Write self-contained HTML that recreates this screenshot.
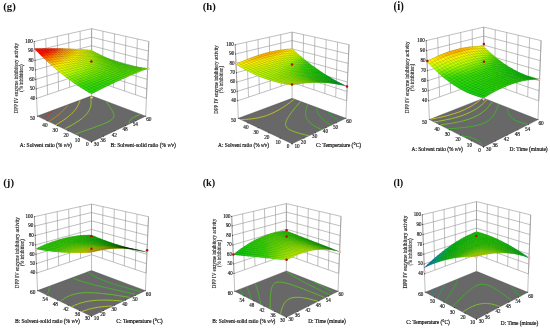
<!DOCTYPE html>
<html><head><meta charset="utf-8"><style>html,body{margin:0;padding:0;background:#fff;width:550px;height:330px;overflow:hidden}svg{display:block}text{font-family:"Liberation Serif",serif;fill:#111}</style></head>
<body><svg width="550" height="330" viewBox="0 0 550 330">
<rect width="550" height="330" fill="#fff"/>
<g><polygon points="37.37,116.11 91.56,95.87 145.69,116.14 91.49,141.98" fill="#686868" stroke="#444" stroke-width="0.4"/>
<path transform="scale(.1)" fill="none" stroke="#5ec321" stroke-width="9.0" d="M1059 1013l4 4 3 5 4 5 4 6 4 5 3 5 3 4 4 5 3 5 4 6 4 5 3 6 3 5 3 4 3 5 4 6 3 6 3 5 3 4 3 6 3 7 2 5 2 5 2 6 1 5 1 6 1 5 0 7-1 4-1 7-3 6-4 6-5 5-6 5-10 8-7 4-12 7-12 7-14 6-13 6-15 6-14 6-15 6-15 6-10 3-16 6-16 6-16 6-10 4-16 5-17 6-11 4-16 6-17 6-11 4-17 5-17 6-11 4-18 6-17 6"/>
<path transform="scale(.1)" fill="none" stroke="#5ec321" stroke-width="9.0" d="M1293 1239l-1-5 0-7 0-5 2-6 2-7 3-6 5-5 7-7 7-6 9-6 9-5 11-6 12-6 13-5 12-6 13-5"/>
<path transform="scale(.1)" fill="none" stroke="#a3d41d" stroke-width="9.0" d="M904 963l0 4 2 5 1 5 0 3 1 6 1 4 0 5 1 5 0 4 1 6 0 4 0 6 0 3 0 7-1 3 0 6-1 5 0 5-1 6-1 3-1 7-2 5-1 4-2 6-2 6-2 4-2 5-3 6-4 6-3 5-3 5-3 5-4 6-4 5-4 6-5 5-5 6-6 6-6 6-7 7-6 5-7 5-6 6-9 7-8 5-7 6-11 7-7 5-10 6-10 6-10 7-10 6-13 7-8 5-13 7-14 7-9 5-14 7-14 7"/>
<path transform="scale(.1)" fill="none" stroke="#d4cb1d" stroke-width="9.0" d="M800 1002l-1 3-2 6-1 5-2 4-2 6-1 5-2 4-3 6-2 5-2 4-3 5-3 6-3 6-3 4-2 5-4 5-4 6-4 5-4 6-5 6-4 5-5 6-5 5-5 6-6 5-5 5-6 6-6 5-6 5-6 6-7 6-9 7-6 5-7 5-7 5-11 8-7 5-8 5-11 8-8 5-11 7-9 5-9 6-12 7-10 6"/>
<path transform="scale(.1)" fill="none" stroke="#d4871d" stroke-width="9.0" d="M681 1046l-3 5-3 4-4 5-4 6-5 5-4 6-5 5-5 6-5 5-5 5-5 6-5 5-6 6-5 5-6 5-6 5-6 6-6 5-7 5-7 6-9 7-7 6-7 5-7 5-9 7-9 6-8 5-8 5-11 8-8 5"/>
<path transform="scale(.1)" fill="none" stroke="#d42b1d" stroke-width="9.0" d="M542 1098l-6 6-6 5-6 5-6 5-6 6-7 5-6 5-7 5-8 7-9 6-7 5-7 6-7 5-11 7-8 6-7 5"/>
<path d="M37.37 116.11h0.01M91.49 141.98h0.01M47.11 120.77h0.01M103.49 136.26h0.01M57.36 125.66h0.01M114.87 130.83h0.01M68.14 130.82h0.01M125.67 125.68h0.01M79.5 136.25h0.01M135.93 120.79h0.01M91.49 141.98h0.01M145.69 116.14h0.01" stroke="#222" stroke-width="1" stroke-linecap="round"/>
<path transform="scale(.1)" fill="none" stroke="#949494" stroke-width="6.0" d="M366 984l550-186 548 186M362 889l554-176 552 176M358 794l558-166 556 166M354 699l562-156 560 157M350 605l566-148 564 148M346 510l570-138 568 138M342 415l574-128 572 128M366 984l-24-569M916 798l0-511M476 947l-19-558M1025 835l5-522M586 909l-14-545M1135 873l10-535M696 872l-10-534M1245 910l14-546M806 835l-5-522M1355 947l19-557M916 798l0-511M1464 984l24-569"/>
<path transform="scale(.1)" fill="none" stroke="#949494" stroke-width="6.0" d="M374 1161l-8-177-24-569M1457 1161l7-177 24-569M916 959l0-161"/>
<path d="M36.63 98.37h0.01M36.23 88.89h0.01M35.83 79.41h0.01M35.43 69.93h0.01M35.03 60.45h0.01M34.64 50.98h0.01M34.24 41.5h0.01" stroke="#222" stroke-width="1" stroke-linecap="round"/>
<g transform="scale(.1)"><path fill="#b4ff00" d="M890 500l26 0 25 17-25 0zM888 581l27-4 28 17-28 4zM809 665l29-8 28 19-29 8zM726 706l30-9 29 21-31 9z"/><path fill="#a2f900" d="M913 513l25 0 26 16-25 1zM912 611l28-6 28 17-28 6zM834 681l30-8 28 18-29 9zM723 731l32-10 28 21-31 11zM695 739l32-10 28 22-31 10z"/><path fill="#c3fc00" d="M867 498l26 0 25 17-26 1zM866 510l27 0 25 17-26 1zM865 537l27-2 26 17-26 3zM865 551l27-2 26 17-27 3zM838 602l28-5 27 18-28 6zM811 624l29-6 28 19-29 6zM784 649l29-7 28 19-30 8zM700 688l31-9 28 22-31 9z"/><path fill="#93f603" d="M936 526l25-1 27 16-26 1zM937 624l28-6 28 16-28 7z"/><path fill="#b7ff00" d="M890 512l26-1 25 17-25 1zM889 524l27-1 26 16-26 2zM889 551l26-3 27 17-27 3zM888 565l27-3 27 17-27 4zM862 617l29-6 27 18-28 6zM836 640l29-7 28 18-29 7zM698 713l31-9 28 21-31 10z"/><path fill="#d2f900" d="M843 496l27 0 25 18-26 0zM843 509l26-1 26 18-27 1zM842 523l27-2 26 18-27 2zM786 608l29-5 28 19-29 6z"/><path fill="#84f003" d="M959 538l25-1 27 15-25 2z"/><path fill="#a5f900" d="M913 525l26-1 26 16-26 2zM912 594l28-4 27 16-27 5zM861 655l29-7 28 17-29 8zM666 747l32-10 29 22-32 11zM637 755l33-10 28 23-32 11z"/><path fill="#def900" d="M820 495l26-1 26 18-27 1zM819 508l27-1 25 18-26 2zM818 522l27-1 26 18-27 2zM789 571l29-4 26 19-28 4zM762 592l29-5 27 19-29 6zM734 615l29-6 28 20-30 7zM590 686l32-8 27 24-31 9z"/><path fill="#75ed03" d="M982 550l26-2 27 15-26 2zM1009 600l26-4 28 14-26 5zM1010 614l27-5 28 14-27 6zM1011 630l27-7 28 15-26 7zM1012 645l27-6 29 14-27 7zM989 686l28-9 30 15-28 9zM912 726l29-10 30 17-29 11z"/><path fill="#96f603" d="M936 538l26-2 26 16-26 2zM937 608l27-5 28 16-27 5zM887 670l28-8 29 17-29 9zM833 703l30-9 29 19-30 9z"/><path fill="#edf600" d="M796 493l27 0 25 18-27 1zM795 507l27-1 26 19-28 1zM765 555l29-3 26 19-28 4zM738 575l29-4 27 20-29 4zM709 597l30-5 27 21-29 5zM593 660l32-7 28 23-32 8z"/><path fill="#6cea06" d="M1006 562l26-3 27 14-26 4zM1034 612l26-6 28 14-26 6zM1038 657l27-7 29 14-27 8zM1016 698l27-9 30 15-28 9z"/><path fill="#87f303" d="M959 550l26-2 27 15-26 3zM962 637l28-6 28 15-27 7zM832 726l30-10 30 19-31 10z"/><path fill="#a8fc00" d="M913 537l26-1 26 16-26 2zM913 551l26-3 27 16-27 3zM913 564l26-3 27 17-26 3zM913 579l26-4 28 17-27 4zM808 687l29-9 29 19-30 9z"/><path fill="#c6fc00" d="M866 523l26-1 26 17-26 2zM839 585l28-5 27 18-28 5zM757 653l30-7 28 20-30 8zM672 694l31-9 28 22-31 9z"/><path fill="#fcf300" d="M772 492l27-1 25 19-27 1zM742 538l28-2 26 20-28 3zM656 603l30-5 27 22-30 6zM597 635l31-7 28 23-32 8z"/><path fill="#60e706" d="M1030 573l25-3 28 14-25 3zM1057 609l26-5 28 13-25 6zM1086 648l26-7 30 13-27 7zM1088 663l26-8 30 13-26 9zM1090 679l27-8 30 13-27 9zM1067 703l28-10 30 14-28 10zM1330 724l26-13 32 9-25 12z"/><path fill="#7bf003" d="M983 562l26-2 27 14-26 4zM938 698l29-9 29 16-28 10zM776 767l31-11 29 20-31 12zM747 776l32-11 29 21-31 12z"/><path fill="#99f603" d="M936 550l26-2 27 16-26 3zM936 564l27-3 27 15-27 4zM937 578l26-4 27 16-26 4zM937 592l27-4 27 16-27 5zM912 646l28-7 29 16-28 8zM806 710l30-10 29 20-30 10z"/><path fill="#baff00" d="M889 537l27-2 26 17-27 2zM863 599l28-5 27 18-28 5zM782 670l30-7 28 19-30 8zM669 720l32-10 28 23-31 10zM641 727l31-9 29 22-32 11z"/><path fill="#57e706" d="M1054 584l25-4 28 13-25 5zM1110 643l26-7 29 13-26 7zM1138 668l26-8 30 11-26 9zM1141 683l26-9 30 12-26 10zM1344 687l24-11 32 8-24 11zM1320 694l25-10 33 8-25 11zM1143 700l27-10 30 12-26 10zM1297 702l25-11 33 9-26 11zM1274 710l25-11 32 9-26 12zM1146 717l27-11 31 12-27 11zM1250 718l26-11 32 10-26 12zM1121 725l27-11 31 13-27 11zM1096 733l28-11 31 13-28 12zM1254 735l26-12 32 10-26 12zM1071 741l28-11 31 14-29 12zM1045 750l28-11 31 14-28 12zM1258 753l26-13 33 9-27 14zM829 802l31-13 30 19-31 14z"/><path fill="#6fed03" d="M1007 574l26-3 27 14-25 4zM1014 680l28-9 29 15-27 9zM990 705l28-10 30 16-28 10zM964 712l29-10 30 16-29 10z"/><path fill="#ffe400" d="M747 490l28 0 25 19-27 1zM600 611l31-6 27 23-31 6z"/><path fill="#8af303" d="M960 563l26-3 27 15-26 4zM962 621l27-6 28 15-27 7zM938 659l28-7 28 16-28 8zM912 684l29-8 29 17-29 9zM805 734l30-10 30 19-31 11zM777 741l31-10 29 20-30 11z"/><path fill="#51e406" d="M1079 594l25-4 28 13-25 4zM1133 639l26-7 29 12-25 7zM1162 662l25-8 31 12-26 8zM1316 681l24-10 32 8-24 10zM1242 687l26-9 31 10-26 10zM1191 686l26-9 31 11-26 9zM1293 688l25-10 31 8-25 11zM1218 694l26-9 31 10-25 10zM1151 754l28-12 31 12-27 13zM1098 753l28-12 31 13-28 13zM1073 762l28-12 31 14-28 12zM1208 773l27-13 33 11-28 14zM939 787l30-12 31 17-30 13zM743 833l33-13 30 21-32 14z"/><path fill="#f9f300" d="M770 506l28-1 25 19-27 2z"/><path fill="#66ea06" d="M1031 585l26-4 28 14-26 4zM1060 637l27-6 29 13-27 7zM1062 652l27-7 29 14-27 7zM1064 668l27-8 29 14-27 8zM1041 692l27-9 30 14-28 9zM1400 697l24-11 33 6-24 12zM1377 706l25-12 33 7-25 12zM1017 717l28-10 30 15-28 11zM991 725l29-10 30 15-29 11zM774 794l32-12 29 20-31 13zM746 804l31-12 30 21-32 13z"/><path fill="#7ef003" d="M984 575l26-3 27 14-26 4zM987 633l27-6 28 15-27 7zM988 650l27-7 29 15-28 7zM963 673l28-8 29 15-28 9zM912 705l29-9 29 16-28 10z"/><path fill="#ffd200" d="M722 489l28-1 26 20-28 1zM604 587l31-5 26 23-30 6zM544 618l32-6 27 24-32 7z"/><path fill="#cffc00" d="M841 537l27-2 27 18-28 2zM840 552l28-3 26 18-27 3zM813 587l29-5 27 19-28 5zM759 632l29-6 28 19-30 7zM702 664l31-8 28 21-31 8zM586 714l32-9 28 24-32 9z"/><path fill="#eaf600" d="M793 522l28-2 26 19-28 2zM680 622l30-6 28 21-31 7zM622 655l31-7 28 22-32 8z"/><path fill="#4be106" d="M1103 604l25-5 29 13-25 5z"/><path fill="#5de706" d="M1056 596l25-4 28 13-25 5zM1084 633l26-6 29 13-26 7zM1394 684l24-10 33 6-24 11zM1372 692l24-11 33 7-25 11zM1092 696l27-9 30 13-27 10zM1349 700l24-11 33 8-25 11zM1325 708l25-11 33 8-25 12zM1069 722l28-11 30 14-28 11zM1044 730l28-11 30 14-28 11zM1306 733l26-12 33 8-26 13zM1018 738l28-11 31 15-29 11zM992 746l29-11 30 15-29 12zM966 755l29-12 30 16-29 12zM939 764l30-12 30 17-30 12zM912 773l30-12 30 17-30 13z"/><path fill="#ffea00" d="M745 506l28-2 26 20-28 2zM716 539l29-3 26 21-29 3zM540 644l32-7 27 25-32 7z"/><path fill="#72ed03" d="M1008 587l26-4 28 14-26 5zM1013 662l28-8 29 15-28 8zM938 719l29-10 30 17-29 10z"/><path fill="#8df303" d="M960 576l27-3 27 15-26 4zM961 590l26-4 28 15-27 5zM961 605l27-5 28 16-27 5zM886 690l29-8 29 17-29 9zM749 750l32-11 29 21-31 11zM721 758l32-11 29 21-32 12zM692 766l32-11 29 22-31 12zM663 775l33-11 29 23-32 11z"/><path fill="#ffc000" d="M697 488l29-1 25 21-28 1zM667 522l29-2 26 21-29 3zM637 542l30-3 26 22-29 4zM607 565l31-4 26 23-30 4z"/><path fill="#dbf900" d="M817 537l27-2 26 18-27 3zM705 640l30-6 28 21-31 7zM618 680l32-8 28 23-32 9z"/><path fill="#45e106" d="M1128 614l25-6 29 12-25 6zM1182 644l25-7 30 11-25 7zM1208 652l25-8 30 11-25 8zM1284 661l25-8 31 9-25 9zM1235 660l25-8 30 9-25 9zM1103 795l28-14 32 14-29 14zM1048 794l29-13 32 14-29 14zM1157 795l28-14 32 12-28 15zM967 802l30-14 31 17-30 14zM828 829l32-13 30 19-31 14z"/><path fill="#f6f300" d="M769 522l27-2 26 19-27 2zM740 556l28-3 27 20-29 4zM712 577l29-4 27 20-30 5zM683 600l30-5 27 21-30 6zM625 630l31-6 27 23-31 7zM535 671l33-8 27 25-32 9z"/><path fill="#54e406" d="M1081 606l25-5 28 13-25 6zM1108 629l25-6 29 13-25 6zM1136 653l25-7 30 11-26 8zM1165 677l26-9 30 12-26 9zM1366 679l25-10 32 7-24 11zM1269 695l26-10 31 9-25 11zM1167 693l27-10 30 12-26 10zM1194 702l27-10 31 10-26 11zM1246 702l26-10 31 10-26 11zM1222 710l26-11 32 11-27 11zM1170 709l27-10 31 11-27 11zM1198 718l26-11 32 11-27 12zM1173 726l27-11 32 12-27 12zM1226 727l26-12 32 11-27 12zM1149 735l27-11 31 12-27 12zM1201 736l27-12 32 11-27 12zM1176 745l28-12 31 11-27 13zM1124 744l27-12 31 13-27 12zM1229 744l27-12 32 10-27 13zM1204 754l28-13 32 11-27 14zM1233 763l27-14 32 11-27 14zM1019 759l29-12 31 15-29 13zM993 768l29-12 31 16-30 12zM966 778l30-13 30 17-29 12zM801 812l31-13 31 20-32 13zM772 822l32-13 30 21-31 14z"/><path fill="#69ea06" d="M1033 598l25-5 28 14-25 5zM1039 674l27-8 30 14-27 9zM1423 689l24-12 33 6-24 12zM965 733l29-11 30 16-29 11zM939 741l29-11 30 17-29 11zM912 749l30-11 30 17-30 12zM885 758l30-12 30 18-30 12zM858 766l30-11 30 18-30 12zM830 775l31-11 30 19-31 12zM802 785l31-12 30 19-31 13z"/><path fill="#ffd800" d="M720 505l29-1 25 20-28 2zM661 561l30-4 26 22-29 4z"/><path fill="#81f003" d="M985 588l26-4 27 15-26 5zM985 603l27-5 28 15-27 5zM986 618l27-6 28 15-27 6zM886 712l29-10 29 18-29 10z"/><path fill="#ffae00" d="M672 487l29-1 25 21-29 1z"/><path fill="#e7f600" d="M792 537l28-2 26 19-28 3zM764 573l28-4 27 19-28 5zM736 594l29-5 27 20-29 6z"/><path fill="#42e106" d="M1154 623l25-6 29 11-25 6zM1022 805l29-14 31 15-29 14zM1131 806l29-14 32 13-29 15zM940 812l30-13 31 17-30 14zM800 840l31-14 31 20-32 15z"/><path fill="#4ee406" d="M1106 616l25-5 29 12-26 6zM1159 648l25-7 30 11-25 8zM1339 674l24-10 32 8-25 10zM1188 671l26-8 30 10-25 10zM1265 681l25-10 32 9-25 10zM1215 680l26-10 30 11-25 9zM1126 764l28-13 31 13-27 13zM1179 764l28-13 32 12-28 13zM1047 771l28-12 31 15-28 13zM912 797l30-12 31 17-30 14z"/><path fill="#fff000" d="M744 522l28-2 26 19-28 3zM568 639l32-6 27 23-31 8z"/><path fill="#ffc600" d="M695 504l28-1 26 21-28 2z"/><path fill="#ff9c00" d="M646 486l29-1 26 21-29 2z"/><path fill="#c0fc00" d="M864 567l27-4 27 17-27 4zM728 682l30-9 28 21-30 9z"/><path fill="#d8f900" d="M816 553l27-3 27 18-28 4zM788 589l28-5 28 19-29 6zM760 611l30-5 27 19-29 6zM647 675l31-8 28 22-31 9z"/><path fill="#3fe106" d="M1179 631l25-6 30 11-25 7zM1231 647l25-7 30 10-25 7zM1257 655l25-8 31 9-25 8zM1076 806l29-14 32 14-29 15zM912 823l31-13 30 17-30 15z"/><path fill="#4be406" d="M1131 626l25-6 29 12-25 6zM1185 657l25-8 31 11-26 8zM1212 665l25-8 30 10-25 9zM1288 674l25-9 32 9-25 9zM1238 673l26-9 30 10-25 10zM1100 773l29-12 31 13-28 13zM1154 774l28-13 32 12-28 14zM1183 784l27-14 33 12-28 14zM1020 781l29-12 31 15-29 13zM884 808l31-13 31 18-31 13z"/><path fill="#f0f600" d="M767 538l28-3 26 20-28 3zM653 626l30-6 28 22-31 7zM565 666l32-8 27 24-32 8z"/><path fill="#5ae706" d="M1082 619l26-5 29 13-26 6zM1112 658l26-8 30 13-26 8zM1114 673l27-8 30 12-27 9zM1116 690l27-10 30 13-26 10zM1119 707l27-10 30 12-27 11zM1094 714l27-10 31 13-28 11zM1302 717l25-12 33 9-26 12zM1278 726l26-12 32 9-26 13zM1282 743l26-13 33 9-26 14zM885 782l30-12 30 18-30 13zM857 792l31-13 30 19-31 13z"/><path fill="#ffe100" d="M718 522l29-2 26 20-29 2zM511 649l32-7 27 25-32 8z"/><path fill="#ffb700" d="M669 504l29-2 26 22-29 2zM580 567l31-4 26 23-31 5z"/><path fill="#ff8700" d="M620 485l30-1 25 22-29 2z"/><path fill="#ccfc00" d="M839 568l28-4 27 18-28 4zM730 658l30-7 28 21-30 7zM615 707l32-9 28 23-32 10z"/><path fill="#e1f600" d="M791 554l28-3 26 19-28 3z"/><path fill="#3fde06" d="M1205 639l25-6 30 10-25 7zM771 852l32-14 30 20-32 15z"/><path fill="#48e106" d="M1156 635l25-6 30 11-25 7zM1261 667l25-8 31 9-25 9zM1311 668l25-9 31 8-24 9zM1128 784l29-13 32 13-29 14zM1074 784l29-14 31 14-28 14zM994 791l29-13 31 16-29 14zM857 818l31-13 30 19-31 14z"/><path fill="#63ea06" d="M1059 623l26-6 29 13-26 6zM1065 685l28-9 29 14-27 9zM1042 710l28-10 30 14-28 11zM1354 714l25-11 33 7-26 13zM717 814l32-12 29 21-32 14z"/><path fill="#ffcf00" d="M693 522l28-2 26 20-28 3z"/><path fill="#ffa500" d="M643 504l30-2 25 22-29 2zM583 545l31-3 26 23-30 4z"/><path fill="#c0ff00" d="M864 583l27-5 27 18-27 4z"/><path fill="#ff6f00" d="M594 485l30-2 25 23-30 2zM532 526l31-3 26 24-31 4z"/><path fill="#d5f900" d="M814 569l28-3 27 18-28 4zM732 636l30-6 27 20-29 7zM675 669l31-8 28 22-31 8z"/><path fill="#6ced03" d="M1035 626l27-6 28 14-26 6zM1037 641l26-7 29 14-27 8z"/><path fill="#b1fc00" d="M888 597l27-5 28 17-28 5z"/><path fill="#ff9600" d="M617 504l30-2 25 22-29 3zM587 524l30-3 26 23-30 4zM495 575l32-5 27 25-32 6z"/><path fill="#ff5400" d="M567 484l30-1 26 23-30 2zM536 505l31-3 26 24-31 3z"/><path fill="#ffdb00" d="M690 540l29-3 26 21-29 4zM572 614l32-6 27 24-32 7z"/><path fill="#ffb100" d="M640 523l30-3 26 22-30 3zM611 544l30-4 26 23-30 4z"/><path fill="#ff8400" d="M591 504l29-2 26 23-30 2zM560 525l30-3 26 24-30 3z"/><path fill="#ff3c00" d="M540 484l31-2 25 24-30 2z"/><path fill="#fff300" d="M714 558l29-4 26 21-29 4zM685 579l30-4 27 21-30 5z"/><path fill="#ffcc00" d="M664 541l29-3 27 21-30 4zM634 563l30-4 27 22-30 5zM515 623l32-7 27 25-32 7z"/><path fill="#abfc00" d="M888 614l27-6 28 17-28 6zM781 693l30-9 28 20-30 9z"/><path fill="#ffa200" d="M614 523l30-2 26 22-30 3zM462 604l32-5 27 25-33 7z"/><path fill="#ff6c00" d="M564 504l30-2 26 23-31 3z"/><path fill="#ff2400" d="M513 484l31-2 25 24-30 3zM419 532l32-3 26 26-32 4z"/><path fill="#ffe700" d="M688 559l29-3 27 21-30 4zM658 582l30-5 27 22-30 5z"/><path fill="#9cf903" d="M912 628l28-6 28 16-28 7zM861 675l29-8 28 18-29 9zM779 717l30-10 29 20-30 10z"/><path fill="#c9fc00" d="M812 605l29-5 27 18-28 6zM785 628l29-6 28 19-29 7zM644 700l31-8 28 22-31 9z"/><path fill="#ff1500" d="M486 484l31-2 25 25-31 2zM458 484l31-2 25 25-31 3zM430 484l31-2 26 26-32 3zM453 507l31-3 26 26-32 3zM401 485l32-3 25 27-32 3zM424 508l32-3 26 26-32 4zM372 485l32-2 26 27-33 3zM395 509l33-3 25 27-32 3zM343 486l32-3 26 28-33 3zM366 510l33-3 25 28-32 3zM390 534l32-3 26 27-32 4z"/><path fill="#90f603" d="M937 641l28-6 29 16-28 7zM912 664l29-7 28 17-28 8zM860 696l29-8 29 18-29 9z"/><path fill="#a5fc00" d="M887 632l28-7 28 17-28 7z"/><path fill="#bdff00" d="M837 620l28-5 28 18-28 6zM810 644l29-7 28 19-29 7zM755 676l30-8 28 20-30 9zM612 735l32-10 28 23-32 11z"/><path fill="#ff3f00" d="M509 505l31-2 25 24-30 3z"/><path fill="#84f303" d="M963 654l28-7 28 16-27 8zM938 678l28-8 29 16-28 9zM859 719l30-10 29 18-30 10z"/><path fill="#aefc00" d="M862 635l28-6 28 18-28 7zM835 660l29-8 28 19-29 8zM753 699l31-8 28 20-30 9z"/><path fill="#ff2a00" d="M481 506l31-3 26 25-31 4z"/><path fill="#78f003" d="M989 667l27-8 29 16-27 8zM831 750l31-11 29 19-30 12zM804 759l30-11 30 19-31 12zM719 785l32-11 29 21-32 13zM690 795l32-12 29 22-32 13z"/><path fill="#9ff900" d="M887 650l28-7 29 17-29 8z"/><path fill="#ff9900" d="M556 547l31-4 26 24-31 4z"/><path fill="#ff5d00" d="M504 527l32-3 26 25-32 4z"/><path fill="#ffde00" d="M631 584l31-4 26 22-30 5z"/><path fill="#ff8d00" d="M528 549l31-4 26 24-31 5z"/><path fill="#e4f600" d="M707 618l30-6 27 21-29 7zM650 650l31-7 27 22-31 8z"/><path fill="#ff4800" d="M476 529l32-3 26 25-32 4zM413 558l33-4 26 26-32 5z"/><path fill="#ffab00" d="M552 570l31-5 27 24-32 5zM491 601l32-6 27 25-33 6z"/><path fill="#ff7b00" d="M500 551l32-4 26 25-32 4zM437 581l33-5 26 27-32 5z"/><path fill="#ff3600" d="M448 531l32-4 26 26-32 4z"/><path fill="#ffed00" d="M628 607l31-6 27 23-31 6z"/><path fill="#78ed03" d="M964 692l28-9 30 16-29 9zM886 734l29-10 30 17-30 11zM859 742l30-11 29 19-30 11z"/><path fill="#ffc900" d="M576 590l31-5 27 24-31 5z"/><path fill="#ff9f00" d="M524 572l31-4 27 24-32 5z"/><path fill="#ff6900" d="M471 553l32-4 27 25-32 5z"/><path fill="#ffbd00" d="M548 594l31-6 27 24-31 6z"/><path fill="#ff5700" d="M443 555l32-4 26 26-32 5z"/><path fill="#e1f900" d="M677 645l31-7 28 22-31 7zM561 693l32-9 28 24-33 10z"/><path fill="#ffb400" d="M520 597l31-6 27 25-32 6z"/><path fill="#ff8a00" d="M467 578l32-5 26 26-32 5z"/><path fill="#ffc300" d="M486 627l32-6 27 25-32 7z"/><path fill="#9ff903" d="M751 724l31-10 29 21-31 10z"/><path fill="#3cde06" d="M1050 817l29-14 32 15-30 15zM1105 818l29-15 32 14-29 15zM995 816l29-14 32 16-30 14zM884 834l31-14 31 19-31 14z"/><path fill="#36de09" d="M1023 829l30-15 31 16-29 15zM1078 830l30-15 32 14-30 16zM1051 842l30-15 32 15-30 15zM996 841l30-15 31 16-30 16zM940 838l30-14 32 17-31 15zM968 853l30-15 32 17-30 15zM912 850l31-14 31 17-31 16zM827 858l32-15 31 20-32 15zM798 870l32-15 31 20-32 16z"/><path fill="#39de09" d="M967 827l31-14 31 16-30 15zM856 846l31-14 31 19-31 15z"/><path fill="#33db09" d="M1024 855l30-16 32 15-30 17zM997 867l30-15 32 16-30 16zM940 866l31-16 32 17-31 17zM884 862l31-15 31 19-31 16zM855 875l32-15 31 19-32 16z"/><path fill="#30db09" d="M969 880l30-16 32 17-30 17zM912 878l31-15 32 18-32 16zM883 892l32-16 31 18-31 17zM826 888l32-16 31 20-32 16z"/><path fill="#2ddb09" d="M940 894l32-16 32 17-32 17zM854 905l32-16 32 19-32 17z"/><path fill="#2dd809" d="M912 908l31-17 32 18-31 18z"/><path fill="#2ad809" d="M883 922l32-17 32 19-32 17z"/></g>
<path transform="scale(.1)" fill="none" stroke="#000" stroke-opacity="0.32" stroke-width="4.0" d="M345 487l24 24 23 24 24 24 24 23 24 23 25 23 24 22 25 22 25 22 26 21 25 20 26 21 26 20 27 19 26 20 27 19 28 18 27 18 28 18 28 17 29 17 29 16M345 487l30-1 29 0 28-1 29 0 27 0 28 0 27 0 27 0 27 1 26 0 26 1 26 1 25 1 25 1 25 1 24 2 25 1 24 2 23 1 24 2 23 2 23 2M375 486l23 24 24 23 23 23 24 23 25 23 24 21 25 22 24 21 26 21 25 21 25 20 26 20 26 19 27 19 26 19 27 18 28 18 27 17 28 17 28 17 29 16 29 16M369 511l29-1 29-1 29-1 28-1 28-1 27 0 27-1 27 0 27 0 26 0 26 0 26 0 25 1 25 0 25 1 24 1 25 1 23 1 24 1 23 2 24 1 22 2M404 486l23 23 24 23 23 22 24 22 24 22 25 21 24 21 25 21 25 20 26 20 25 20 26 19 26 18 26 19 27 18 27 17 27 17 28 17 28 17 28 16 28 15 29 15M392 535l30-2 29-1 28-2 28-1 28-2 28-1 27-1 27-1 26 0 26-1 26 0 26 0 25 0 25 0 25 0 25 0 24 1 24 0 23 1 24 1 23 1 22 1M432 485l24 23 23 22 24 22 24 21 24 21 24 21 25 21 25 20 25 19 25 20 25 18 26 19 26 18 27 18 26 17 27 17 28 17 27 16 28 15 28 16 29 15 29 14M416 559l29-3 29-2 29-2 28-2 28-2 27-2 27-1 27-2 27-1 26-1 26-1 26-1 25 0 25-1 25 0 24 0 24 0 24 0 24 0 23 1 23 0 23 1M461 485l23 22 23 22 24 21 24 21 24 20 24 20 25 20 25 20 25 19 25 18 25 19 26 17 26 18 27 17 26 17 27 16 27 16 28 15 28 16 28 14 29 14 28 14M440 582l29-3 29-3 29-3 28-2 28-3 27-2 27-2 27-2 27-2 26-1 26-2 25-1 25-1 25-1 25-1 25-1 24 0 23-1 24 0 23 0 23 0 23 0M488 485l24 21 23 21 24 21 24 20 24 20 24 20 25 19 24 19 25 18 26 18 25 18 26 17 26 17 26 17 27 16 27 15 27 16 28 15 27 14 29 14 28 14 29 13M464 605l30-3 28-4 29-4 28-3 28-3 27-3 27-2 27-3 27-2 26-2 26-2 25-2 25-2 25-1 25-2 24-1 24-1 24-1 24 0 23-1 23 0 23-1M516 485l23 21 24 20 23 20 24 20 24 19 24 19 25 19 25 18 25 18 25 17 25 18 26 16 26 17 27 15 26 16 27 15 27 15 28 14 28 14 28 13 28 13 29 12M489 628l29-5 29-4 28-4 28-4 28-3 27-4 28-3 26-3 27-3 26-3 26-2 25-3 25-2 25-2 25-2 24-1 24-2 24-1 24-1 23-1 23-1 23-1M543 485l23 20 24 20 23 20 24 19 24 19 25 18 24 18 25 18 25 17 25 17 25 16 26 16 26 16 27 15 26 15 27 15 27 14 28 13 28 14 28 12 28 13 29 12M513 650l30-5 28-5 29-4 28-5 28-4 27-4 27-4 27-4 26-3 26-3 26-3 26-3 25-3 25-3 24-2 25-2 24-2 24-2 23-2 23-1 23-2 23-1M570 485l23 20 24 19 23 19 24 19 24 18 24 18 25 17 25 18 24 16 26 17 25 15 26 16 26 15 26 15 27 14 27 14 27 13 27 13 28 13 28 12 29 12 29 11M538 672l29-6 29-5 29-5 28-5 27-5 28-5 27-4 27-4 26-4 26-4 26-4 25-3 25-4 25-3 25-3 24-2 24-3 24-2 24-2 23-3 23-1 22-2M597 486l23 19 23 19 24 18 24 18 24 18 24 17 24 17 25 17 25 16 25 15 25 16 26 15 26 14 26 14 27 14 27 13 27 13 28 13 27 12 29 11 28 11 29 11M563 694l30-7 28-6 29-6 28-5 27-6 28-5 27-5 26-5 27-4 26-5 26-4 25-4 25-4 25-3 25-4 24-3 24-3 24-3 23-3 23-2 23-3 23-2M623 486l23 19 23 18 24 18 24 18 24 17 24 16 24 17 25 16 25 15 25 15 26 15 25 15 26 14 26 13 27 13 27 13 27 12 28 12 27 11 28 11 29 11 29 10M589 715l29-7 29-7 28-6 28-7 28-6 27-6 27-5 27-5 26-6 26-5 26-4 25-5 25-4 25-4 25-4 24-4 24-4 24-3 23-3 23-3 23-3 23-3M649 487l23 18 23 18 24 17 24 17 24 17 24 16 24 16 25 15 25 15 25 15 25 14 26 14 26 13 26 13 27 13 27 12 27 12 27 11 28 11 28 10 29 10 28 9M614 735l29-7 29-7 28-8 28-6 28-7 27-6 27-7 27-6 26-5 27-6 25-5 26-5 25-5 25-5 24-4 24-4 24-5 24-3 24-4 23-4 23-3 22-3M675 488l23 17 23 18 24 16 23 17 24 16 24 15 25 16 24 15 25 14 25 14 26 14 25 13 26 13 27 12 26 12 27 12 27 11 28 11 27 10 28 10 29 9 29 9M640 756l29-8 29-8 28-8 28-8 28-7 27-7 27-7 27-6 26-6 26-6 26-6 25-6 25-5 25-6 25-5 24-4 24-5 24-4 23-5 23-4 23-3 23-4M700 489l23 17 23 17 24 16 23 16 24 15 24 15 25 15 24 14 25 14 25 14 26 13 25 13 26 12 27 12 26 11 27 11 27 11 28 10 27 10 28 9 29 9 29 8M666 776l29-9 29-9 28-8 28-8 28-8 27-7 27-8 27-7 26-7 26-6 26-7 25-6 25-6 25-6 25-5 24-6 24-5 24-5 23-4 23-5 23-4 23-4M725 490l23 16 23 17 24 15 23 16 24 15 24 14 25 14 24 14 25 14 25 13 26 12 25 12 26 12 26 12 27 10 27 11 27 10 27 9 28 10 28 8 29 8 28 8M693 795l29-9 28-9 29-9 28-9 27-8 28-9 27-8 26-7 26-8 26-7 26-7 26-7 25-6 24-6 25-7 24-5 24-6 24-6 23-5 23-5 23-5 23-4M750 491l23 16 23 16 24 15 23 15 24 14 24 14 24 14 25 13 25 13 25 13 25 12 26 11 26 12 26 10 26 11 27 10 27 9 28 9 28 9 28 8 28 7 29 8M719 815l29-10 29-10 28-10 28-9 28-9 27-9 27-9 27-8 26-8 26-8 26-7 25-8 25-7 25-7 24-6 25-7 24-6 23-6 24-5 23-6 22-5 23-6M774 493l23 15 24 15 23 15 24 14 23 14 24 14 25 13 24 13 25 12 25 12 25 12 26 11 26 10 26 11 27 9 26 10 27 9 28 8 28 8 28 8 28 7 29 6M746 834l29-11 29-11 28-10 28-10 28-10 27-9 27-9 27-9 26-9 26-8 26-8 25-8 25-8 25-7 24-7 24-7 24-7 24-6 23-7 23-6 23-6 23-5M799 494l23 15 23 15 23 14 24 14 23 13 24 13 25 13 24 12 25 12 25 11 25 11 26 11 26 10 26 10 27 9 26 9 27 8 28 8 28 8 28 7 28 6 29 6M774 852l29-11 28-12 29-10 27-11 28-10 27-10 27-10 27-10 26-9 26-9 26-8 25-9 25-8 25-8 24-8 24-7 24-8 24-7 23-6 23-7 23-6 23-6M823 496l22 14 24 14 23 14 23 13 24 13 24 13 25 12 24 12 25 11 25 11 25 11 26 10 26 9 26 9 26 9 27 9 27 7 27 8 28 7 28 6 29 6 28 6M801 870l29-12 29-12 28-11 28-12 28-10 27-11 27-11 26-10 27-9 26-10 25-9 26-9 25-9 24-9 25-8 24-8 24-8 23-7 24-7 23-8 23-6 22-7M846 497l23 14 23 14 24 13 23 13 24 13 24 12 24 11 25 12 24 10 25 11 26 10 25 9 26 10 26 8 27 9 26 7 27 8 28 7 27 6 29 6 28 5 29 5M829 888l29-13 29-12 28-13 28-11 27-12 28-11 27-11 26-11 26-10 26-11 26-9 25-10 25-9 25-9 25-9 24-9 24-8 23-8 23-8 23-8 23-7 23-7M870 499l22 14 24 13 23 13 23 12 24 12 24 12 24 11 25 10 24 11 25 10 26 9 25 9 26 9 26 8 27 8 26 7 27 7 28 6 27 6 29 6 28 5 29 4M857 905l29-13 29-13 28-13 28-13 28-12 27-12 27-12 26-11 27-11 25-11 26-10 25-10 25-10 25-10 25-9 24-9 24-9 23-9 24-8 23-8 22-8 23-8M893 501l23 13 23 13 23 12 23 12 24 12 24 11 24 10 25 11 24 9 25 10 26 9 25 9 26 8 26 7 26 8 27 6 27 7 28 6 27 5 28 5 29 4 28 4M886 922l29-14 28-14 29-13 28-14 27-12 27-13 27-12 27-12 26-12 26-11 26-11 25-11 25-10 25-11 24-10 24-9 24-10 24-9 23-9 23-8 23-9 22-8M916 503l22 13 23 12 24 12 23 11 24 11 24 11 24 10 24 10 25 9 25 9 25 9 26 8 26 8 26 7 26 6 27 7 27 6 27 5 28 5 28 4 28 4 29 4M915 938l29-14 28-15 29-14 27-14 28-13 27-14 27-12 27-13 26-12 26-12 25-12 26-11 25-11 24-11 25-10 24-11 24-10 23-9 24-10 23-9 22-9 23-8"/>
<circle cx="91.4" cy="61.6" r="1.25" fill="#b01010"/>
<circle cx="34.4" cy="51.2" r="1.1" fill="#f4d8d8" stroke="#d08080" stroke-width="0.4"/>
<circle cx="91.8" cy="97.5" r="1.1" fill="#f4d8d8" stroke="#d08080" stroke-width="0.4"/>
<circle cx="148.3" cy="68.6" r="1.1" fill="#f4d8d8" stroke="#d08080" stroke-width="0.4"/>
<g font-size="5.1" stroke="#111" stroke-width="0.14"><text transform="matrix(1 0 0 1 35.23 99.77)" text-anchor="end">40</text><text transform="matrix(1 0 0 1 34.83 90.29)" text-anchor="end">50</text><text transform="matrix(1 0 0 1 34.43 80.81)" text-anchor="end">60</text><text transform="matrix(1 0 0 1 34.03 71.33)" text-anchor="end">70</text><text transform="matrix(1 0 0 1 33.63 61.85)" text-anchor="end">80</text><text transform="matrix(1 0 0 1 33.24 52.38)" text-anchor="end">90</text><text transform="matrix(1 0 0 1 32.84 42.9)" text-anchor="end">100</text><text transform="matrix(1 0 0 1 32.57 120.01)" text-anchor="middle" font-size="5.3">50</text><text transform="matrix(1 0 0 1 45.01 126.67)" text-anchor="middle" font-size="5.3">40</text><text transform="matrix(1 0 0 1 55.26 131.56)" text-anchor="middle" font-size="5.3">30</text><text transform="matrix(1 0 0 1 66.04 136.72)" text-anchor="middle" font-size="5.3">20</text><text transform="matrix(1 0 0 1 77.4 142.15)" text-anchor="middle" font-size="5.3">10</text><text transform="matrix(1 0 0 1 87.39 146.28)" text-anchor="middle" font-size="5.3">0</text><text transform="matrix(1 0 0 1 96.49 146.08)" text-anchor="middle" font-size="5.3">30</text><text transform="matrix(1 0 0 1 102.89 141.96)" text-anchor="middle" font-size="5.3">36</text><text transform="matrix(1 0 0 1 114.27 136.53)" text-anchor="middle" font-size="5.3">42</text><text transform="matrix(1 0 0 1 125.07 131.38)" text-anchor="middle" font-size="5.3">48</text><text transform="matrix(1 0 0 1 135.33 126.49)" text-anchor="middle" font-size="5.3">54</text><text transform="matrix(1 0 0 1 148.79 121.24)" text-anchor="middle" font-size="5.3">60</text></g>
<text transform="matrix(1 0 0 1 19.8 147.3)" font-size="5.6" textLength="52.1" lengthAdjust="spacingAndGlyphs" stroke="#111" stroke-width="0.2">A: Solvent ratio (% <tspan font-style="italic">v/v</tspan>)</text>
<text transform="matrix(1 0 0 1 110.5 146.8)" font-size="5.6" textLength="65.4" lengthAdjust="spacingAndGlyphs" stroke="#111" stroke-width="0.2">B: Solvent-solid ratio (% <tspan font-style="italic">v/v</tspan>)</text>
<text transform="matrix(1 0 0 1 18.3 78.1) rotate(-90)" font-size="5.6" text-anchor="middle" stroke="#111" stroke-width="0.1"><tspan x="0" y="0" textLength="70.4" lengthAdjust="spacingAndGlyphs">DPP IV enzyme inhibitory activity</tspan><tspan x="0" y="5.0" textLength="27.2" lengthAdjust="spacingAndGlyphs">(% inhibition)</tspan></text>
<text transform="matrix(1 0 0 1 3.2 10.4)" font-size="10.8" font-weight="bold" stroke="#111" stroke-width="0">(g)</text></g>
<g><polygon points="238.3,118.28 292.12,98.31 345.88,118.31 292.04,143.8" fill="#686868" stroke="#444" stroke-width="0.4"/>
<path transform="scale(.1)" fill="none" stroke="#20ab3d" stroke-width="9.0" d="M3280 1117l3 4 4 6 5 6 5 6 5 5 5 6 5 5 6 6 6 5 7 5 6 6 7 5 7 5 9 7 9 6 8 5 10 6"/>
<path transform="scale(.1)" fill="none" stroke="#2fb426" stroke-width="9.0" d="M3167 1074l0 5 1 5 0 5 1 5 1 5 1 6 1 4 2 7 2 4 2 5 3 7 2 4 2 5 4 6 4 6 3 5 4 5 4 5 4 6 6 5 5 6 6 6 7 6 8 7 7 5 7 6 8 5 11 7 8 5 12 7 9 5 13 7"/>
<path transform="scale(.1)" fill="none" stroke="#43bc22" stroke-width="9.0" d="M3079 1042l-2 4-2 5-2 4-2 6-2 5-1 5-2 4-2 6-1 5-1 4-2 6-1 6-1 4 0 5-1 6-1 4 0 7 0 4 0 6 0 5 1 6 1 5 1 6 1 4 2 7 2 6 2 4 3 6 3 7 4 6 4 5 4 6 5 6 6 6 7 6 6 6 7 5 8 6 10 7 8 5 13 7 9 5 13 7 14 6 15 7 15 6"/>
<path transform="scale(.1)" fill="none" stroke="#8bcf1e" stroke-width="9.0" d="M3006 1015l-4 4-4 5-4 5-4 4-4 5-4 5-4 5-5 5-4 4-4 5-4 5-4 5-4 5-4 5-5 5-4 5-4 6-4 5-4 5-4 5-5 6-4 5-4 6-4 5-4 6-4 5-3 5-4 5-3 5-3 5-4 6-4 6-3 6-3 6-3 5-2 5-3 7-3 6-1 5-2 6-1 7-1 4 0 8 0 5 1 6 3 7 2 6 4 6 6 7 7 6 7 5 12 7 14 7 14 6 16 6 17 6 11 4 18 5 12 3 17 5 15 3 13 4 16 3 17 4 13 3"/>
<path transform="scale(.1)" fill="none" stroke="#c7cd1d" stroke-width="9.0" d="M2943 991l-5 4-7 6-6 5-6 4-5 4-7 5-7 5-6 5-5 4-8 5-7 5-6 4-7 5-8 6-7 4-7 5-8 6-7 4-10 6-7 4-9 6-8 5-9 5-10 5-11 6-8 4-12 6-12 6-9 4-13 5-13 6-15 5-14 6-15 5-11 3-16 4-12 3-17 4-13 3-12 3-13 2-16 2-14 2-13 2-13 1-16 2-15 1-15 1-10 0-16 1-15 1"/>
<path d="M238.3 118.28h0.01M292.04 143.8h0.01M247.98 122.87h0.01M303.97 138.16h0.01M258.15 127.71h0.01M315.27 132.8h0.01M268.85 132.79h0.01M325.99 127.73h0.01M280.14 138.15h0.01M336.18 122.9h0.01M292.04 143.8h0.01M345.88 118.31h0.01" stroke="#222" stroke-width="1" stroke-linecap="round"/>
<path transform="scale(.1)" fill="none" stroke="#949494" stroke-width="6.0" d="M2376 1008l545-183 545 183M2372 914l549-173 549 174M2368 821l553-164 553 164M2364 727l557-154 557 155M2360 634l561-145 561 145M2356 540l565-135 565 135M2352 447l569-126 569 126M2376 1008l-24-561M2921 825l0-504M2485 971l-19-549M3030 861l5-515M2594 935l-14-539M3139 898l10-527M2703 898l-10-527M3248 935l14-539M2812 861l-5-515M3357 971l19-549M2921 825l0-504M3466 1008l24-561"/>
<path transform="scale(.1)" fill="none" stroke="#949494" stroke-width="6.0" d="M2383 1183l-7-175-24-561M3459 1183l7-175 24-561M2921 983l0-158"/>
<path d="M237.56 100.78h0.01M237.17 91.43h0.01M236.77 82.08h0.01M236.38 72.73h0.01M235.98 63.38h0.01M235.59 54.03h0.01M235.19 44.68h0.01" stroke="#222" stroke-width="1" stroke-linecap="round"/>
<g transform="scale(.1)"><path fill="#fff300" d="M2896 488l25-3 26 25-26 3zM2436 631l32-14 25 17-31 14z"/><path fill="#e4f600" d="M2918 509l26-3 26 25-26 2zM2872 534l26-4 26 23-26 4zM2823 562l27-5 26 22-27 5zM2747 598l28-7 27 20-29 7zM2561 652l31-12 26 17-30 12zM2403 670l32-15 25 16-32 15z"/><path fill="#ffe700" d="M2873 490l25-3 26 24-26 4zM2700 565l28-8 26 21-28 7zM2674 572l29-9 26 20-29 9zM2648 579l29-10 26 20-29 9zM2622 586l30-10 25 20-29 10z"/><path fill="#c9fc00" d="M2941 529l26-3 26 25-26 2zM2871 577l26-5 27 22-27 4zM2769 635l28-7 27 18-28 8zM2688 676l30-10 27 17-30 9zM2661 684l30-11 27 17-30 10zM2633 692l31-11 27 16-31 11zM2605 701l32-12 27 16-32 12zM2525 709l32-13 26 15-31 13zM2946 835l31-7 32 8-31 7zM2832 836l32-10 31 9-32 9zM2889 835l32-8 31 8-32 8z"/><path fill="#edf600" d="M2895 511l26-4 26 24-26 3zM2848 537l27-5 25 23-26 5zM2774 571l27-7 27 21-28 7zM2510 648l31-13 26 18-31 12zM2431 657l32-14 25 17-31 14zM2380 656l32-16 25 18-32 15z"/><path fill="#ffdb00" d="M2849 493l26-5 26 25-26 4zM2519 598l30-13 26 19-31 12z"/><path fill="#aefc00" d="M2964 549l26-2 26 24-25 2zM2817 665l29-7 28 18-29 6zM2790 689l29-8 28 17-29 8zM2762 714l30-9 28 16-30 8zM2732 740l31-10 28 14-30 10zM2730 758l31-10 29 13-31 10zM2728 776l31-11 29 13-31 10zM2754 785l31-10 30 12-32 10zM2780 793l32-9 29 11-31 10zM2890 811l31-8 30 11-30 7zM2974 820l30-6 31 10-30 6z"/><path fill="#d5f900" d="M2918 530l26-3 26 24-26 3zM2871 556l27-5 26 23-27 4zM2770 614l29-7 27 20-29 7zM2529 686l32-13 26 16-31 13zM2889 846l31-9 32 8-32 8z"/><path fill="#f6f300" d="M2872 513l26-4 26 24-26 3zM2723 582l29-8 26 20-29 8zM2697 588l29-9 26 20-28 9zM2619 610l30-10 26 19-30 10zM2592 619l30-11 26 18-30 11zM2408 643l32-15 25 18-32 14z"/><path fill="#ffd200" d="M2826 496l26-5 26 24-27 4zM2727 536l28-8 26 22-28 7zM2573 579l29-11 26 19-30 11z"/><path fill="#8af303" d="M2988 568l25-2 26 24-25 2zM2965 589l26-3 27 23-26 2zM2893 671l28-6 28 19-28 5zM2945 789l29-7 31 13-30 6zM2972 797l30-6 31 12-30 6z"/><path fill="#bdff00" d="M2941 550l26-3 26 24-25 2zM2870 597l27-5 27 21-27 5zM2793 650l29-7 27 18-29 7zM2739 682l30-9 27 17-30 9zM2654 725l32-11 27 15-31 11zM2626 734l32-12 27 15-31 11zM2545 744l32-14 27 14-32 13zM2889 823l32-8 31 10-31 8zM2777 824l32-11 30 10-32 10zM2833 823l32-9 30 9-31 9z"/><path fill="#def900" d="M2895 532l26-4 26 24-26 3zM2847 559l27-5 26 22-27 5zM2693 633l29-9 27 18-30 9zM2666 640l30-10 27 18-30 10zM2639 648l31-10 26 17-30 10zM2612 657l31-12 26 18-30 11zM2506 673l31-14 26 17-31 13z"/><path fill="#fcf300" d="M2849 515l26-4 26 23-27 4zM2775 549l28-7 26 22-28 6zM2515 623l30-13 26 19-31 12z"/><path fill="#69ea06" d="M3011 588l25-2 27 23-25 1zM2967 645l26-3 28 20-27 3zM2943 699l28-5 28 18-27 5zM2943 716l28-5 29 16-28 5zM2970 758l29-5 30 14-29 5z"/><path fill="#ffcc00" d="M2802 499l27-5 25 23-26 5zM2651 555l29-9 26 20-29 9z"/><path fill="#9cf903" d="M2965 569l25-2 27 23-26 2zM2894 634l27-5 27 20-27 4zM2868 656l28-6 28 19-28 5zM2813 738l30-9 28 15-30 8zM2973 809l30-6 31 11-30 6z"/><path fill="#c6fc00" d="M2918 551l26-3 26 23-25 3zM2846 601l27-6 27 21-28 5zM2794 630l29-7 27 19-29 7zM2741 662l29-9 27 18-29 8zM2714 668l30-9 27 18-29 8zM2577 711l32-12 27 15-32 12zM2496 721l33-14 26 15-32 13z"/><path fill="#48e106" d="M3035 606l25-1 27 23-25 1zM3014 643l26-3 27 21-25 2zM3105 798l27-3 32 13-28 2zM3161 816l27-2 33 12-27 2z"/><path fill="#ffed00" d="M2825 518l27-5 25 23-26 5zM2569 604l30-12 26 19-30 11zM2385 629l32-16 25 18-31 15z"/><path fill="#7bf003" d="M2988 588l26-2 27 23-26 1zM2918 750l29-6 29 15-29 6z"/><path fill="#ffc300" d="M2778 503l27-6 26 23-28 6z"/><path fill="#abfc00" d="M2942 570l26-3 26 23-26 3zM2760 733l30-10 29 15-31 9zM2756 768l31-10 29 13-31 10zM2862 803l31-8 31 11-31 8z"/><path fill="#cffc00" d="M2895 553l26-4 26 23-26 4zM2846 580l28-5 26 21-27 5zM2796 609l28-7 27 20-29 7zM2743 641l29-8 27 18-29 8zM2717 647l29-8 27 18-29 8zM2581 689l31-13 27 17-31 11zM2860 841l32-9 31 8-32 9zM2917 840l32-8 32 8-31 8z"/><path fill="#33db09" d="M3059 625l25-1 27 22-25 1zM3060 642l26-1 27 22-25 1zM3041 692l26-2 29 19-26 2zM3042 708l27-3 29 19-27 2zM3072 750l26-3 30 17-26 2zM3100 775l27-3 31 15-27 3zM3127 786l27-2 32 14-27 2z"/><path fill="#5de706" d="M3012 606l26-2 27 23-26 2zM2968 680l27-4 28 19-27 4zM2969 729l28-5 29 16-28 5zM3051 789l29-4 31 13-28 4zM3135 816l28-2 33 11-28 3z"/><path fill="#ffe400" d="M2801 522l27-6 26 23-27 5zM2492 608l30-13 26 19-31 12zM2414 616l31-15 25 19-31 14z"/><path fill="#ffbd00" d="M2754 507l27-6 26 23-28 6zM2550 562l30-11 25 20-30 11z"/><path fill="#baff00" d="M2918 572l26-4 27 23-26 3zM2845 621l27-6 27 20-27 6zM2765 676l30-9 27 18-29 8zM2710 709l30-10 28 16-31 9zM2682 717l31-11 28 16-31 10zM2598 744l32-12 27 14-32 12zM2750 817l32-11 30 10-33 11zM2806 816l31-10 31 11-32 9zM2946 825l30-8 32 10-31 7z"/><path fill="#2ddb09" d="M3083 643l25-1 27 22-24 1zM3096 750l27-3 29 17-26 2zM3125 775l27-2 30 15-26 2zM3152 786l27-2 31 16-27 1z"/><path fill="#3fde06" d="M3036 625l25-2 28 22-26 1zM3019 724l27-3 30 17-28 3z"/><path fill="#f3f300" d="M2824 541l27-6 26 23-27 5zM2565 628l31-12 26 18-31 12z"/><path fill="#6ced03" d="M2989 607l26-3 27 23-26 2zM3025 791l29-4 31 13-29 4zM3053 800l28-4 32 13-28 3z"/><path fill="#ffde00" d="M2776 526l28-6 26 22-28 6z"/><path fill="#9cf603" d="M2942 590l26-3 27 22-26 3zM2918 612l27-4 27 21-27 3z"/><path fill="#ffba00" d="M2729 512l28-7 25 23-27 6z"/><path fill="#24d80c" d="M3108 661l24-1 28 22-25 0zM3109 677l25-1 29 21-25 1zM3114 708l25-1 29 19-26 1zM3116 722l25-1 30 19-26 1zM3147 763l26-2 30 17-26 1zM3204 798l26 0 31 14-25 1z"/><path fill="#c0fc00" d="M2895 574l26-4 27 22-27 4zM2820 625l28-6 27 19-28 6zM2685 697l30-11 28 16-31 10zM2602 723l31-12 27 15-31 11zM2520 733l33-14 26 14-32 14z"/><path fill="#51e406" d="M3013 625l26-2 27 21-26 2zM2991 661l27-3 28 20-27 3z"/><path fill="#f9f300" d="M2800 544l27-6 26 23-27 5zM2672 595l29-9 26 19-29 9zM2645 602l30-10 26 20-29 9zM2487 634l31-13 26 17-31 13zM2357 642l32-16 25 17-32 16z"/><path fill="#7ef003" d="M2966 608l26-3 27 22-26 3zM2918 668l28-5 27 19-27 4zM2972 785l29-6 30 13-29 5zM2999 794l29-5 31 12-29 5zM3027 803l29-5 31 12-29 4z"/><path fill="#ffd800" d="M2752 531l28-7 25 22-27 7zM2546 588l30-12 26 20-31 11zM2441 604l31-14 26 19-31 13z"/><path fill="#1ed50c" d="M3132 678l25 0 28 21-25 0zM3134 694l25-1 29 21-25 0zM3137 709l25-1 29 20-25 0zM3139 723l25-1 30 19-26 1zM3168 751l25 0 30 18-25 0zM3171 764l25-1 30 17-25 0zM3228 800l25 0 32 15-25-1z"/><path fill="#ffb700" d="M2704 518l28-8 26 22-28 8zM2576 554l30-11 25 20-29 11z"/><path fill="#a8fc00" d="M2918 592l27-4 26 22-26 4zM2894 614l27-4 27 20-27 5zM2816 684l29-8 28 18-29 7zM2789 708l29-8 28 16-29 8zM2758 751l31-10 28 14-31 9zM2782 777l31-9 29 13-31 9zM2809 787l31-10 29 13-31 8zM2835 795l31-9 30 12-31 8zM2945 813l31-7 31 11-30 6z"/><path fill="#2ad809" d="M3085 660l25-1 28 21-25 1zM3087 676l25-1 28 21-25 1zM3088 692l26-1 28 20-25 1zM3090 707l26-1 29 19-26 1zM3092 722l26-2 29 19-26 1zM3120 750l26-2 30 17-26 1zM3123 762l26-1 30 16-26 1zM3149 775l27-2 30 16-26 1zM3180 797l26-1 32 15-27 0zM3207 808l26-1 33 14-26 0zM3236 818l25 0 33 13-25 0z"/><path fill="#36de09" d="M3037 642l26-2 27 22-25 1zM3039 660l25-3 28 21-26 2zM3040 676l26-2 28 20-26 2zM3044 723l27-3 29 18-27 2zM3045 738l27-4 30 17-27 3zM3073 763l28-3 30 16-27 3zM3130 797l27-3 32 14-27 2zM3158 807l27-2 32 13-27 1zM3186 816l27-1 33 12-27 1z"/><path fill="#63ea06" d="M2990 626l26-3 27 21-26 3zM2967 663l27-4 28 20-27 3zM2970 744l28-5 29 15-28 5zM2997 769l28-5 31 14-29 5z"/><path fill="#18d20c" d="M3157 695l25 0 28 21-25 0zM3160 710l24 0 29 20-25 0zM3162 724l25 0 29 20-25-1zM3194 765l25 0 31 17-26 0zM3224 789l25 0 32 17-25-1zM3252 801l25 1 31 16-25-1z"/><path fill="#8df303" d="M2942 610l26-4 27 22-26 3zM2866 710l29-7 29 17-29 6zM2866 727l29-7 29 16-29 6zM2865 744l30-8 29 15-30 7zM2891 770l30-8 29 14-29 7zM2918 779l29-6 30 13-29 6zM3000 806l29-6 32 12-30 5z"/><path fill="#ffb400" d="M2679 524l28-9 26 22-28 8zM2654 530l28-9 26 22-29 9zM2628 537l29-9 26 21-29 9zM2602 545l29-10 26 21-29 10z"/><path fill="#b4ff00" d="M2894 594l27-4 27 21-27 5zM2764 695l29-8 28 16-30 8zM2707 729l31-11 28 15-31 10zM2677 756l31-11 28 13-31 11zM2648 765l32-12 28 13-32 12zM2594 765l32-13 28 13-32 13zM2752 801l32-10 29 11-32 10zM2697 801l32-11 29 11-33 11zM2834 809l32-9 30 11-32 9zM2918 818l30-8 32 11-31 7zM3002 827l30-6 32 9-30 6z"/><path fill="#30db09" d="M3062 659l25-1 28 21-25 1zM3063 676l26-2 28 21-25 1zM3065 692l26-2 28 20-26 1zM3066 707l27-2 28 19-26 2zM3068 722l27-2 29 18-27 2zM3070 737l26-3 30 17-27 2zM3098 763l27-3 30 16-27 2zM3155 797l27-2 31 14-26 1zM3183 807l26-1 33 13-27 1zM3211 817l26-1 33 13-26 0z"/><path fill="#eaf600" d="M2798 566l28-6 26 22-27 6zM2695 611l29-9 27 19-29 9zM2669 618l29-10 27 19-30 9zM2642 625l30-10 27 19-30 10zM2616 634l30-11 26 18-30 10z"/><path fill="#12cf0f" d="M3182 712l24 0 29 21-24-1zM3185 726l25 0 29 20-25-1zM3217 767l25 0 30 18-24-1zM3248 791l24 1 32 17-25-1z"/><path fill="#fff000" d="M2750 554l28-7 26 21-28 7zM2542 613l30-12 26 19-30 11z"/><path fill="#72ed03" d="M2966 627l26-3 28 21-27 3zM2943 665l27-4 28 19-27 4zM2971 772l29-6 30 14-29 5z"/><path fill="#ffcf00" d="M2702 542l28-8 26 21-28 8zM2677 548l28-9 26 21-29 9zM2625 562l29-10 26 21-29 9zM2599 570l29-10 26 20-29 10zM2469 593l31-14 25 19-31 13z"/><path fill="#d8f900" d="M2822 584l27-6 27 21-28 6zM2745 620l29-8 26 19-29 8zM2557 676l31-13 27 17-31 12zM2478 684l31-14 26 16-31 14z"/><path fill="#0ccc0f" d="M3207 728l25 1 29 20-24-1zM3240 769l25 1 30 18-24-1zM3271 794l24 1 31 17-24-2zM3330 828l24 2 33 15-24-3z"/><path fill="#5ae706" d="M2990 644l27-3 27 20-26 3zM2968 697l27-4 29 18-27 3zM2969 713l27-5 29 18-28 4zM2996 755l28-4 30 15-28 4zM3079 799l28-4 32 13-28 3zM3107 808l28-3 32 12-28 3z"/><path fill="#ffea00" d="M2725 559l28-8 26 21-28 8zM2596 595l29-11 26 19-29 11zM2464 619l31-13 26 18-31 13z"/><path fill="#81f003" d="M2942 629l27-4 27 20-26 4zM2892 706l29-6 28 17-28 5zM2892 723l29-7 29 16-29 6zM2944 775l30-6 30 14-29 5zM3055 811l28-4 32 11-28 4z"/><path fill="#24d50c" d="M3111 693l26-1 28 20-25 1zM3144 750l26-1 30 18-26 0zM3173 775l26 0 31 16-26 0zM3232 809l25 0 33 14-26 0z"/><path fill="#dbf900" d="M2797 588l28-6 26 20-27 6zM2719 626l29-9 27 19-29 9zM2585 666l31-12 26 17-31 11zM2426 683l32-15 26 16-33 15z"/><path fill="#06cc15" d="M3233 744l24 1 30 20-24-1zM3325 819l24 2 33 17-24-3z"/><path fill="#42e106" d="M3015 660l26-3 28 21-26 2zM3020 739l28-4 29 17-27 3zM3048 765l28-4 30 15-27 3z"/><path fill="#f3f600" d="M2748 576l29-7 26 21-28 7zM2459 645l32-14 25 18-31 13z"/><path fill="#90f303" d="M2918 631l27-5 27 21-27 4z"/><path fill="#b1ff00" d="M2869 617l28-5 27 20-28 5zM2735 721l30-9 28 15-30 9zM2619 775l33-13 28 13-33 12z"/><path fill="#ccfc00" d="M2821 605l28-6 26 20-27 6zM2553 699l32-13 26 16-31 12zM2473 709l32-15 26 16-32 14z"/><path fill="#06c624" d="M3259 760l24 1 30 20-24-2z"/><path fill="#e1f900" d="M2772 593l28-7 27 20-29 7z"/><path fill="#0ccf0f" d="M3211 742l24 0 29 20-24-1zM3303 816l24 2 32 15-24-2z"/><path fill="#78ed03" d="M2942 647l27-4 28 20-27 4zM2918 702l28-5 28 17-28 5zM2944 761l29-6 30 15-29 5z"/><path fill="#03c333" d="M3285 775l24 2 30 19-24-2z"/><path fill="#09cc0f" d="M3237 757l24 1 30 19-25-1zM3298 807l24 1 32 17-24-2z"/><path fill="#3cde06" d="M3016 677l26-3 29 20-27 2zM3017 693l27-3 28 19-26 3zM3018 709l27-3 29 18-27 3zM3075 776l28-3 30 14-27 3z"/><path fill="#15cf0c" d="M3188 740l25 0 29 19-25-1z"/><path fill="#84f303" d="M2918 649l27-4 28 19-27 5zM2893 689l28-6 28 18-28 5z"/><path fill="#a5fc00" d="M2869 637l28-6 27 20-28 5z"/><path fill="#03c042" d="M3311 790l24 2 31 19-24-3z"/><path fill="#06c91e" d="M3263 772l24 1 30 19-24-2zM3294 797l24 2 31 17-24-2zM3353 832l24 2 33 16-24-3z"/><path fill="#e7f600" d="M2721 604l29-8 26 20-29 7zM2589 643l30-12 26 18-30 11zM2482 659l32-13 26 17-32 13z"/><path fill="#4ee406" d="M2992 678l27-3 28 19-27 3zM2994 726l28-4 29 17-27 4zM3050 777l28-4 30 15-27 3z"/><path fill="#0fcf0f" d="M3214 754l24 1 30 19-24-1zM3244 780l24 1 31 18-24-1zM3275 804l25 1 31 16-24-1z"/><path fill="#1bd20c" d="M3165 738l25 0 30 18-26 0zM3284 822l25 1 32 14-24-1z"/><path fill="#93f603" d="M2893 652l28-5 28 19-28 5zM2865 759l29-7 30 14-30 7z"/><path fill="#ffc000" d="M2523 572l30-12 26 20-31 11z"/><path fill="#00c04e" d="M3338 804l23 3 31 18-23-3z"/><path fill="#b1fc00" d="M2844 641l28-6 27 19-28 6zM2705 748l31-11 28 14-31 10zM2702 766l32-11 28 13-32 11zM2674 775l31-12 29 13-32 11zM2699 784l32-11 29 12-32 11zM2645 784l32-12 28 12-32 12zM2725 793l32-11 29 12-32 10zM2671 793l32-12 28 12-32 11zM2807 802l31-10 30 11-31 9z"/><path fill="#06c62a" d="M3289 786l24 2 31 18-24-2z"/><path fill="#15d20c" d="M3191 752l25 0 30 19-25-1zM3221 778l25 1 30 17-24-1zM3279 813l25 1 32 16-24-2z"/><path fill="#ffc600" d="M2496 582l30-13 26 20-31 12z"/><path fill="#00bd5a" d="M3365 818l23 3 32 18-23-4z"/><path fill="#21d50c" d="M3142 737l25-1 30 18-26 1zM3201 788l25-1 31 16-25 0zM3260 820l25 0 33 14-25-1z"/><path fill="#b7ff00" d="M2819 645l28-7 27 19-28 7zM2792 670l29-8 27 18-29 7zM2737 702l30-9 28 16-31 8zM2679 737l32-11 27 14-31 11zM2651 745l32-11 28 14-32 11zM2623 755l32-12 28 13-32 12zM2569 754l33-13 27 14-32 13zM2779 809l31-10 30 10-32 10zM2723 809l32-11 30 11-33 11zM2862 817l31-9 31 10-32 8z"/><path fill="#03c336" d="M3316 800l24 3 31 17-24-2z"/><path fill="#06cc12" d="M3267 783l24 1 31 18-24-1z"/><path fill="#4be406" d="M2993 695l27-4 28 19-27 3zM2994 711l27-4 29 18-28 3zM3077 788l28-4 31 14-28 3z"/><path fill="#6cea06" d="M2943 682l27-4 29 18-28 4zM2944 731l28-5 29 16-28 5z"/><path fill="#00ba66" d="M3392 832l23 4 32 17-22-4z"/><path fill="#a5f900" d="M2843 660l28-6 28 18-28 6zM2787 726l30-8 28 15-30 8zM2785 744l31-9 28 14-30 9zM2784 761l30-9 29 13-30 9zM2918 806l30-8 31 12-31 6zM3029 823l30-5 32 10-29 5z"/><path fill="#27d809" d="M3118 736l26-1 29 18-25 1zM3177 787l26-1 31 15-26 1z"/><path fill="#03c33f" d="M3343 814l23 3 32 17-23-3z"/><path fill="#78f003" d="M2918 685l28-5 28 18-28 5zM2918 735l29-6 29 16-29 5z"/><path fill="#00b76f" d="M3420 845l22 4 33 17-22-5z"/><path fill="#96f603" d="M2868 675l28-7 28 19-28 5zM2840 715l30-7 28 16-29 7zM2839 732l30-7 29 15-30 7zM2838 749l30-8 29 14-30 8zM2891 784l30-7 30 12-30 7zM2918 793l30-7 30 12-30 6zM3056 821l29-5 33 11-29 4z"/><path fill="#03c04b" d="M3370 827l24 3 32 17-23-3z"/><path fill="#c3fc00" d="M2767 656l29-8 27 18-29 7zM2658 705l30-11 28 16-31 10zM2630 713l31-11 27 15-31 11zM2549 721l32-13 27 15-32 13zM2918 829l31-7 31 9-31 7zM2804 830l32-10 31 9-32 10zM2861 829l31-9 32 10-32 8z"/><path fill="#2dd809" d="M3094 736l26-2 30 18-26 1z"/><path fill="#06c627" d="M3321 810l23 2 32 17-24-2z"/><path fill="#9ff903" d="M2842 679l29-7 28 18-29 6zM2814 720l29-8 29 16-30 7zM2811 755l31-9 28 14-30 8z"/><path fill="#00bd54" d="M3398 840l23 4 33 16-23-4z"/><path fill="#03c630" d="M3348 823l24 3 32 16-24-3z"/><path fill="#d2f900" d="M2690 655l30-10 27 18-30 9zM2663 662l30-10 27 17-30 10zM2636 670l31-10 27 16-31 11zM2609 679l31-11 26 16-30 11zM2501 697l32-14 26 16-32 14zM2449 696l32-15 26 16-32 15z"/><path fill="#f0f600" d="M2538 638l31-13 26 18-31 12z"/><path fill="#1bd50c" d="M3197 777l26-1 30 17-25 0zM3256 811l25 0 32 15-25-1z"/><path fill="#90f603" d="M2867 693l29-7 28 18-29 5zM3028 813l29-5 32 11-29 5z"/><path fill="#03c339" d="M3376 836l23 3 33 16-23-4z"/><path fill="#99f603" d="M2841 697l29-7 28 17-29 7zM2837 765l31-8 29 13-30 8zM2864 775l30-8 30 13-31 7zM2945 801l30-6 31 11-30 6z"/><path fill="#e1f600" d="M2534 662l31-13 26 17-31 13zM2454 671l32-14 26 16-32 14z"/><path fill="#75ed03" d="M2918 719l28-6 29 17-28 5z"/><path fill="#a2f900" d="M2815 702l29-7 28 16-29 7zM2810 771l31-9 29 13-31 8zM2836 780l31-8 30 12-31 8zM2890 798l31-8 30 12-30 7z"/><path fill="#c0ff00" d="M2712 689l30-10 28 17-31 9zM2573 733l32-13 27 15-31 12zM2974 831l31-7 32 9-31 6z"/><path fill="#39de09" d="M3047 751l27-3 30 16-27 3zM3102 787l28-3 31 14-27 2z"/><path fill="#54e406" d="M2995 741l28-4 30 16-28 4zM3023 766l28-4 30 15-28 4z"/><path fill="#4be106" d="M3022 753l27-4 30 16-27 3z"/><path fill="#12cf0c" d="M3307 825l25 1 32 15-24-2z"/><path fill="#6fed03" d="M2944 747l29-6 29 15-29 5zM2998 782l29-5 30 13-28 5zM3081 809l28-4 32 12-28 4zM3109 817l28-3 33 11-28 3z"/><path fill="#84f003" d="M2892 739l29-7 29 16-29 6zM2918 765l29-6 30 13-29 7zM3083 819l29-4 32 11-28 3z"/><path fill="#87f303" d="M2891 755l30-7 29 14-29 6z"/><path fill="#60e706" d="M3024 779l28-4 31 14-28 4z"/><path fill="#45e106" d="M3133 807l27-3 32 13-27 2z"/><path fill="#9ff900" d="M2863 789l31-8 30 12-31 8zM3001 817l30-6 31 10-29 6z"/></g>
<path transform="scale(.1)" fill="none" stroke="#000" stroke-opacity="0.32" stroke-width="4.0" d="M2360 642l23 14 23 14 23 13 23 13 24 13 23 12 24 12 25 11 24 10 25 11 25 10 26 9 26 9 26 8 26 8 27 8 27 7 27 6 28 6 28 5 29 5 28 4M2360 642l28-13 29-13 27-12 28-11 27-11 27-10 27-9 26-9 26-8 26-8 26-7 25-7 25-6 25-5 24-5 25-4 24-4 24-3 23-3 23-3 23-1 23-2M2388 629l23 14 23 14 23 14 24 13 23 13 24 13 24 12 24 11 25 11 25 11 25 10 26 10 25 9 26 9 27 8 27 8 27 7 27 7 28 6 28 6 28 5 29 5M2383 656l28-13 28-12 28-11 28-11 27-11 27-10 27-9 26-8 26-8 26-8 26-6 25-7 25-5 25-6 24-4 25-4 24-4 23-3 24-2 23-2 23-2 23-1M2417 616l22 15 23 15 23 13 24 14 23 13 24 13 24 12 25 12 24 11 25 11 26 11 25 10 26 10 26 9 26 9 27 8 27 7 28 8 27 6 29 7 28 5 29 5M2406 670l28-13 28-11 28-12 28-11 27-10 27-9 27-9 26-8 26-8 26-7 26-6 25-6 25-6 25-4 24-5 25-4 24-3 23-3 24-2 23-2 23-1 23-1M2444 604l23 16 23 14 23 14 24 14 23 14 24 13 24 12 25 13 24 11 25 12 26 11 25 10 26 10 26 10 27 9 26 8 27 8 28 8 28 7 28 7 28 6 29 5M2429 683l28-12 28-12 28-11 28-10 27-10 27-9 27-8 26-8 27-8 25-6 26-7 25-5 25-5 25-5 25-4 24-3 24-3 24-3 23-2 23-1 23-1 23 0M2472 593l23 16 23 14 23 15 23 14 24 14 24 13 24 13 25 13 24 12 25 12 25 11 26 11 26 10 26 10 26 9 27 9 27 9 28 8 27 7 29 7 28 7 29 6M2452 696l29-12 28-11 28-11 27-10 28-9 27-9 26-8 27-8 26-7 26-6 26-6 25-5 25-5 25-4 24-4 24-3 24-3 24-2 23-2 24-1 23 0 22-1M2499 582l23 16 23 15 23 15 24 15 23 14 24 14 24 13 25 13 25 12 25 12 25 12 25 11 26 11 26 10 27 10 27 9 27 9 27 8 28 8 28 8 28 7 29 6M2476 709l28-12 28-11 28-10 28-10 27-9 27-9 27-7 27-8 26-6 26-7 25-5 26-5 25-5 24-3 25-4 24-3 24-2 24-2 23-1 23-1 23 0 23 0M2526 572l23 16 23 16 23 15 24 15 23 14 24 14 25 14 24 13 25 13 25 12 25 12 26 12 25 11 26 11 27 10 27 10 27 9 27 9 28 8 28 8 28 7 29 7M2499 721l29-11 28-11 28-10 28-10 27-8 27-9 27-7 27-7 26-6 26-6 25-5 26-5 25-4 24-4 25-3 24-2 24-2 24-2 23-1 23-1 23 0 22 1M2553 563l23 16 23 16 23 16 23 15 24 15 24 14 24 14 25 13 25 14 25 12 25 13 25 11 26 12 26 11 27 10 26 11 28 9 27 9 28 9 28 8 28 8 29 7M2523 733l29-11 28-11 28-10 28-9 27-8 28-8 26-7 27-7 26-6 26-5 26-5 25-5 25-3 25-4 24-2 24-3 24-1 24-1 23-1 23 0 23 0 22 1M2579 554l23 17 23 16 23 16 24 15 24 15 24 15 24 14 24 14 25 14 25 13 25 12 26 13 26 11 26 12 26 11 27 10 27 10 27 10 28 9 28 8 28 9 29 7M2548 744l28-11 29-10 28-9 28-9 27-8 27-8 27-7 26-6 26-6 26-5 26-4 25-4 25-4 25-3 24-2 24-2 24-1 24-1 23-1 23 0 23 1 22 1M2605 546l23 17 23 16 24 16 23 16 24 16 24 15 24 14 24 14 25 14 25 14 25 13 26 12 26 12 26 12 26 11 27 11 27 11 27 10 28 9 28 9 28 9 29 8M2572 754l29-10 28-10 28-9 28-8 28-8 27-7 27-6 26-6 26-6 26-5 26-4 25-4 25-3 25-2 24-2 24-2 24-1 23-1 24 0 23 1 22 1 23 1M2631 538l23 17 23 17 23 17 24 16 24 15 24 16 24 15 24 14 25 14 25 14 25 13 26 13 26 13 26 12 26 12 27 11 27 11 27 10 28 10 28 9 28 9 29 9M2597 765l29-10 28-10 28-8 28-8 28-8 27-7 27-6 26-5 26-5 26-5 26-4 25-3 25-3 24-2 25-2 24-1 24-1 23 0 23 0 23 1 23 1 22 2M2657 531l23 18 23 17 23 16 24 17 23 16 24 16 25 15 24 15 25 14 25 14 25 14 25 13 26 13 26 13 27 12 26 11 27 11 27 11 28 10 28 10 28 10 29 9M2622 775l29-10 29-9 28-8 27-8 28-7 27-7 27-5 26-6 26-4 26-5 26-3 25-3 25-3 25-1 24-2 24-1 24 0 23 0 23 1 23 1 23 1 22 2M2682 524l23 18 23 18 23 17 24 17 24 16 24 16 24 15 24 16 25 14 25 15 25 14 26 14 25 13 26 13 27 12 26 12 27 12 27 11 28 10 28 11 28 9 29 10M2648 784l29-9 28-9 28-8 28-7 27-7 28-6 26-6 27-4 26-5 26-4 25-3 26-2 24-3 25-1 24-1 24-1 24 0 23 1 24 1 22 1 23 2 22 2M2707 518l23 19 23 17 23 18 24 17 24 16 24 17 24 16 24 15 25 15 25 15 25 14 25 14 26 14 26 13 26 13 27 12 27 12 27 12 28 11 27 10 29 11 28 9M2674 793l28-9 29-8 28-8 28-7 27-6 27-6 27-5 27-5 26-4 26-3 25-3 25-2 25-2 25-1 24-1 24 0 24 0 23 1 23 1 23 2 22 2 22 3M2732 513l23 18 23 19 23 17 24 18 23 17 24 16 25 16 24 16 25 16 24 15 26 15 25 14 26 14 26 13 26 13 26 13 27 12 27 12 28 12 28 11 28 10 28 11M2700 801l28-8 29-8 28-7 28-7 27-6 27-5 27-5 27-4 26-4 26-3 25-2 25-2 25-2 25-1 24 0 24 0 23 1 24 1 23 1 22 3 23 2 22 3M2756 508l23 19 23 18 24 18 23 18 24 17 24 17 24 17 24 16 25 16 25 15 25 15 25 15 26 14 26 14 26 13 27 14 26 12 27 12 28 12 28 12 28 11 28 10M2726 809l29-8 28-7 29-7 27-7 28-5 27-5 27-5 26-3 26-4 26-2 26-2 25-2 24-1 25-1 24 0 24 1 24 1 23 1 23 2 22 3 23 3 22 3M2781 504l23 19 23 18 23 19 23 18 24 17 24 18 24 16 24 17 25 16 25 16 25 15 25 15 26 15 26 14 26 14 26 13 27 13 27 13 27 12 28 12 28 11 28 11M2753 817l29-8 28-7 28-7 28-6 28-5 27-4 26-4 27-4 26-3 26-2 25-2 25-1 25-1 24 0 25 1 23 0 24 2 23 2 23 2 23 3 22 3 22 4M2805 500l23 19 23 19 23 19 23 18 24 18 24 18 24 17 24 17 25 16 25 16 25 16 25 15 26 15 25 15 27 14 26 14 27 13 27 13 27 13 27 12 28 12 29 11M2780 824l29-8 28-7 28-6 28-5 28-5 27-4 27-4 26-3 26-2 26-2 25-2 25 0 25-1 24 0 24 1 24 1 24 2 23 2 23 3 22 3 22 4 22 4M2829 497l22 19 23 19 24 19 23 19 24 18 24 18 24 18 24 17 24 16 25 17 25 16 25 16 26 15 26 15 26 14 26 15 27 13 27 14 27 13 27 12 28 12 28 12M2807 830l29-7 29-6 28-6 28-5 27-5 27-3 27-4 26-2 26-2 26-2 25-1 25 0 25 0 24 0 24 1 24 2 24 2 23 3 22 3 23 3 22 4 22 5M2852 494l23 20 23 19 23 19 23 19 24 19 24 18 24 18 24 17 25 17 24 17 25 17 26 16 25 15 26 15 26 15 26 15 27 14 26 14 27 13 28 13 28 13 28 12M2835 836l29-7 28-6 29-5 27-5 28-4 27-3 27-3 26-2 26-2 26-1 25-1 25 0 25 1 24 1 24 1 23 2 24 3 23 3 22 3 23 4 22 4 22 5M2875 491l23 21 23 19 23 20 24 19 23 19 24 18 24 19 24 17 25 18 24 17 25 17 25 16 26 16 25 16 26 15 27 15 26 14 27 14 27 14 27 13 28 13 28 13M2863 841l29-6 29-5 28-5 28-5 27-3 27-3 27-3 26-2 26-1 26-1 25 0 25 1 24 0 25 2 24 2 23 2 23 3 23 3 23 4 22 4 22 5 22 5M2898 490l23 20 23 20 23 20 24 20 23 19 24 18 24 19 24 18 24 18 25 17 25 17 25 17 25 16 26 16 26 16 26 15 26 15 27 14 27 14 27 14 28 13 28 13M2892 846l28-6 29-5 28-4 28-4 27-3 27-3 27-2 26-1 26-1 26-1 25 1 25 0 25 2 24 1 24 3 23 2 23 4 23 3 23 5 22 4 22 5 21 6M2921 488l23 21 23 20 23 21 23 19 24 20 23 19 24 19 24 18 25 18 24 18 25 17 25 17 25 17 26 16 26 16 26 16 26 15 27 15 27 14 27 14 27 14 28 13M2920 850l29-5 29-5 28-4 28-3 27-3 27-2 27-2 26-1 26 0 26 0 25 1 25 1 24 1 24 3 24 2 23 3 24 4 22 4 23 5 22 5 22 5 21 6"/>
<circle cx="292" cy="64.4" r="1.25" fill="#b01010"/>
<circle cx="292" cy="84.5" r="1.25" fill="#b01010"/>
<circle cx="347" cy="86.4" r="1.25" fill="#b01010"/>
<circle cx="236.4" cy="63.6" r="1.1" fill="#f4d8d8" stroke="#d08080" stroke-width="0.4"/>
<g font-size="5.1" stroke="#111" stroke-width="0.14"><text transform="matrix(0.99 0 0 0.99 236.17 102.16)" text-anchor="end">40</text><text transform="matrix(0.99 0 0 0.99 235.78 92.81)" text-anchor="end">50</text><text transform="matrix(0.99 0 0 0.99 235.38 83.46)" text-anchor="end">60</text><text transform="matrix(0.99 0 0 0.99 234.99 74.11)" text-anchor="end">70</text><text transform="matrix(0.99 0 0 0.99 234.59 64.76)" text-anchor="end">80</text><text transform="matrix(0.99 0 0 0.99 234.2 55.41)" text-anchor="end">90</text><text transform="matrix(0.99 0 0 0.99 233.8 46.06)" text-anchor="end">100</text><text transform="matrix(0.99 0 0 0.99 233.53 122.13)" text-anchor="middle" font-size="5.3">50</text><text transform="matrix(0.99 0 0 0.99 245.89 128.69)" text-anchor="middle" font-size="5.3">40</text><text transform="matrix(0.99 0 0 0.99 256.06 133.53)" text-anchor="middle" font-size="5.3">30</text><text transform="matrix(0.99 0 0 0.99 266.77 138.61)" text-anchor="middle" font-size="5.3">20</text><text transform="matrix(0.99 0 0 0.99 278.05 143.97)" text-anchor="middle" font-size="5.3">10</text><text transform="matrix(0.99 0 0 0.99 287.97 148.05)" text-anchor="middle" font-size="5.3">0</text><text transform="matrix(0.99 0 0 0.99 297.01 147.85)" text-anchor="middle" font-size="5.3">10</text><text transform="matrix(0.99 0 0 0.99 303.37 143.78)" text-anchor="middle" font-size="5.3">20</text><text transform="matrix(0.99 0 0 0.99 314.68 138.43)" text-anchor="middle" font-size="5.3">30</text><text transform="matrix(0.99 0 0 0.99 325.4 133.35)" text-anchor="middle" font-size="5.3">40</text><text transform="matrix(0.99 0 0 0.99 335.59 128.52)" text-anchor="middle" font-size="5.3">50</text><text transform="matrix(0.99 0 0 0.99 348.96 123.34)" text-anchor="middle" font-size="5.3">60</text></g>
<text transform="matrix(0.99 0 0 0.99 218.1 147.2)" font-size="5.6" textLength="51.35" lengthAdjust="spacingAndGlyphs" stroke="#111" stroke-width="0.2">A: Solvent ratio (% <tspan font-style="italic">v/v</tspan>)</text>
<text transform="matrix(0.99 0 0 0.99 315.9 147.2)" font-size="5.6" textLength="45.71" lengthAdjust="spacingAndGlyphs" stroke="#111" stroke-width="0.2">C: Temperature (°C)</text>
<text transform="matrix(0.99 0 0 0.99 217.99 79.5) rotate(-90)" font-size="5.6" text-anchor="middle" stroke="#111" stroke-width="0.1"><tspan x="0" y="0" textLength="69.04" lengthAdjust="spacingAndGlyphs">DPP IV enzyme inhibitory activity</tspan><tspan x="0" y="5.0" textLength="27.57" lengthAdjust="spacingAndGlyphs">(% inhibition)</tspan></text>
<text transform="matrix(0.99 0 0 0.99 202.7 10.4)" font-size="10.8" font-weight="bold" stroke="#111" stroke-width="0">(h)</text></g>
<g><polygon points="429.36,119.57 483.7,98.15 537.98,119.6 483.62,146.96" fill="#686868" stroke="#444" stroke-width="0.4"/>
<path transform="scale(.1)" fill="none" stroke="#31b525" stroke-width="9.0" d="M5072 1075l1 3 1 7 1 4 1 7 1 5 2 5 1 6 2 5 2 6 2 6 2 5 3 6 4 7 2 4 4 5 4 7 5 6 5 6 6 5 6 6 11 8 7 5 13 7 9 4 15 6 11 4 17 5 12 4 18 4 15 3 13 2 15 2"/>
<path transform="scale(.1)" fill="none" stroke="#31b525" stroke-width="9.0" d="M4825 1464l-4-8-4-8-5-7-6-8-7-8-9-9-8-6-12-8-14-8-16-7-16-7-12-3-19-6-13-3-14-2-14-3-15-2-15-3"/>
<path transform="scale(.1)" fill="none" stroke="#41bb23" stroke-width="9.0" d="M4987 1041l-3 5-1 5-2 4-2 6-2 6-2 5-2 5-2 5-3 6-2 6-3 5-2 5-2 5-3 6-3 6-3 6-4 6-3 6-4 6-3 5-4 6-4 6-5 6-5 6-5 6-6 5-5 6-6 5-10 8-7 5-11 7-8 5-13 6-14 6-15 6-11 4-16 5-12 3-14 4-18 3-13 3-14 3-14 2-14 2-15 2-14 2-16 2-14 1-13 2-12 1-15 2-16 1-16 1-13 1-12 1-17 2-16 1-13 1-12 1"/>
<path transform="scale(.1)" fill="none" stroke="#72c81f" stroke-width="9.0" d="M4923 1015l-4 6-3 5-4 5-3 5-4 5-4 5-3 5-5 5-4 6-5 5-5 6-4 5-5 5-5 5-5 5-6 5-7 7-7 5-6 5-6 5-10 7-6 5-11 7-7 4-12 7-7 5-13 6-13 6-13 6-14 6-15 6-15 5-11 4-16 5-14 4-14 4-12 3-18 4-13 3-12 3-15 3-18 4-13 2-14 2-14 3-13 2-15 2-14 2-14 2-15 2-15 2-15 2"/>
<path transform="scale(.1)" fill="none" stroke="#abd21d" stroke-width="9.0" d="M4870 995l-4 5-4 4-5 5-5 6-5 5-6 6-5 5-5 5-5 4-5 5-7 6-7 6-6 4-6 5-9 6-7 5-6 5-10 6-7 5-11 6-8 5-11 6-12 6-8 4-13 6-13 6-13 6-14 6-15 5-15 6-11 3-15 5-16 5-11 4-17 4-11 3-18 5-12 3-12 3-19 4-13 2-12 3-13 3-16 3-17 3-14 2-14 3-14 2-14 2-14 2"/>
<path transform="scale(.1)" fill="none" stroke="#d4c91d" stroke-width="9.0" d="M4808 993l-7 6-6 5-5 5-6 4-6 5-8 6-6 5-6 4-10 6-6 5-7 4-10 7-7 4-10 6-8 4-11 6-12 6-8 4-12 6-13 6-13 6-13 6-14 5-14 6-15 5-15 5-15 5-11 3-16 5-11 4-16 4-13 4-16 4-12 3-17 4-13 3-12 3-19 4-12 2-13 3-13 3-16 3-17 3-14 2"/>
<path d="M429.36 119.57h0.01M483.62 146.96h0.01M439.13 124.5h0.01M495.66 140.9h0.01M449.4 129.69h0.01M507.07 135.16h0.01M460.21 135.14h0.01M517.9 129.71h0.01M471.6 140.89h0.01M528.19 124.53h0.01M483.62 146.96h0.01M537.98 119.6h0.01" stroke="#222" stroke-width="1" stroke-linecap="round"/>
<path transform="scale(.1)" fill="none" stroke="#949494" stroke-width="6.0" d="M4286 1008l551-196 550 196M4282 908l555-186 554 186M4278 807l559-176 558 177M4274 707l563-166 562 166M4270 607l567-156 566 156M4266 506l571-145 570 146M4262 406l575-135 574 135M4286 1008l-24-602M4837 812l0-541M4396 969l-19-590M4947 851l5-553M4506 929l-14-577M5057 890l10-565M4617 890l-10-565M5167 930l15-578M4727 851l-5-553M5277 969l19-590M4837 812l0-541M5387 1008l24-602"/>
<path transform="scale(.1)" fill="none" stroke="#949494" stroke-width="6.0" d="M4294 1196l-8-188-24-602M5380 1196l7-188 24-602M4837 981l0-169"/>
<path d="M428.61 100.8h0.01M428.21 90.77h0.01M427.81 80.73h0.01M427.41 70.7h0.01M427.01 60.67h0.01M426.62 50.64h0.01M426.22 40.61h0.01" stroke="#222" stroke-width="1" stroke-linecap="round"/>
<g transform="scale(.1)"><path fill="#e7f600" d="M4811 462l26-1 26 27-26 1zM4427 606l31-14 26 27-31 14zM4319 623l32-17 26 28-32 17z"/><path fill="#ccfc00" d="M4834 485l26-1 26 26-26 1zM4762 536l27-4 27 25-27 5zM4635 591l29-10 27 25-29 9zM4609 599l29-10 27 24-29 11zM4343 648l31-17 27 26-32 18z"/><path fill="#f3f300" d="M4788 462l26-2 26 28-26 1zM4665 527l28-7 26 26-28 7zM4509 573l29-12 27 26-30 12z"/><path fill="#b1fc00" d="M4857 507l26-1 26 26-26 1zM4710 597l29-8 27 24-29 8zM4580 639l30-12 27 24-30 12z"/><path fill="#d8f900" d="M4811 485l26-2 26 27-26 1zM4713 544l28-6 26 25-27 7zM4505 606l30-13 27 26-30 13zM4371 633l31-16 27 27-32 16z"/><path fill="#fff300" d="M4765 462l26-2 25 27-26 3zM4403 582l31-14 26 28-31 14z"/><path fill="#8df303" d="M4881 529l25-1 26 25-25 1zM4858 551l26-3 26 24-26 3z"/><path fill="#bdff00" d="M4834 507l26-2 26 26-26 2z"/><path fill="#e4f600" d="M4788 485l26-2 26 27-27 2zM4739 514l27-4 26 26-27 4z"/><path fill="#69ea06" d="M4904 550l26-2 26 25-25 1zM4732 670l29-10 28 21-29 11zM4706 679l30-11 27 21-29 11zM4680 688l30-12 27 22-29 12zM4547 715l31-15 27 22-31 15zM4386 732l31-18 27 24-32 19z"/><path fill="#ffe400" d="M4741 464l26-3 26 27-27 3zM4666 499l28-6 26 27-28 6zM4458 559l30-12 26 27-30 13zM4324 584l32-16 26 28-32 16z"/><path fill="#9ff903" d="M4858 529l25-2 27 25-26 2zM4785 582l28-6 27 24-28 5z"/><path fill="#c9fc00" d="M4811 508l26-3 26 26-26 3zM4687 577l28-8 26 24-28 8zM4661 583l29-8 26 24-28 9zM4583 608l29-11 27 24-30 12zM4423 643l31-16 26 26-31 16z"/><path fill="#edf600" d="M4764 487l26-3 26 26-26 4zM4454 594l31-13 26 26-30 14z"/><path fill="#4be406" d="M4928 570l25-2 27 24-25 1zM4651 728l31-14 27 21-30 13z"/><path fill="#7bf003" d="M4881 550l26-2 26 24-25 2zM4858 573l26-4 27 24-26 3zM4759 637l28-9 28 23-28 8zM4629 679l30-12 27 22-30 13z"/><path fill="#ffd800" d="M4717 465l27-3 25 27-27 4zM4590 516l29-8 26 27-29 8zM4564 523l29-9 26 27-29 9zM4538 531l29-10 26 27-29 10zM4352 570l31-15 26 29-31 15z"/><path fill="#aefc00" d="M4834 530l26-3 27 25-26 3zM4447 665l31-15 26 25-31 16z"/><path fill="#d2f900" d="M4787 509l27-3 26 26-27 3zM4738 540l27-6 27 26-28 5z"/><path fill="#36de09" d="M4952 589l25-1 27 22-25 2zM4930 609l26-3 27 22-26 3zM4931 629l26-4 28 21-27 4zM4908 652l26-5 28 20-26 6zM4884 678l27-7 29 19-28 7zM4859 684l28-8 28 19-28 8zM4859 706l28-9 29 19-28 9zM4834 713l28-9 29 18-29 10zM4808 721l29-10 28 18-28 11zM4782 730l29-11 29 19-29 11zM4756 740l29-12 29 18-30 13zM4729 750l30-13 28 19-29 13zM4649 757l31-14 28 19-30 15zM4622 770l31-15 28 19-31 16zM4569 766l31-16 28 21-31 16zM4487 778l32-18 28 21-32 19z"/><path fill="#f6f300" d="M4740 489l27-4 26 27-27 4zM4639 533l29-8 26 26-29 8zM4535 563l30-11 26 27-30 11zM4267 613l32-18 26 29-32 18z"/><path fill="#5de706" d="M4905 570l26-2 26 23-25 3zM4858 617l27-6 28 22-27 6zM4809 649l28-8 27 22-27 7zM4519 728l31-16 28 23-31 16zM4438 738l32-18 27 23-32 18z"/><path fill="#ffcf00" d="M4692 468l28-4 25 27-27 5z"/><path fill="#baff00" d="M4810 531l27-3 26 25-26 3zM4762 561l27-5 27 24-28 6zM4474 652l31-15 27 25-31 15z"/><path fill="#2ddb09" d="M4976 608l25-2 28 22-26 2zM4977 626l26-2 28 21-26 2zM4957 666l26-5 28 19-26 5zM4935 709l27-7 29 17-27 8zM4911 736l28-9 29 16-28 10zM4886 765l28-11 30 16-29 11zM4860 774l29-12 29 16-29 12zM4834 784l29-13 29 16-29 13zM4754 793l30-15 29 17-30 15zM4673 803l31-16 29 18-31 16zM4619 801l32-17 28 19-31 17zM4484 813l32-19 28 21-33 19zM5053 846l28-13 32 10-28 12zM5026 856l29-13 33 9-29 14z"/><path fill="#dbf900" d="M4763 511l27-3 26 26-27 4zM4688 549l28-7 26 26-27 7zM4291 638l32-17 26 28-32 18z"/><path fill="#3fe106" d="M4929 589l25-2 28 23-26 2zM4808 697l29-9 28 19-28 10zM4730 723l30-12 28 20-30 12z"/><path fill="#fcf300" d="M4716 492l27-5 26 27-27 4z"/><path fill="#6ced03" d="M4881 571l27-3 26 24-26 3z"/><path fill="#ffc600" d="M4668 471l27-5 26 28-27 5z"/><path fill="#9cf603" d="M4834 552l26-3 27 24-26 4z"/><path fill="#27d809" d="M5000 626l26-2 27 21-25 2zM5002 643l25-2 29 20-26 3zM4983 700l27-6 29 18-26 6zM4985 718l27-6 29 16-26 7zM4987 737l27-8 30 16-27 8zM4988 755l28-8 30 15-27 8zM5015 767l28-8 30 14-27 8zM4990 774l28-9 30 14-27 9zM5017 785l28-10 31 14-28 9zM5045 795l27-10 32 13-28 9zM4992 793l28-11 31 13-28 11zM5126 806l27-9 32 10-27 9zM5073 804l27-9 32 11-28 10zM5020 803l27-11 32 12-28 11zM5154 813l27-9 33 9-27 9zM5101 813l27-10 32 10-27 10zM5047 812l28-11 32 12-28 10zM4617 832l31-18 29 19-31 18zM4671 833l31-18 29 18-31 17zM4563 832l32-19 28 19-32 19zM4725 833l31-17 29 16-30 17zM4509 831l32-19 28 20-32 20zM4779 832l31-15 29 15-30 16zM4833 832l30-15 31 15-30 14zM4752 846l30-17 30 16-30 16zM4806 845l30-16 31 14-31 16zM4861 844l29-15 31 13-30 15zM4833 856l31-16 30 14-30 16zM4888 854l30-15 31 12-30 15zM4861 867l30-16 31 12-30 16zM4916 864l30-16 31 12-30 15zM4889 877l30-17 31 12-30 16zM4917 885l30-16 32 10-30 17zM4889 899l31-17 32 10-31 18zM4918 907l30-17 33 9-31 17zM4890 922l31-18 32 9-31 19z"/><path fill="#c3fc00" d="M4787 533l26-4 27 26-27 4zM4529 628l30-13 27 25-30 13zM4314 663l32-18 26 27-32 18z"/><path fill="#33db09" d="M4953 608l26-2 27 22-26 2zM4932 649l26-5 28 21-26 4zM4908 673l27-6 29 19-27 7zM4884 700l28-9 29 19-28 8zM4859 729l29-10 29 18-29 10zM4834 737l28-11 29 18-28 11zM4808 746l29-12 29 18-29 12zM4781 756l30-13 29 18-30 12zM4755 766l29-13 29 18-29 13zM4702 762l30-14 29 19-30 14zM4675 774l30-15 29 19-31 15zM4594 784l31-16 28 19-31 17zM4541 781l31-17 28 21-31 17zM4459 794l32-19 27 22-32 19z"/><path fill="#51e406" d="M4905 591l26-3 28 22-26 3zM4882 614l27-5 27 22-26 5zM4783 680l29-9 28 20-29 10zM4678 717l30-13 28 20-30 13zM4572 734l30-15 28 21-31 16zM4410 754l32-19 27 24-32 18z"/><path fill="#ffed00" d="M4691 495l27-5 26 27-27 5z"/><path fill="#ffbd00" d="M4643 475l28-5 26 27-28 6zM4435 535l30-13 26 29-30 12z"/><path fill="#21d50c" d="M5025 643l25-2 28 20-25 2zM5027 660l25-3 29 19-26 3zM5029 677l26-4 28 19-25 3zM5031 694l26-5 29 18-26 4zM5033 710l26-5 30 17-26 5zM5035 727l27-6 30 16-27 6zM5062 740l26-6 30 15-26 6zM5064 756l27-7 31 14-27 7zM5092 767l26-7 31 13-26 7zM5119 777l26-7 32 12-27 7zM5147 786l26-7 32 11-26 7zM5227 797l25-6 34 9-26 6zM5175 794l26-7 32 10-26 7zM4560 865l32-20 29 19-33 20zM4615 864l31-19 29 17-31 19zM4641 878l31-19 30 16-32 20zM4696 876l31-19 30 16-32 18zM4723 888l31-18 30 14-31 19zM4778 885l31-18 30 13-31 18zM4750 900l31-19 30 14-31 19zM4805 895l31-17 31 12-31 18zM4777 911l32-19 30 13-31 19zM4805 921l31-19 32 11-32 20zM4833 930l32-19 31 10-31 20zM4833 955l32-20 32 9-32 21z"/><path fill="#a8fc00" d="M4810 555l27-5 26 25-26 4z"/><path fill="#eaf600" d="M4714 518l28-6 26 26-27 6z"/><path fill="#60e706" d="M4882 592l26-3 27 22-26 4zM4626 709l31-13 27 21-30 14z"/><path fill="#87f303" d="M4834 575l27-4 27 23-27 5zM4443 701l31-16 27 24-32 17zM4362 710l31-18 27 25-32 18z"/><path fill="#1ed50c" d="M5050 659l25-2 28 20-25 2zM5052 675l25-2 29 18-25 3zM5054 691l26-3 29 18-25 3zM5057 708l26-5 29 17-26 4zM5059 724l26-5 30 15-26 6zM5086 736l26-5 30 15-26 5zM5089 752l26-7 30 15-26 6zM5116 762l26-6 31 13-26 7zM5143 772l26-6 31 12-25 7zM5171 781l25-6 32 11-25 7zM5251 793l25-5 33 9-25 5zM5199 790l25-7 33 11-26 6zM4586 881l32-20 29 17-32 20zM4667 892l32-19 30 15-32 20zM4694 905l32-20 30 15-32 20zM4721 917l32-20 30 14-31 19zM4749 928l31-20 31 12-32 20zM4777 938l31-20 31 11-31 20zM4805 947l31-20 32 10-32 21zM4804 973l32-21 32 9-32 22z"/><path fill="#ffb700" d="M4618 480l28-6 26 27-28 7zM4462 525l30-12 26 28-30 12z"/><path fill="#b4ff00" d="M4786 558l27-5 27 24-27 5zM4685 604l29-9 26 24-28 9zM4633 620l29-11 27 24-29 11zM4607 629l29-11 27 24-29 11z"/><path fill="#30db09" d="M4954 627l26-3 28 21-26 3zM4955 646l26-4 29 21-27 4zM4933 669l26-6 29 20-27 5zM4934 689l27-7 28 19-27 7zM4909 694l27-7 29 18-27 8zM4910 715l27-8 30 17-28 9zM4885 721l28-9 29 18-28 9zM4885 743l29-10 29 17-28 10zM4860 751l28-10 29 16-28 11zM4834 760l29-11 29 17-29 11zM4807 770l30-12 29 17-29 12zM4781 781l29-14 30 18-30 13zM4728 778l30-15 29 18-30 15zM4701 790l30-15 29 18-31 15zM4647 787l31-16 29 19-31 16zM4566 799l31-18 28 20-31 18zM4512 797l32-19 28 21-32 19z"/><path fill="#45e106" d="M4906 611l26-4 28 22-26 4zM4883 635l27-5 27 21-26 5zM4624 740l31-15 28 21-31 15zM4463 758l31-18 28 23-32 18z"/><path fill="#f0f600" d="M4690 522l27-6 26 26-27 6zM4482 583l30-13 26 27-30 13zM4348 609l31-16 26 27-31 16z"/><path fill="#6cea06" d="M4858 595l27-5 27 23-27 4zM4467 722l31-16 27 23-31 17z"/><path fill="#ffde00" d="M4641 504l28-7 26 27-28 7zM4485 549l30-12 26 28-30 11z"/><path fill="#18d20c" d="M5075 675l25-2 29 18-25 2zM5078 690l25-3 29 18-25 3zM5106 719l25-4 30 16-25 4zM5109 733l26-4 30 15-25 4zM5136 745l25-5 31 15-25 4zM5163 756l25-5 31 13-25 5zM5246 783l24-5 33 10-24 5zM5274 790l24-4 34 9-24 4zM4665 922l32-20 30 14-32 21zM4692 934l32-20 31 13-32 21zM4720 945l32-21 30 13-32 21z"/><path fill="#93f603" d="M4810 578l27-5 27 24-27 5zM4471 687l31-16 27 25-32 16z"/><path fill="#ffb400" d="M4593 486l28-8 26 28-29 8zM4489 515l29-10 26 28-30 10z"/><path fill="#2ad809" d="M4979 644l26-3 28 20-26 4zM4980 663l26-4 29 19-26 4zM4982 681l26-5 29 19-26 5zM4959 704l27-7 29 18-27 7zM4961 723l27-7 29 17-27 7zM4962 743l27-9 30 16-27 9zM4937 749l28-9 29 16-27 9zM4963 762l28-9 30 15-27 9zM4938 770l28-11 30 15-28 11zM4965 782l28-11 30 14-28 11zM4912 778l29-11 30 15-29 11zM4939 790l29-11 30 14-28 11zM4886 787l29-12 30 15-29 12zM4966 801l29-11 31 13-29 11zM4913 799l29-12 30 14-28 12zM4860 797l29-13 30 15-29 13zM4994 811l28-11 31 12-28 12zM4940 810l29-12 31 13-29 13zM4887 809l29-13 30 15-29 13zM4833 808l30-14 30 15-30 14zM4780 807l30-15 29 16-29 15zM4914 821l29-14 31 14-29 13zM4860 820l30-14 30 15-29 14zM4968 821l29-13 31 13-29 12zM4807 820l29-15 30 15-30 15zM5022 821l28-12 32 11-29 12zM4753 819l30-15 30 16-31 15zM5076 820l27-10 32 10-27 11zM4699 818l31-16 29 17-31 17zM5129 820l27-10 33 9-27 10zM4645 817l31-17 29 18-31 18zM4591 816l32-18 28 19-31 18zM4888 832l29-14 31 13-30 14zM4942 831l29-13 31 12-29 13zM4996 830l28-12 32 11-29 12zM5050 829l28-12 32 11-28 11zM5104 828l28-11 32 9-27 11zM4915 842l29-14 32 12-30 14zM4970 840l29-13 31 11-29 14zM5024 839l28-13 33 10-29 13zM4943 852l29-15 32 12-30 14zM4998 849l29-14 32 11-29 13zM4971 860l29-14 32 10-29 14zM4944 872l30-15 32 10-30 16zM4973 880l29-16 33 10-30 15zM4946 893l30-16 32 9-30 16z"/><path fill="#15d20c" d="M5100 689l25-2 29 18-24 2zM5103 704l25-3 30 17-25 3zM5133 731l25-4 30 15-25 4zM5190 766l25-5 32 12-25 5zM5218 775l25-5 32 11-25 5zM5297 788l24-4 33 9-23 4z"/><path fill="#78ed03" d="M4834 598l27-5 27 22-27 6zM4602 690l30-13 27 22-30 14zM4495 708l31-16 27 24-31 16z"/><path fill="#ffdb00" d="M4616 510l28-8 26 27-28 8zM4512 540l29-11 26 27-29 11z"/><path fill="#ffb100" d="M4567 492l29-8 25 28-28 8zM4541 499l29-9 26 28-29 9zM4515 507l29-10 26 28-29 10z"/><path fill="#27d80c" d="M5004 661l25-3 29 19-26 3zM5179 807l26-8 33 9-26 8zM4697 847l31-17 30 16-31 17z"/><path fill="#c0fc00" d="M4737 566l27-7 27 25-28 6z"/><path fill="#39de09" d="M4907 632l26-5 28 21-26 5zM4883 656l27-6 28 20-27 7zM4677 745l30-14 28 20-30 14zM4434 774l32-19 27 23-32 19z"/><path fill="#12cf0f" d="M5126 703l25-2 29 17-24 2zM5129 717l25-3 30 16-25 3zM5186 754l25-4 31 13-25 4zM5213 763l25-3 32 12-25 4zM5241 772l24-3 33 11-25 4zM5269 781l24-4 33 10-24 4z"/><path fill="#81f003" d="M4810 602l27-6 27 23-27 5zM4708 651l29-10 27 23-29 10zM4682 660l29-11 27 22-29 11zM4523 695l30-15 28 23-31 15z"/><path fill="#a5f900" d="M4761 586l27-6 27 23-27 7zM4526 661l30-14 27 25-30 14zM4418 679l32-16 27 25-32 17z"/><path fill="#c6fc00" d="M4712 571l28-7 26 24-27 7zM4556 618l30-12 27 24-30 13z"/><path fill="#def900" d="M4663 555l28-8 27 26-29 8zM4559 586l29-11 27 25-30 12zM4532 596l30-12 26 25-29 12zM4399 619l31-15 26 27-31 15z"/><path fill="#0fcf0f" d="M5152 717l24-3 30 16-24 3zM5155 730l25-3 31 15-25 3zM5182 741l25-3 30 14-24 3zM5209 752l24-3 32 13-25 3zM5292 779l23-3 33 10-23 3zM5320 786l23-2 34 8-24 3z"/><path fill="#f9f300" d="M4614 539l28-8 26 26-28 8zM4588 546l29-9 26 26-29 10zM4562 554l29-10 26 27-29 10zM4376 595l31-15 26 28-31 15z"/><path fill="#66ea06" d="M4834 621l27-6 28 22-28 6zM4758 662l29-9 27 21-28 10zM4653 698l30-12 28 21-30 13z"/><path fill="#8af303" d="M4785 606l27-7 28 23-28 7zM4550 682l31-14 27 23-31 15z"/><path fill="#abfc00" d="M4736 592l28-8 27 24-28 7zM4553 650l30-13 27 24-30 13z"/><path fill="#24d80c" d="M5006 679l26-5 28 19-26 4zM5007 696l27-5 29 18-26 5zM5009 714l27-6 29 17-26 6zM5011 732l27-7 30 16-27 7zM5013 749l27-7 30 15-27 8zM5042 778l28-9 31 14-28 8zM5070 788l27-9 31 13-27 8zM5150 800l27-8 32 10-26 8zM5098 797l27-8 31 11-27 9zM4534 849l32-20 29 19-32 20zM4589 848l31-19 29 19-32 19zM4643 848l31-18 29 17-31 18zM4779 858l30-16 30 14-30 17zM4806 870l30-17 31 14-31 17zM4833 881l31-17 31 12-31 17zM4861 890l31-17 31 12-30 17zM4862 914l30-18 32 10-31 19z"/><path fill="#e1f900" d="M4637 562l29-9 26 25-28 9zM4611 569l29-10 27 26-29 9zM4585 577l29-10 27 25-29 11z"/><path fill="#0ccc0f" d="M5178 729l24-2 31 15-24 2z"/><path fill="#4ee406" d="M4858 639l28-6 27 21-27 6zM4809 673l28-9 28 21-28 9z"/><path fill="#6fed03" d="M4809 625l28-7 27 22-27 7zM4575 702l30-14 27 22-30 15z"/><path fill="#1bd20c" d="M5080 706l26-4 29 17-25 3zM5083 721l26-5 29 16-25 5zM5112 748l26-5 31 14-26 5zM5139 759l26-6 31 13-25 6zM5167 769l25-6 32 12-26 6zM5194 778l26-6 32 11-25 6zM5222 786l25-6 33 11-25 5zM4638 909l32-20 30 15-32 21zM4748 956l32-22 31 12-32 21zM4776 965l32-22 31 11-32 21z"/><path fill="#90f603" d="M4760 611l28-7 27 23-28 7zM4577 670l30-13 28 23-30 14z"/><path fill="#09cc0f" d="M5205 741l24-3 31 14-24 3zM5232 751l23-2 32 13-24 2zM5259 761l23-2 32 12-23 2zM5286 770l24-2 32 11-23 2zM5314 778l23-2 33 10-23 2zM5342 785l23-1 34 8-23 2z"/><path fill="#57e706" d="M4834 644l27-7 28 21-27 7z"/><path fill="#75ed03" d="M4784 631l28-8 28 22-28 8z"/><path fill="#96f603" d="M4735 618l28-9 27 23-28 9zM4604 660l30-13 27 23-30 13zM4390 694l32-17 26 25-31 18z"/><path fill="#2dd809" d="M4958 685l27-6 28 19-26 5zM4936 729l27-8 30 17-28 8zM4912 757l28-10 29 16-28 10zM4807 795l30-14 29 16-30 14zM4727 805l30-15 29 17-30 15zM4538 815l31-19 28 20-31 19zM5079 836l27-11 33 9-28 12zM5000 868l29-15 32 9-29 15z"/><path fill="#42e106" d="M4859 661l27-7 28 20-27 8zM4783 705l28-10 29 19-29 11zM4756 714l30-11 28 19-29 12z"/><path fill="#99f603" d="M4709 624l29-9 27 23-29 9zM4683 632l29-10 27 23-28 10zM4657 640l29-10 28 23-30 11zM4631 650l29-12 28 23-30 12z"/><path fill="#b7ff00" d="M4659 612l29-10 27 24-29 10zM4366 671l32-17 26 26-31 18z"/><path fill="#48e106" d="M4834 667l28-8 28 20-28 8zM4544 748l31-16 28 21-31 17z"/><path fill="#63ea06" d="M4784 655l28-8 28 21-29 9z"/><path fill="#12cf0c" d="M5159 743l25-4 31 14-25 4z"/><path fill="#7ef003" d="M4734 644l28-9 28 22-29 9zM4655 669l30-11 27 22-29 12z"/><path fill="#ffc300" d="M4408 546l30-13 26 28-30 13z"/><path fill="#0ccf0f" d="M5236 762l24-3 32 12-24 3zM5264 771l24-3 32 11-24 3z"/><path fill="#ffea00" d="M4431 570l30-13 26 28-30 13z"/><path fill="#ffcc00" d="M4380 557l31-14 26 29-31 14z"/><path fill="#3cde06" d="M4834 690l28-9 28 20-28 9zM4597 753l30-16 28 21-30 16zM4516 762l31-17 28 22-32 17z"/><path fill="#d5f900" d="M4478 617l30-13 27 26-31 13z"/><path fill="#54e406" d="M4757 688l29-10 28 20-29 11zM4731 697l29-11 28 20-29 11zM4705 706l29-12 28 21-29 12zM4491 743l32-17 27 22-31 18z"/><path fill="#24d50c" d="M5038 744l26-7 31 15-27 7zM5040 761l27-8 30 15-26 7zM5067 772l27-8 31 13-27 8zM5095 782l26-8 32 12-27 8zM5122 791l27-8 32 12-27 8zM5203 801l26-7 33 9-26 8zM4669 862l32-18 29 16-31 19zM4724 860l31-17 30 15-31 18zM4751 873l31-18 30 15-31 17zM4833 905l31-18 31 12-30 18zM4862 938l31-19 32 9-31 20z"/><path fill="#c0ff00" d="M4502 640l30-14 27 25-30 14zM4395 656l31-16 26 26-31 17z"/><path fill="#cffc00" d="M4451 630l30-15 27 26-31 15z"/><path fill="#fff000" d="M4296 598l32-17 26 29-32 17z"/><path fill="#9cf903" d="M4498 674l31-15 27 24-31 15z"/><path fill="#3fde06" d="M4704 734l29-13 29 20-30 13z"/><path fill="#5ae706" d="M4599 721l31-14 27 21-30 15z"/><path fill="#a5fc00" d="M4338 687l32-18 26 26-32 18z"/><path fill="#78f003" d="M4414 716l32-17 27 24-32 18z"/><path fill="#1bd50c" d="M4612 895l32-20 29 17-32 20z"/></g>
<path transform="scale(.1)" fill="none" stroke="#000" stroke-opacity="0.32" stroke-width="4.0" d="M4270 614l24 25 23 25 24 23 23 23 24 23 25 21 24 21 25 19 25 19 25 18 25 18 26 16 26 16 26 14 26 14 27 13 27 12 28 11 28 10 28 9 28 8 29 8M4270 614l29-16 28-14 28-13 28-13 28-12 27-10 27-11 26-9 27-8 26-8 26-7 25-6 26-6 25-4 25-4 24-4 24-2 25-2 23-1 24-1 23 0 23 1M4299 598l23 26 24 24 23 24 24 23 24 22 24 21 25 20 24 20 25 19 26 18 25 17 26 16 26 16 26 14 26 14 27 13 27 12 28 10 28 10 28 9 28 9 29 7M4294 639l28-15 29-15 28-13 27-13 28-12 27-11 27-10 27-10 26-8 26-8 26-7 26-6 25-6 25-5 25-4 24-3 25-3 24-2 23-1 24-1 23 0 23 1M4327 584l24 25 23 24 24 24 23 23 24 22 25 21 24 20 25 20 25 18 25 18 25 17 26 16 26 16 26 14 27 14 27 12 27 12 27 11 28 10 28 9 29 8 29 7M4317 664l29-16 28-15 28-13 28-13 27-12 28-11 26-11 27-9 27-9 26-8 25-7 26-6 25-6 25-5 25-4 25-4 24-2 24-2 23-2 24-1 23 0 23 1M4355 571l24 25 23 24 24 23 24 23 24 22 24 21 24 20 25 19 25 19 25 17 25 17 26 16 26 16 26 14 27 13 27 13 27 11 27 11 28 10 29 9 28 8 29 7M4341 687l28-15 29-15 28-14 27-13 28-12 27-11 27-11 27-9 26-9 26-8 26-8 26-6 25-6 25-5 25-4 24-4 24-2 24-3 24-1 23-1 23 0 23 1M4383 558l23 25 24 24 23 23 24 23 24 21 25 21 24 20 25 19 25 19 25 18 25 16 26 16 26 15 26 15 27 13 27 12 27 12 27 11 28 9 28 9 29 8 29 7M4364 710l29-15 28-15 29-14 27-13 28-13 27-11 27-11 27-9 26-9 26-9 26-7 25-6 26-6 25-5 24-5 25-3 24-3 24-3 23-1 24-1 23 0 23 0M4411 546l23 25 23 24 24 23 24 22 24 22 24 21 25 20 24 19 25 18 25 18 26 16 26 16 26 15 26 14 26 13 27 13 27 11 28 11 28 9 28 9 29 8 29 6M4388 733l29-16 28-15 29-14 27-14 28-12 27-12 27-10 27-10 26-9 26-9 26-7 25-7 26-6 25-5 24-4 25-4 24-3 24-2 23-2 24-1 23 0 22 0M4438 536l23 24 24 24 23 23 24 22 24 21 24 21 25 20 24 19 25 18 26 17 25 17 26 16 26 15 26 14 27 13 26 12 28 11 27 11 28 9 28 9 29 8 29 6M4413 754l28-16 29-15 28-14 28-14 27-12 27-12 27-11 27-10 26-9 26-8 26-8 26-7 25-6 25-5 24-5 25-3 24-3 24-3 23-1 24-1 23-1 22 1M4465 525l23 25 23 23 24 23 24 22 24 22 24 20 25 20 24 19 25 18 26 17 25 17 26 15 26 15 26 14 26 13 27 12 28 12 27 10 28 9 28 9 29 7 29 7M4437 775l29-17 28-15 28-14 28-14 28-12 27-12 27-11 26-10 27-9 26-9 26-8 25-6 25-7 25-5 25-5 24-3 24-4 24-2 24-2 23-1 23 0 22 0M4491 516l24 24 23 24 24 23 24 22 24 21 24 20 24 20 25 19 25 18 25 17 26 16 25 16 26 14 27 14 26 13 27 12 27 12 28 10 28 9 28 9 28 7 29 7M4462 794l28-16 29-15 28-15 28-14 27-12 27-12 27-11 27-10 26-10 26-8 26-8 26-7 25-6 25-6 24-4 25-4 24-3 24-3 23-2 23-1 23 0 23 0M4518 508l23 24 24 23 23 23 24 22 24 21 24 20 25 20 24 18 25 18 25 17 26 17 26 15 26 15 26 13 26 13 27 12 27 11 28 11 28 9 28 8 29 8 29 6M4487 813l28-16 29-16 28-14 28-14 27-13 27-12 27-11 27-10 26-10 26-8 26-8 26-7 25-7 25-5 24-5 24-4 25-3 23-3 24-2 23-1 23 0 22 0M4544 500l23 24 24 23 23 23 24 21 24 21 24 21 25 19 24 19 25 18 25 17 26 16 26 15 26 15 26 13 26 13 27 12 27 11 28 10 28 10 28 8 29 7 28 7M4512 831l29-16 28-16 28-15 28-13 27-13 28-13 27-11 26-10 26-10 26-8 26-8 26-7 25-7 25-5 24-5 25-4 24-4 23-2 24-2 23-1 23-1 22 0M4570 493l23 24 23 23 24 22 24 22 24 21 24 20 25 19 24 19 25 18 25 17 26 16 25 15 26 15 27 13 26 13 27 12 27 11 28 10 27 9 29 8 28 8 29 6M4537 849l29-17 28-16 28-15 28-14 28-13 27-12 27-11 27-11 26-9 26-9 26-8 25-7 25-7 25-6 25-4 24-5 24-3 23-3 24-2 23-1 23 0 22 0M4595 487l24 24 23 23 24 22 23 22 24 20 25 20 24 20 25 18 25 18 25 17 25 16 26 15 26 14 26 14 26 12 27 12 27 11 28 10 28 9 28 9 28 7 29 6M4563 865l29-17 28-16 28-15 28-14 28-13 27-12 27-12 26-10 27-10 26-9 25-8 26-7 25-7 25-5 24-5 24-5 24-3 24-3 23-2 23-1 23-1 23 0M4621 481l23 24 23 23 24 22 24 22 24 20 24 20 24 19 25 19 25 17 25 17 25 16 26 15 26 15 26 13 26 13 27 12 27 10 28 10 28 10 28 8 28 7 29 6M4589 881l29-17 28-16 28-15 28-15 28-13 27-12 27-12 26-11 27-9 26-9 25-8 26-8 25-6 25-6 24-5 24-4 24-4 24-3 23-2 23-1 23-1 22 0M4646 477l23 23 23 23 24 22 24 22 24 20 24 20 24 19 25 18 25 18 25 17 25 15 26 16 26 14 26 13 26 13 27 12 27 10 28 10 27 9 28 9 29 7 29 6M4615 895l29-17 28-16 28-15 28-14 28-14 27-12 27-12 27-11 26-10 26-9 26-8 25-7 25-7 25-6 24-5 24-4 24-4 24-2 23-3 23-1 23-1 22 0M4671 473l23 23 23 23 24 22 23 21 24 21 24 19 25 19 24 19 25 17 25 17 26 16 25 15 26 14 26 13 27 13 26 11 27 11 28 10 28 9 28 8 28 8 29 6M4641 909l29-17 29-16 28-16 28-14 27-14 28-12 26-12 27-11 26-10 26-9 26-8 25-8 25-6 25-6 25-5 24-5 24-3 23-3 23-2 23-2 23 0 22 0M4695 469l23 24 24 22 23 22 24 22 24 20 24 20 24 19 25 18 24 17 26 17 25 15 25 15 26 15 26 13 27 12 27 12 27 11 27 10 28 9 28 8 28 7 29 6M4668 922l29-17 29-17 28-15 28-15 27-13 27-13 27-12 27-11 26-10 26-9 26-8 25-8 25-6 25-6 24-6 25-4 23-4 24-3 23-2 23-1 23-1 22 0M4719 467l24 23 23 23 23 22 24 21 24 20 24 20 24 18 25 19 25 17 25 16 25 16 25 15 26 14 26 13 27 13 26 11 27 11 28 10 27 9 28 8 29 7 29 7M4695 934l29-17 29-17 28-16 28-14 27-14 28-13 27-11 26-11 26-11 26-9 26-8 25-8 25-7 25-6 24-5 25-4 23-4 24-3 23-2 23-1 22-1 23 0M4744 465l23 23 23 23 23 21 24 21 24 21 24 19 24 19 25 18 24 17 25 17 25 15 26 15 26 14 26 14 26 12 27 11 27 11 27 10 28 9 28 8 28 7 29 7M4723 945l29-18 28-16 28-16 28-14 28-14 27-13 27-12 27-11 26-10 26-10 26-8 25-8 25-7 25-6 24-5 24-4 24-4 23-3 23-2 23-2 23 0 22 0M4767 464l23 23 23 22 24 22 23 21 24 20 24 20 25 18 24 18 25 17 25 17 25 15 25 15 26 14 26 13 26 13 27 11 27 11 27 10 28 9 28 8 28 7 29 6M4751 955l29-18 28-16 28-16 28-15 28-14 27-13 27-12 27-11 26-10 26-9 25-9 26-8 25-6 24-7 25-5 24-4 23-4 24-3 23-2 23-2 22 0 22-1M4791 463l23 23 23 22 23 22 24 21 24 20 24 20 24 18 24 18 25 17 25 17 25 15 25 15 26 14 26 13 26 12 27 12 27 11 27 9 28 9 28 8 28 8 28 6M4779 964l29-18 28-16 29-16 27-15 28-14 27-13 27-12 27-11 26-11 26-9 26-9 25-7 25-7 24-6 25-6 24-4 23-4 24-3 23-2 23-2 22 0 22 0M4814 463l23 23 23 22 23 22 24 21 24 20 24 19 24 19 24 18 25 17 25 16 25 16 25 14 26 14 26 13 26 13 27 11 26 11 28 10 27 9 28 8 28 7 29 6M4807 972l29-17 29-17 28-16 28-15 28-14 27-13 27-13 26-11 27-10 26-10 25-8 25-8 25-7 25-6 24-5 24-5 24-4 23-3 23-2 23-1 22-1 22 0M4837 464l23 23 23 22 23 22 24 20 23 20 24 20 24 18 25 18 24 17 25 16 25 16 26 14 25 14 26 13 26 13 27 11 27 11 27 10 27 8 28 9 28 7 29 6M4836 980l29-18 29-17 28-16 28-15 28-15 27-13 27-12 26-11 27-11 25-9 26-9 25-8 25-7 25-6 24-5 24-5 24-3 23-3 23-3 22-1 23-1 22 0"/>
<circle cx="427.4" cy="61.1" r="1.25" fill="#b01010"/>
<circle cx="483.9" cy="44.1" r="1.25" fill="#b01010"/>
<circle cx="483.9" cy="61.8" r="1.25" fill="#b01010"/>
<circle cx="539.2" cy="79.5" r="1.1" fill="#f4d8d8" stroke="#d08080" stroke-width="0.4"/>
<circle cx="483.7" cy="99.3" r="1.1" fill="#f4d8d8" stroke="#d08080" stroke-width="0.4"/>
<g font-size="5.1" stroke="#111" stroke-width="0.14"><text transform="matrix(1 0 0 1.06 427.21 102.28)" text-anchor="end">40</text><text transform="matrix(1 0 0 1.06 426.81 92.25)" text-anchor="end">50</text><text transform="matrix(1 0 0 1.06 426.41 82.22)" text-anchor="end">60</text><text transform="matrix(1 0 0 1.06 426.01 72.19)" text-anchor="end">70</text><text transform="matrix(1 0 0 1.06 425.61 62.15)" text-anchor="end">80</text><text transform="matrix(1 0 0 1.06 425.21 52.12)" text-anchor="end">90</text><text transform="matrix(1 0 0 1.06 424.81 42.09)" text-anchor="end">100</text><text transform="matrix(1 0 0 1.06 424.54 123.7)" text-anchor="middle" font-size="5.3">50</text><text transform="matrix(1 0 0 1.06 437.02 130.75)" text-anchor="middle" font-size="5.3">40</text><text transform="matrix(1 0 0 1.06 447.29 135.93)" text-anchor="middle" font-size="5.3">30</text><text transform="matrix(1 0 0 1.06 458.1 141.39)" text-anchor="middle" font-size="5.3">20</text><text transform="matrix(1 0 0 1.06 469.49 147.14)" text-anchor="middle" font-size="5.3">10</text><text transform="matrix(1 0 0 1.06 479.51 151.51)" text-anchor="middle" font-size="5.3">0</text><text transform="matrix(1 0 0 1.06 488.64 151.3)" text-anchor="middle" font-size="5.3">30</text><text transform="matrix(1 0 0 1.06 495.06 146.93)" text-anchor="middle" font-size="5.3">36</text><text transform="matrix(1 0 0 1.06 506.47 141.19)" text-anchor="middle" font-size="5.3">42</text><text transform="matrix(1 0 0 1.06 517.3 135.74)" text-anchor="middle" font-size="5.3">48</text><text transform="matrix(1 0 0 1.06 527.59 130.56)" text-anchor="middle" font-size="5.3">54</text><text transform="matrix(1 0 0 1.06 541.09 125)" text-anchor="middle" font-size="5.3">60</text></g>
<text transform="matrix(1 0 0 1.06 411.6 151.1)" font-size="5.6" textLength="51.26" lengthAdjust="spacingAndGlyphs" stroke="#111" stroke-width="0.2">A: Solvent ratio (% <tspan font-style="italic">v/v</tspan>)</text>
<text transform="matrix(1 0 0 1.06 509.6 150.9)" font-size="5.6" textLength="38.09" lengthAdjust="spacingAndGlyphs" stroke="#111" stroke-width="0.2">D: Time (minute)</text>
<text transform="matrix(1 0 0 1.06 408.6 77.4) rotate(-90)" font-size="5.6" text-anchor="middle" stroke="#111" stroke-width="0.1"><tspan x="0" y="0" textLength="67.84" lengthAdjust="spacingAndGlyphs">DPP IV enzyme inhibitory activity</tspan><tspan x="0" y="5.0" textLength="25.7" lengthAdjust="spacingAndGlyphs">(% inhibition)</tspan></text>
<text transform="matrix(1 0 0 1.06 393.6 10.4)" font-size="10.8" font-weight="bold" stroke="#111" stroke-width="0">(i)</text></g>
<g><polygon points="37.52,290.6 91.48,270.56 145.38,290.63 91.41,316.23" fill="#686868" stroke="#444" stroke-width="0.4"/>
<path transform="scale(.1)" fill="none" stroke="#2fb426" stroke-width="9.0" d="M880 2718l5 5 5 4 7 5 6 5 6 4 7 5 8 5 7 4 10 6 7 4 10 6 12 5 7 4 12 5 12 5 12 6 13 5 13 5 13 5 14 5 14 5 14 5 14 5 15 5 13 4 12 4 15 4 15 5 11 3 15 5 16 5 11 3 16 4 11 3 17 5 15 4 12 4 17 4 12 3 17 5 11 3 18 4 11 3 18 5 12 3"/>
<path transform="scale(.1)" fill="none" stroke="#3eba23" stroke-width="9.0" d="M727 2775l6 4 10 6 11 6 12 5 12 5 13 5 14 4 14 5 10 3 14 4 14 4 12 3 15 5 10 2 16 4 11 3 13 3 14 4 11 3 17 4 11 2 14 4 14 3 11 3 17 4 12 3 11 2 18 4 11 3 13 3 17 4 12 2 13 3 17 4 12 3 13 3 17 3 12 3 13 3 18 4 12 3 12 2 19 4 12 3 13 3 19 4 12 3 13 3"/>
<path transform="scale(.1)" fill="none" stroke="#3eba23" stroke-width="9.0" d="M471 2951l2-6 2-5 3-7 2-5 3-6 2-6 1-5 3-7 1-4 2-7 1-4 1-7 1-4 1-7 0-4 0-6"/>
<path transform="scale(.1)" fill="none" stroke="#66c520" stroke-width="9.0" d="M603 3014l7-5 7-6 9-6 10-7 8-6 12-7 9-5 13-6 14-7 15-6 15-5 15-5 14-3 12-3 14-2 15-3 13-1 14-2 15-1 16-1 10 0 17 0 11 0 17 0 10 0 16 1 14 1 11 0 15 1 16 2 14 1 12 1 12 1 14 2 15 1 15 2 14 2 15 2 14 1 14 2 14 2 14 2 14 2 14 3 14 2 14 2 14 2 14 2 14 2 14 3 15 2 16 3"/>
<path transform="scale(.1)" fill="none" stroke="#a0d41d" stroke-width="9.0" d="M716 3068l14-7 15-7 15-7 16-6 16-6 11-4 18-5 12-3 19-5 13-2 13-3 14-2 15-2 15-2 15-2 14-1 12-1 15-1 17 0 10-1 18 0 12 0 16 0 12 0 18 1 11 0 15 1 17 1 11 0 15 1 17 1 13 1 12 1 15 2 16 1"/>
<path transform="scale(.1)" fill="none" stroke="#c9cd1d" stroke-width="9.0" d="M818 3117l17-7 17-6 16-5 13-4 15-5 17-4 13-3 13-3 16-3 16-3 15-2 14-2 14-2 14-1 16-2 17-1 14-1 12-1 17-1 14 0"/>
<path d="M37.52 290.6h0.01M91.41 316.23h0.01M47.23 295.21h0.01M103.36 310.56h0.01M57.42 300.06h0.01M114.69 305.18h0.01M68.16 305.17h0.01M125.45 300.08h0.01M79.47 310.55h0.01M135.66 295.24h0.01M91.41 316.23h0.01M145.38 290.63h0.01" stroke="#222" stroke-width="1" stroke-linecap="round"/>
<path transform="scale(.1)" fill="none" stroke="#949494" stroke-width="6.0" d="M368 2730l547-183 546 184M364 2636l551-174 550 175M360 2543l555-165 554 165M356 2449l559-155 558 155M352 2355l563-146 562 146M348 2261l567-136 566 136M344 2167l571-126 570 126M368 2730l-24-563M915 2547l0-506M477 2694l-19-552M1024 2583l5-517M587 2657l-15-540M1133 2620l10-529M696 2620l-9-529M1243 2657l14-540M805 2583l-4-517M1352 2694l19-552M915 2547l0-506M1461 2731l24-564"/>
<path transform="scale(.1)" fill="none" stroke="#949494" stroke-width="6.0" d="M375 2906l-7-176-24-563M1454 2906l7-175 24-564M915 2706l0-159"/>
<path d="M36.78 273.03h0.01M36.39 263.65h0.01M35.99 254.26h0.01M35.59 244.88h0.01M35.2 235.49h0.01M34.8 226.11h0.01M34.41 216.72h0.01" stroke="#222" stroke-width="1" stroke-linecap="round"/>
<g transform="scale(.1)"><path fill="#12cf0c" d="M889 2351l26-2 25 13-25 2zM1284 2481l23 4 33 8-23-4z"/><path fill="#12cf0f" d="M912 2360l25-2 26 13-25 2zM958 2386l26-2 26 13-25 1zM982 2395l25-2 27 12-25 1zM1005 2403l26-1 27 11-25 1zM1231 2469l23 2 32 10-23-4zM1258 2475l22 3 33 9-23-4z"/><path fill="#18d20c" d="M866 2351l26-3 26 13-26 3zM912 2378l26-3 26 12-26 3zM935 2386l26-2 27 12-26 2zM959 2394l25-2 27 12-25 2zM1156 2453l24 1 31 9-24-1zM1182 2459l24 2 31 9-23-2zM1208 2466l24 2 31 8-23-2zM1367 2499l22 6 34 6-22-6z"/><path fill="#0fcf0f" d="M935 2369l25-2 26 13-25 2zM958 2378l25-1 26 12-25 1zM1029 2411l25-1 28 12-25 0zM1054 2419l24-1 29 12-25 0zM1078 2426l25 0 28 11-24 0zM1103 2434l24 0 29 11-24-1zM1128 2441l24 1 30 11-24-1zM1153 2448l24 1 30 11-23-2zM1179 2455l23 2 31 10-23-2zM1205 2462l23 2 31 10-23-3zM1389 2504l22 7 34 6-22-7zM1417 2510l22 7 34 6-22-7z"/><path fill="#15d20c" d="M889 2360l26-2 26 12-26 2zM912 2369l25-2 27 12-26 2zM982 2402l26-2 27 12-25 1zM1006 2410l26-2 28 12-26 1zM1031 2417l25-1 28 11-25 1zM1055 2425l25-1 29 11-25 1zM1080 2432l25 0 29 10-25 1zM1105 2439l25 0 29 11-24-1zM1131 2446l24 0 30 11-24-1zM1312 2487l22 5 33 8-22-6zM1339 2493l22 5 34 7-22-5z"/><path fill="#1ed50c" d="M843 2352l27-3 25 12-26 3zM843 2362l26-4 26 12-27 4zM865 2370l27-3 26 12-27 3zM888 2378l27-3 26 12-26 3zM912 2386l26-2 26 11-26 3zM1107 2444l25 0 30 10-24 0zM1133 2451l24 0 31 9-24 0zM1159 2457l24 1 31 9-24-1zM1289 2483l23 4 33 7-23-4zM1317 2489l22 4 34 7-23-5z"/><path fill="#1bd20c" d="M866 2361l26-3 26 12-26 3zM889 2369l26-3 26 13-26 2zM959 2402l26-2 27 11-26 2zM983 2410l26-3 28 12-26 1zM1007 2417l26-2 28 11-25 1zM1032 2424l25-1 29 10-25 1zM1057 2431l25-1 29 10-25 1zM1235 2472l23 2 32 9-23-3zM1262 2478l23 3 32 8-22-4zM1395 2504l22 7 34 6-22-7z"/><path fill="#21d50c" d="M820 2353l27-4 25 13-27 3zM842 2372l27-4 25 11-26 4zM865 2380l26-4 27 11-27 4zM888 2388l27-4 26 11-26 4zM912 2395l26-3 27 11-26 3zM936 2403l26-3 27 10-26 3zM960 2410l26-3 27 11-26 2zM984 2417l26-3 28 11-26 2zM1008 2424l26-2 29 10-26 2zM1033 2430l26-1 29 10-26 1zM1059 2437l25-2 29 10-25 2zM1185 2463l24 1 32 9-24-2zM1212 2469l23 2 33 8-24-2zM1344 2494l23 5 34 7-22-6z"/><path fill="#0ccf0f" d="M981 2387l25-1 27 12-25 1zM1334 2492l22 5 33 8-22-6zM1361 2498l22 6 34 7-22-6z"/><path fill="#15cf0c" d="M935 2378l25-2 27 12-26 2z"/><path fill="#24d80c" d="M796 2355l27-4 25 12-26 4zM864 2389l27-4 27 11-27 4zM888 2396l27-3 26 10-26 4zM912 2404l26-4 28 11-27 3zM936 2411l26-4 28 11-27 3zM1110 2449l25 0 30 9-25 0zM355 2489l32-17 24 7-32 17zM1266 2480l23 3 33 7-22-4z"/><path fill="#0ccc0f" d="M1004 2395l25 0 27 12-24 1zM1307 2486l22 4 33 9-22-6z"/><path fill="#24d50c" d="M819 2364l27-5 25 12-26 4zM1084 2443l25-1 30 10-25 1zM1239 2474l23 3 33 7-23-2zM1373 2499l22 6 34 6-22-6z"/><path fill="#27d809" d="M772 2358l28-5 25 11-27 5zM795 2366l27-5 26 12-27 4zM818 2374l27-5 26 12-27 4zM985 2424l26-3 28 10-26 3zM1010 2430l26-2 28 10-26 2zM1035 2437l26-2 29 9-26 2zM1162 2461l24 0 32 9-24-1zM383 2476l32-16 24 7-32 15zM377 2493l32-16 24 6-32 17zM1294 2485l23 4 33 6-22-4z"/><path fill="#09cc0f" d="M1028 2404l25-1 27 13-24 0zM1052 2412l25 0 28 12-25 0zM1076 2420l25 1 28 11-24 0zM1101 2428l24 1 29 11-24 0zM1126 2436l23 1 30 11-24-1zM1151 2444l23 1 30 11-23-2zM1176 2451l23 2 31 11-24-3zM1201 2458l23 3 31 10-22-3zM1227 2466l23 2 31 10-22-3zM1254 2472l22 4 32 9-22-4zM1280 2479l22 4 33 9-23-5z"/><path fill="#2ad809" d="M748 2361l28-6 25 12-28 5zM771 2369l27-6 26 12-28 5zM794 2377l27-6 26 11-28 5zM817 2384l27-5 26 11-27 5zM840 2391l27-4 27 10-27 5zM864 2398l27-4 27 10-28 5zM888 2405l27-4 27 10-27 4zM912 2412l27-4 27 10-27 4zM936 2419l27-4 28 10-27 3zM961 2425l26-4 29 10-27 3zM1060 2443l26-2 30 9-26 2zM1086 2449l25-2 31 9-26 1zM411 2463l31-15 24 7-31 15zM1189 2467l24 0 32 8-24-1zM405 2480l32-16 24 7-32 16zM1216 2472l23 1 33 8-23-2zM1322 2490l22 4 35 6-23-4zM399 2497l32-16 25 6-32 16zM1350 2495l23 5 34 5-22-5z"/><path fill="#2ddb09" d="M724 2365l28-6 25 11-28 6zM747 2373l27-7 26 11-28 6zM839 2401l28-5 27 10-28 5zM863 2408l28-5 27 10-28 4zM887 2414l28-5 27 10-27 5zM912 2420l27-4 28 10-28 4zM1011 2437l26-3 29 9-26 3zM438 2451l31-15 25 8-31 14zM433 2468l31-15 25 7-32 14zM1138 2460l25-1 32 8-25 1zM427 2484l32-15 25 6-32 16zM1271 2482l23 3 34 6-24-3zM422 2501l32-16 25 6-32 16z"/><path fill="#1bd50c" d="M935 2394l26-2 27 11-26 2zM1082 2438l25-1 29 10-24 1z"/><path fill="#27d80c" d="M841 2382l27-5 26 11-27 5zM960 2417l27-3 27 11-26 2zM1136 2455l24 0 31 9-24 0z"/><path fill="#30db09" d="M699 2370l28-8 26 11-29 7zM722 2377l28-7 25 10-28 7zM674 2375l29-8 25 10-29 8zM745 2384l28-7 25 11-28 6zM697 2382l28-8 26 10-29 8zM768 2391l28-6 26 10-28 6zM720 2389l28-8 26 10-29 7zM791 2398l28-6 26 10-28 5zM743 2395l28-7 26 10-28 7zM815 2404l28-6 26 10-28 6zM838 2411l28-6 27 10-28 5zM863 2417l27-6 28 10-28 5zM936 2426l27-4 28 10-27 4zM493 2429l30-13 25 8-31 13zM466 2440l30-14 25 8-31 13zM961 2432l27-4 29 10-27 3zM1036 2443l26-3 30 9-26 3zM488 2445l31-14 25 8-31 13zM460 2456l32-14 24 7-31 14zM1062 2448l26-2 30 9-26 2zM455 2472l32-15 25 7-32 15zM1165 2465l25 0 32 8-25-1zM1192 2470l24 0 33 8-24-1zM450 2488l32-15 25 6-32 15zM1299 2486l23 4 34 6-23-4zM445 2505l32-16 25 6-32 15z"/><path fill="#2dd809" d="M769 2380l28-6 26 11-28 5zM792 2387l28-6 26 11-28 5zM816 2394l27-5 27 10-28 5zM986 2431l26-3 29 9-27 3zM1112 2454l25-1 31 9-25 1zM1243 2477l23 2 34 7-24-3z"/><path fill="#33db09" d="M649 2380l29-8 25 10-29 8zM672 2387l29-8 25 10-29 8zM624 2387l29-9 25 9-29 9zM695 2394l28-8 26 10-29 7zM598 2394l29-10 25 9-29 10zM646 2393l29-9 26 10-30 9zM766 2402l28-7 27 10-29 6zM572 2402l30-11 25 9-30 11zM718 2400l28-7 26 9-29 8zM621 2400l29-9 25 9-29 9zM669 2400l29-9 26 9-30 9zM790 2408l28-6 26 9-28 6zM546 2410l30-11 25 9-31 11zM741 2407l29-8 26 9-29 8zM595 2408l29-11 25 9-29 11zM519 2419l31-12 24 9-30 12zM813 2414l29-6 27 9-29 6zM568 2416l30-11 25 8-30 11zM887 2423l28-5 27 9-27 5zM542 2425l30-12 25 8-30 12zM838 2420l28-6 27 9-28 6zM515 2434l31-12 24 8-30 12zM912 2429l27-5 28 9-27 4zM986 2438l27-4 29 9-27 4zM538 2440l30-13 25 8-30 12zM510 2450l31-14 25 8-31 13zM1012 2443l26-3 30 9-27 3zM483 2460l31-14 25 8-31 13zM1088 2454l26-2 30 8-25 2zM506 2465l31-14 25 7-31 14zM1114 2459l26-1 31 8-25 0zM478 2476l32-14 25 6-32 15zM1219 2475l24 1 34 7-24-2zM473 2492l32-15 25 6-32 15zM1327 2491l23 4 34 5-22-4zM468 2508l32-16 26 6-33 15z"/><path fill="#36de09" d="M692 2406l29-9 26 10-29 8zM643 2406l30-9 25 9-29 9zM764 2413l29-8 26 10-28 7zM617 2414l30-11 25 9-29 10zM715 2412l29-8 26 9-29 8zM666 2412l30-9 25 9-29 9zM591 2422l30-11 25 8-30 11zM788 2419l29-8 27 9-29 7zM640 2419l30-10 26 9-30 10zM739 2418l29-8 26 9-29 7zM690 2418l29-9 26 9-30 9zM564 2430l31-11 25 8-30 11zM862 2426l28-6 28 9-29 6zM614 2427l30-11 25 9-30 10zM812 2424l29-7 27 9-29 7zM936 2434l28-4 28 9-27 4zM587 2435l31-11 25 8-30 11zM887 2431l28-5 27 9-27 5zM560 2445l31-13 25 8-30 12zM962 2440l27-5 29 9-27 4zM533 2454l31-13 26 8-32 12zM1038 2449l26-3 30 8-26 3zM556 2459l31-13 26 7-31 13zM1064 2454l26-3 30 8-26 3zM529 2469l31-13 26 7-32 13zM1141 2464l25-1 32 8-25 0zM501 2480l32-14 25 6-32 15zM1247 2479l24 2 34 6-24-2zM496 2496l32-15 26 6-32 14zM491 2511l33-15 25 5-32 15z"/><path fill="#39de09" d="M663 2425l30-10 26 9-30 9zM763 2423l29-7 26 8-29 8zM713 2424l29-9 27 8-30 9zM637 2432l30-10 26 8-30 10zM837 2430l28-7 28 9-29 6zM610 2440l31-11 26 8-31 11zM912 2437l27-6 29 9-28 5zM584 2449l30-12 26 8-31 12zM987 2445l27-4 30 8-27 4zM1168 2468l25 0 32 7-24 0zM524 2484l32-14 26 6-32 14zM1275 2484l24 2 34 6-24-3z"/><path fill="#3cde06" d="M687 2430l30-9 26 8-30 9zM787 2429l29-8 27 9-29 7zM1090 2459l26-2 31 7-26 2zM552 2473l31-13 26 7-31 13zM520 2499l32-15 26 6-33 14z"/><path fill="#3fde06" d="M737 2429l29-9 27 9-30 8zM580 2463l31-12 26 7-32 12z"/><path fill="#3fe106" d="M661 2437l30-10 26 8-30 10zM861 2435l29-6 28 8-29 6zM607 2454l31-12 26 7-31 12zM1013 2450l27-4 30 8-27 4zM1196 2473l24 0 33 7-24-1z"/><path fill="#42e106" d="M711 2435l29-9 27 8-30 9zM634 2445l30-11 26 8-30 11zM937 2442l27-5 29 8-27 5zM548 2488l32-14 26 6-32 13zM1304 2488l23 3 35 5-24-4zM515 2514l32-15 26 5-32 15z"/><path fill="#45e106" d="M811 2434l29-7 27 8-29 7zM761 2434l29-8 27 8-29 8zM1117 2463l25-1 32 7-25 1zM576 2477l31-13 26 6-31 13z"/><path fill="#48e106" d="M684 2442l30-10 27 8-30 10zM886 2440l29-6 28 8-29 6zM658 2450l30-11 26 7-30 11zM962 2447l28-5 29 8-27 5zM631 2458l30-11 27 7-31 11zM1039 2454l27-3 30 8-26 3zM603 2467l31-12 27 7-32 12zM1223 2477l24 1 34 6-24-1zM543 2502l32-14 27 5-32 14z"/><path fill="#4be406" d="M735 2440l29-9 27 8-29 9zM836 2439l29-7 27 8-29 7zM785 2439l29-8 28 8-30 8z"/><path fill="#4ee406" d="M708 2447l30-10 27 8-30 9zM911 2445l29-6 28 8-28 5zM1144 2468l25-1 33 7-25 0zM572 2491l31-14 27 6-32 14z"/><path fill="#54e406" d="M759 2445l30-9 27 8-30 8zM810 2444l29-8 28 8-30 7zM655 2462l30-11 27 7-31 11zM627 2471l31-12 27 7-31 11zM1251 2481l24 2 35 5-24-2z"/><path fill="#51e406" d="M861 2444l28-7 28 8-28 6zM682 2454l30-10 27 7-31 10zM988 2451l27-4 30 8-27 4zM1066 2459l26-3 31 8-26 2zM600 2481l31-13 26 6-31 13zM539 2516l32-14 27 4-33 15z"/><path fill="#57e706" d="M733 2451l30-9 27 7-30 9zM937 2449l28-5 29 8-28 5zM1171 2472l25-1 33 7-24 0zM567 2505l33-14 26 5-32 14z"/><path fill="#5ae706" d="M784 2449l29-8 28 7-30 8zM886 2448l28-6 29 8-29 6zM1014 2456l27-4 31 7-27 4zM1092 2463l26-2 32 7-26 2zM596 2494l32-13 26 5-32 13z"/><path fill="#5de706" d="M835 2448l29-7 28 7-29 7zM706 2458l30-10 27 7-30 10zM679 2466l31-11 26 7-30 10zM651 2475l31-12 27 6-31 12zM624 2484l31-13 27 6-32 13z"/><path fill="#60e706" d="M963 2454l28-5 29 7-28 5zM1280 2485l24 2 34 5-23-3zM563 2519l33-15 26 5-32 14z"/><path fill="#60ea06" d="M757 2455l30-9 28 7-30 9z"/><path fill="#63ea06" d="M911 2453l29-7 29 8-29 6zM1041 2460l27-4 30 8-26 3zM1120 2467l25-1 32 6-25 2zM1199 2476l25 0 33 6-24-1z"/><path fill="#66ea06" d="M809 2453l29-8 28 7-29 8zM860 2452l29-7 28 8-29 7zM730 2462l31-10 27 7-30 10zM592 2507l32-13 27 5-32 13z"/><path fill="#69ea06" d="M989 2458l28-5 30 7-28 5zM703 2470l31-11 27 6-30 11zM676 2478l31-11 27 6-31 11zM648 2487l32-12 27 6-32 12zM620 2497l32-13 27 5-32 13z"/><path fill="#6cea06" d="M782 2459l30-9 28 7-30 9z"/><path fill="#6fed03" d="M937 2457l29-6 29 7-28 6zM834 2457l29-8 29 7-30 8zM886 2457l28-7 29 7-29 6zM1147 2471l25-1 33 6-25 1zM1227 2479l25 1 34 6-24-2zM588 2521l32-15 28 5-33 14z"/><path fill="#6ced03" d="M1068 2464l26-3 32 7-27 3z"/><path fill="#72ed03" d="M755 2466l31-10 27 7-30 9z"/><path fill="#75ed03" d="M1016 2462l27-5 31 7-28 4zM807 2463l30-9 28 7-29 8zM728 2473l31-10 27 6-30 10zM617 2510l32-14 27 5-32 13z"/><path fill="#78f003" d="M963 2461l29-6 30 7-29 5zM859 2461l30-7 28 6-29 8zM1256 2483l24 2 35 4-24-2z"/><path fill="#7bf003" d="M911 2460l29-6 29 7-28 6zM1175 2475l25-1 33 6-25 0z"/><path fill="#78ed03" d="M1095 2468l26-3 32 7-26 2zM701 2481l31-11 27 6-31 11zM673 2490l31-12 28 5-32 12zM645 2499l32-12 27 5-32 12z"/><path fill="#7ef003" d="M781 2469l30-9 28 6-30 9zM1042 2465l27-4 32 7-27 4z"/><path fill="#81f003" d="M833 2466l30-8 28 7-30 8zM753 2476l31-10 28 6-31 10zM613 2523l32-15 28 5-33 14z"/><path fill="#84f003" d="M990 2464l28-5 30 7-28 5zM1122 2471l26-2 33 6-26 2z"/><path fill="#84f303" d="M885 2465l29-8 30 7-30 7zM938 2464l28-6 30 6-29 6zM726 2484l31-11 28 6-31 10zM642 2512l32-14 27 5-32 13z"/><path fill="#8af303" d="M806 2472l30-9 29 6-31 9zM1069 2469l27-4 32 7-27 3z"/><path fill="#8df303" d="M859 2470l29-8 29 6-29 8zM779 2479l30-10 29 6-31 10z"/><path fill="#90f303" d="M1017 2468l27-5 31 6-27 5z"/><path fill="#90f603" d="M911 2468l29-7 30 6-29 7zM964 2467l29-6 30 7-29 5zM1150 2475l26-2 33 6-25 1z"/><path fill="#87f303" d="M1203 2478l25 0 34 5-25 0zM698 2493l32-12 27 5-31 11zM670 2502l32-13 27 5-31 12z"/><path fill="#96f603" d="M832 2475l30-8 29 5-30 9zM1097 2472l26-3 33 6-26 3zM695 2504l32-12 28 4-32 12z"/><path fill="#9cf903" d="M885 2473l29-8 30 6-30 7zM1044 2471l27-5 32 6-27 4zM805 2482l30-10 29 6-31 9zM1178 2478l25-1 34 5-25 0z"/><path fill="#9ff903" d="M938 2471l29-7 30 6-29 7zM991 2470l28-5 31 6-28 5z"/><path fill="#93f603" d="M751 2487l31-11 29 5-31 11zM1231 2481l25 1 35 5-25-2zM724 2495l31-12 28 5-31 12zM667 2514l32-13 28 4-32 13zM638 2524l33-14 28 4-33 14z"/><path fill="#a5f900" d="M858 2478l30-8 29 5-30 8zM1125 2475l26-2 33 5-26 2zM749 2497l32-11 28 5-31 10zM721 2506l32-12 28 4-31 12zM693 2515l32-13 28 4-32 13zM664 2525l32-13 29 3-33 14z"/><path fill="#a8fc00" d="M911 2475l30-7 30 6-30 7zM1072 2474l27-4 32 5-27 4z"/><path fill="#abfc00" d="M965 2474l28-7 31 6-29 6zM1018 2473l28-5 32 6-28 5zM831 2484l30-9 29 5-30 9zM1207 2480l25 0 34 5-24-1z"/><path fill="#a2f900" d="M777 2489l31-10 29 5-31 10z"/><path fill="#b1ff00" d="M884 2481l30-9 30 6-30 8z"/><path fill="#b1fc00" d="M1153 2478l26-2 34 5-26 1zM803 2491l31-10 29 5-31 10z"/><path fill="#b7ff00" d="M938 2478l29-7 31 5-29 7zM1099 2476l27-3 33 5-26 3zM747 2507l32-11 29 4-32 11zM719 2516l32-12 29 4-33 12zM690 2526l32-13 29 3-33 13z"/><path fill="#baff00" d="M992 2476l28-6 32 6-29 5zM1046 2476l27-5 32 5-27 5zM857 2486l31-9 29 5-30 9z"/><path fill="#bdff00" d="M911 2483l30-8 30 5-29 7zM1182 2480l25-1 35 4-26 1zM830 2493l31-10 29 5-31 9z"/><path fill="#c0fc00" d="M965 2480l29-7 31 5-29 7zM1128 2479l26-3 34 5-26 2zM802 2500l31-10 29 4-31 10z"/><path fill="#c3fc00" d="M1019 2479l29-6 32 5-29 5zM1074 2478l27-4 33 5-27 4zM884 2488l30-8 30 4-30 9zM774 2508l31-11 30 4-32 11zM745 2517l32-12 29 4-32 12zM716 2527l33-13 29 3-33 13z"/><path fill="#b4ff00" d="M775 2499l32-11 29 4-32 11z"/><path fill="#c9fc00" d="M939 2485l29-8 31 5-30 7zM857 2495l30-10 30 4-30 10z"/><path fill="#ccfc00" d="M1156 2481l26-2 35 4-26 1zM993 2482l29-6 31 4-28 7zM1102 2480l27-4 33 5-26 3zM1047 2481l28-6 33 5-28 5zM829 2502l31-11 30 4-32 10z"/><path fill="#cffc00" d="M911 2490l30-9 31 5-30 8zM800 2509l32-11 30 4-32 11z"/><path fill="#d5f900" d="M966 2486l29-7 32 5-29 6zM884 2496l30-9 31 4-31 9z"/><path fill="#d8f900" d="M1021 2484l28-6 33 4-29 6zM1131 2482l26-3 34 4-26 2zM1076 2482l27-4 34 4-28 4zM856 2503l31-10 30 3-31 10z"/><path fill="#dbf900" d="M939 2491l30-8 31 4-30 8zM827 2510l32-11 30 4-31 10z"/><path fill="#e1f900" d="M994 2488l29-7 32 4-29 6zM911 2497l31-9 31 4-31 8zM770 2528l32-13 30 3-32 12z"/><path fill="#e4f600" d="M1049 2485l28-5 33 4-28 5zM1104 2484l27-4 35 3-27 4z"/><path fill="#e7f600" d="M967 2492l29-7 32 3-29 8zM883 2503l31-9 31 3-31 9z"/><path fill="#edf600" d="M1022 2489l29-7 33 4-29 6zM939 2498l30-9 32 4-30 8zM826 2519l32-12 31 3-32 11zM797 2527l33-12 30 2-32 12z"/><path fill="#f0f600" d="M1078 2486l28-5 33 4-27 4z"/><path fill="#d2f900" d="M772 2518l32-12 29 3-32 12zM743 2527l32-12 30 3-33 12z"/><path fill="#f3f300" d="M995 2493l29-7 33 3-29 7zM911 2504l31-10 31 4-30 9z"/><path fill="#f9f300" d="M1051 2490l28-6 34 3-28 5zM883 2511l31-11 31 3-31 10z"/><path fill="#def900" d="M799 2518l32-11 30 3-32 11z"/><path fill="#eaf600" d="M855 2511l31-11 31 3-31 10z"/><path fill="#fcf300" d="M967 2498l30-8 33 3-30 8zM854 2518l32-11 31 3-32 10z"/><path fill="#fff000" d="M1024 2494l29-7 33 3-29 6zM940 2504l30-9 32 3-30 8z"/><path fill="#ffe400" d="M996 2498l30-8 33 3-30 8z"/><path fill="#ffe700" d="M911 2510l31-9 32 2-31 10z"/><path fill="#ffdb00" d="M968 2504l31-9 32 3-30 8z"/><path fill="#fff300" d="M825 2527l32-12 31 2-32 12z"/><path fill="#ffe100" d="M882 2518l32-11 32 2-32 11z"/><path fill="#ffd200" d="M940 2510l31-10 32 3-31 9z"/><path fill="#ffde00" d="M853 2526l33-12 31 2-32 11z"/><path fill="#ffcc00" d="M911 2517l32-10 32 1-32 10z"/><path fill="#ffc600" d="M882 2525l32-11 32 1-32 11z"/></g>
<path transform="scale(.1)" fill="none" stroke="#000" stroke-opacity="0.32" stroke-width="4.0" d="M358 2489l22 4 22 4 23 4 23 3 23 3 23 3 24 3 24 3 24 2 25 2 25 2 25 2 26 1 26 1 26 1 27 0 27 0 27 0 28-1 28 0 29-2 29-1M358 2489l28-14 28-13 27-12 28-11 27-10 26-10 27-9 26-8 26-8 26-7 25-6 25-6 25-5 25-5 24-3 24-4 24-2 24-2 23-2 23 0 23-1 23 1M386 2475l22 5 22 4 23 4 23 4 23 3 24 3 23 4 24 2 25 3 25 2 25 2 25 2 26 2 26 1 26 1 27 1 27 0 27 0 28 0 28-1 29 0 29-2M380 2493l28-13 28-13 27-12 28-11 27-10 27-9 26-9 27-8 26-8 25-7 26-6 25-5 25-5 25-4 24-4 24-3 24-2 24-2 23-1 23 0 23 0 22 0M414 2462l22 5 22 5 23 4 23 4 23 4 24 3 24 4 24 3 24 2 25 3 25 2 25 2 26 2 26 2 27 1 26 1 27 1 28 0 28 0 28 0 29 0 29-1M402 2497l28-13 28-12 28-12 27-11 28-10 26-9 27-9 26-7 26-8 26-6 26-6 25-5 25-5 24-4 25-3 24-3 24-2 23-1 24-1 23-1 23 1 22 0M441 2450l22 5 23 5 23 5 23 4 23 4 24 4 24 3 24 4 24 3 25 3 25 2 26 3 25 2 26 1 27 2 27 1 27 1 27 1 28 0 28 1 29-1 29 0M425 2501l28-13 28-12 28-11 27-11 27-10 27-9 27-8 26-8 26-7 26-6 26-6 25-5 25-4 24-4 25-3 24-2 24-2 23-1 24-1 23 0 23 1 22 1M469 2439l22 5 22 5 23 5 23 5 24 4 23 4 24 4 24 3 25 4 25 3 25 3 25 2 26 3 26 2 27 2 27 1 27 2 27 1 28 0 28 1 29 0 29 0M448 2504l28-12 28-12 28-11 27-10 28-10 26-9 27-8 26-7 27-7 25-6 26-5 25-5 25-4 25-4 24-2 24-2 24-2 24-1 23 0 23 0 23 0 22 2M496 2429l22 5 23 5 22 5 24 5 23 5 24 4 24 4 24 4 24 4 25 3 25 3 26 3 26 3 26 2 26 2 27 2 27 2 28 1 28 1 28 1 29 0 29 1M471 2507l28-12 28-11 28-11 28-10 27-9 27-9 27-8 26-7 26-6 26-6 25-5 26-5 25-4 24-3 25-2 24-2 24-1 23-1 24 0 23 0 22 1 23 2M522 2419l23 6 22 5 23 5 23 5 24 5 24 5 24 4 24 4 24 4 25 4 26 3 25 3 26 3 26 3 26 2 27 3 27 1 28 2 28 2 28 1 29 0 29 1M494 2510l29-12 28-11 28-10 27-10 28-9 27-8 26-8 27-7 26-6 26-6 25-4 25-5 25-3 25-3 25-2 24-2 23-1 24 0 23 0 23 0 23 2 23 1M549 2410l22 6 23 5 23 6 23 5 24 5 23 5 24 5 25 4 24 4 25 4 25 4 26 3 26 4 26 3 26 2 27 3 27 2 28 2 28 2 28 1 29 1 29 1M518 2513l28-11 29-11 28-11 27-9 28-9 27-8 26-7 27-7 26-6 26-5 25-5 26-4 25-3 24-3 25-2 24-1 24-1 23 0 23 0 23 1 23 2 22 2M575 2402l23 6 22 6 23 5 23 6 24 5 24 5 24 5 24 5 25 4 25 4 25 4 25 4 26 4 26 3 27 3 27 3 27 2 27 3 28 2 29 1 28 2 29 1M542 2516l28-12 29-10 28-10 27-10 28-8 27-8 27-7 26-6 26-6 26-5 26-4 25-4 25-3 25-2 24-2 24-1 24-1 23 0 24 1 23 1 22 2 23 2M601 2394l23 6 22 6 23 6 24 6 23 6 24 5 24 5 24 5 25 5 25 4 25 4 26 5 25 3 27 4 26 3 27 3 27 3 28 3 28 2 28 2 29 2 29 1M566 2518l29-11 28-11 28-9 28-9 27-8 27-8 27-7 27-6 26-5 26-5 25-4 26-3 25-3 24-2 25-2 24-1 23 0 24 1 23 0 23 2 23 2 22 3M627 2387l22 6 23 7 23 6 23 6 24 6 24 5 24 6 24 5 25 5 25 5 25 4 25 5 26 4 26 4 27 3 27 4 27 3 28 3 27 2 29 3 28 2 29 2M591 2520l29-11 28-10 28-9 28-9 27-8 27-7 27-7 27-6 26-5 26-4 25-4 26-3 24-3 25-1 24-2 25 0 23 0 24 0 23 2 23 1 23 3 22 3M652 2381l23 6 23 7 23 6 23 7 23 6 24 6 24 5 25 6 24 5 25 5 25 5 26 4 26 5 26 4 27 4 26 4 27 3 28 3 28 3 28 3 29 2 29 3M616 2522l29-11 28-10 28-9 28-8 27-8 28-7 26-6 27-6 26-5 26-4 25-3 26-3 25-2 24-2 25-1 24 0 23 0 24 1 23 2 23 2 23 2 22 4M677 2375l23 7 23 7 23 6 23 7 24 6 23 6 25 6 24 6 25 6 25 5 25 5 25 5 26 5 26 4 27 4 27 4 27 4 27 4 28 3 28 3 29 3 29 2M641 2524l29-11 28-10 29-8 27-9 28-7 27-7 27-6 26-5 27-4 25-4 26-4 25-2 25-2 25-1 24-1 24 0 24 1 23 1 23 2 23 2 23 3 22 3M702 2370l23 7 23 7 23 7 23 7 24 6 23 7 25 6 24 6 25 6 24 5 26 6 25 5 26 5 26 5 27 4 26 5 28 4 27 3 28 4 28 3 28 4 29 2M667 2525l29-10 28-10 28-8 28-8 28-7 27-7 27-5 26-5 26-5 26-3 26-3 25-2 25-2 25-1 24 0 24 0 24 1 23 1 23 2 23 3 22 3 23 4M727 2365l23 8 22 7 23 7 24 7 23 7 24 7 24 6 25 7 24 6 25 6 25 5 26 6 26 5 26 5 26 5 27 4 27 5 27 4 28 4 28 4 29 3 29 3M693 2526l29-10 28-9 28-9 28-7 28-7 27-6 27-5 26-5 27-4 25-3 26-3 25-2 25-1 25-1 24 0 24 1 24 1 23 2 23 2 23 3 22 3 22 4M751 2362l23 7 23 8 23 7 23 8 24 7 24 7 24 6 24 7 25 6 24 6 26 6 25 6 26 6 26 5 26 5 27 5 27 5 28 4 27 4 28 4 29 4 29 4M719 2527l29-10 29-9 28-8 28-7 27-7 27-6 27-5 27-4 26-4 26-3 26-2 25-2 25-1 24 0 24 0 24 1 24 1 23 3 23 2 23 3 22 4 23 4M775 2358l23 8 23 8 23 8 23 8 24 7 24 7 24 7 24 7 25 6 25 7 25 6 25 6 26 6 26 6 26 5 27 5 27 5 27 5 28 5 28 4 29 4 28 4M746 2527l29-9 28-9 29-8 28-7 27-6 27-5 27-5 27-4 26-4 26-2 25-2 26-2 24 0 25-1 24 1 24 1 24 2 23 2 23 3 23 4 22 4 22 4M799 2356l23 8 23 8 23 8 23 8 24 8 23 7 25 7 24 7 24 7 25 7 25 6 26 7 26 6 26 6 26 5 27 6 27 5 27 5 28 5 28 5 28 4 29 5M773 2527l29-9 28-8 29-8 28-6 27-6 27-6 27-4 27-4 26-3 26-2 25-2 26-1 25 0 24 0 24 1 24 1 24 2 23 3 23 3 22 4 23 4 22 5M823 2354l23 8 22 9 23 8 24 8 23 8 24 8 24 7 24 7 25 8 25 6 25 7 25 7 26 6 26 7 26 6 27 5 27 6 27 5 28 6 28 5 28 4 29 5M800 2527l29-9 29-8 28-7 28-6 28-6 27-5 27-4 26-3 27-3 26-2 25-2 25 0 25-1 24 1 25 1 23 2 24 2 23 3 23 4 23 4 22 5 22 5M846 2352l23 9 23 9 23 8 23 9 24 8 23 8 24 7 25 8 24 7 25 8 25 7 25 7 26 6 26 7 26 6 27 6 27 6 27 6 28 5 27 6 29 5 28 5M828 2526l29-8 29-8 28-7 28-6 28-5 27-4 27-4 26-3 27-3 25-2 26-1 25 0 25 0 24 1 24 1 24 3 24 2 23 4 23 3 22 5 22 5 22 5M869 2352l23 9 23 8 23 9 23 9 24 8 23 8 24 8 25 8 24 8 25 7 25 8 25 7 26 7 26 7 26 6 27 7 26 6 28 6 27 6 28 6 28 5 28 5M856 2526l29-9 29-7 28-6 28-6 28-5 27-4 27-4 27-3 26-2 26-1 25-1 25 0 25 0 24 2 24 1 24 3 24 3 23 4 22 4 23 5 22 5 22 6M892 2351l23 10 23 9 23 9 23 8 23 9 24 9 24 8 24 8 25 8 25 8 25 7 25 8 25 7 26 7 26 7 27 7 27 6 27 7 27 6 28 6 28 6 28 5M885 2524l29-7 29-7 28-7 28-5 28-5 27-4 27-3 26-2 27-2 25-1 26-1 25 1 24 1 25 1 24 2 24 3 23 3 23 4 23 5 22 5 22 6 22 6M915 2352l22 9 23 9 23 10 23 9 24 9 24 8 23 9 25 8 24 9 25 8 25 8 25 7 26 8 25 7 27 7 26 7 27 7 27 7 27 6 28 7 28 6 28 6M914 2523l29-8 29-6 28-6 28-5 28-4 27-4 27-3 26-2 27-2 25 0 26 0 25 0 24 1 25 2 24 3 23 3 24 4 23 4 22 5 22 5 22 6 22 7"/>
<circle cx="91.4" cy="236.2" r="1.25" fill="#b01010"/>
<circle cx="91.4" cy="248.8" r="1.25" fill="#b01010"/>
<circle cx="147.1" cy="250.3" r="1.25" fill="#b01010"/>
<circle cx="36.1" cy="249.5" r="1.1" fill="#f4d8d8" stroke="#d08080" stroke-width="0.4"/>
<g font-size="5.1" stroke="#111" stroke-width="0.14"><text transform="matrix(1 0 0 0.99 35.39 274.42)" text-anchor="end">40</text><text transform="matrix(1 0 0 0.99 34.99 265.03)" text-anchor="end">50</text><text transform="matrix(1 0 0 0.99 34.6 255.65)" text-anchor="end">60</text><text transform="matrix(1 0 0 0.99 34.2 246.26)" text-anchor="end">70</text><text transform="matrix(1 0 0 0.99 33.8 236.88)" text-anchor="end">80</text><text transform="matrix(1 0 0 0.99 33.41 227.49)" text-anchor="end">90</text><text transform="matrix(1 0 0 0.99 33.01 218.11)" text-anchor="end">100</text><text transform="matrix(1 0 0 0.99 32.74 294.46)" text-anchor="middle" font-size="5.3">60</text><text transform="matrix(1 0 0 0.99 45.13 301.06)" text-anchor="middle" font-size="5.3">54</text><text transform="matrix(1 0 0 0.99 55.33 305.91)" text-anchor="middle" font-size="5.3">48</text><text transform="matrix(1 0 0 0.99 66.07 311.01)" text-anchor="middle" font-size="5.3">42</text><text transform="matrix(1 0 0 0.99 77.38 316.39)" text-anchor="middle" font-size="5.3">36</text><text transform="matrix(1 0 0 0.99 87.32 320.48)" text-anchor="middle" font-size="5.3">30</text><text transform="matrix(1 0 0 0.99 96.39 320.29)" text-anchor="middle" font-size="5.3">10</text><text transform="matrix(1 0 0 0.99 102.77 316.2)" text-anchor="middle" font-size="5.3">20</text><text transform="matrix(1 0 0 0.99 114.1 310.83)" text-anchor="middle" font-size="5.3">30</text><text transform="matrix(1 0 0 0.99 124.85 305.73)" text-anchor="middle" font-size="5.3">40</text><text transform="matrix(1 0 0 0.99 135.06 300.88)" text-anchor="middle" font-size="5.3">50</text><text transform="matrix(1 0 0 0.99 148.47 295.68)" text-anchor="middle" font-size="5.3">60</text></g>
<text transform="matrix(1 0 0 0.99 14.9 322.8)" font-size="5.6" textLength="64.98" lengthAdjust="spacingAndGlyphs" stroke="#111" stroke-width="0.2">B: Solvent-solid ratio (% <tspan font-style="italic">v/v</tspan>)</text>
<text transform="matrix(1 0 0 0.99 116.3 323.1)" font-size="5.6" textLength="46.3" lengthAdjust="spacingAndGlyphs" stroke="#111" stroke-width="0.2">C: Temperature (°C)</text>
<text transform="matrix(1 0 0 0.99 18.79 252.7) rotate(-90)" font-size="5.6" text-anchor="middle" stroke="#111" stroke-width="0.1"><tspan x="0" y="0" textLength="71.9" lengthAdjust="spacingAndGlyphs">DPP IV enzyme inhibitory activity</tspan><tspan x="0" y="5.0" textLength="27.47" lengthAdjust="spacingAndGlyphs">(% inhibition)</tspan></text>
<text transform="matrix(1 0 0 0.99 3.2 185.7)" font-size="10.8" font-weight="bold" stroke="#111" stroke-width="0">(j)</text></g>
<g><polygon points="234.73,291.26 286.41,270.96 338.03,291.29 286.34,317.22" fill="#686868" stroke="#444" stroke-width="0.4"/>
<path transform="scale(.1)" fill="none" stroke="#27b127" stroke-width="9.0" d="M2429 2954l-3-6-2-7-2-6-3-6-2-6-3-6-3-6-2-6-3-5-2-6"/>
<path transform="scale(.1)" fill="none" stroke="#33b625" stroke-width="9.0" d="M2515 2997l-2-6-1-5-2-6-2-7-2-7-3-6-1-5-2-6-2-5-2-7-2-6-3-6-2-6-2-6-2-5-2-5-2-6-3-5-2-6-3-6-2-6-3-5"/>
<path transform="scale(.1)" fill="none" stroke="#33b625" stroke-width="9.0" d="M3133 2815l9 6 10 5 9 5 11 6 8 5 11 6 8 4 12 6 8 5 12 6 12 6 8 4 12 7 9 5 12 6 12 6 9 4 13 7 13 6 8 5"/>
<path transform="scale(.1)" fill="none" stroke="#3fba23" stroke-width="9.0" d="M2859 2712l5 4 9 6 5 4 7 4 8 5 6 4 9 6 6 4 10 6 6 4 9 5 7 5 10 5 7 4 10 6 7 4 11 6 7 4 11 6 8 5 10 5 11 6 7 4 12 6 11 6 8 4 12 6 11 6 8 4 12 6 13 6 8 4 12 6 12 6 13 6 8 4 13 6 13 7 13 6 9 4 13 6 13 7 14 6 9 4 13 7"/>
<path transform="scale(.1)" fill="none" stroke="#3fba23" stroke-width="9.0" d="M2606 3042l-1-5-2-7-1-8-1-5-1-6-1-8-1-6-1-4-2-8-1-7-1-5-1-5-2-7-1-7-1-5-2-5-1-7-2-7-1-5-2-5-1-6-2-7-2-6-1-4-2-5-2-7-2-6-2-6-1-4-2-5-2-6-2-5-2-6-3-6-2-5"/>
<path transform="scale(.1)" fill="none" stroke="#5ac221" stroke-width="9.0" d="M2702 3091l0-5 0-8 0-6 0-7 0-7 0-6 0-8 0-5 0-8 0-5 0-8 0-5 1-7 0-6 0-6 0-7 0-6 1-6 0-6 0-7 1-5 0-7 1-5 0-7 1-5 1-6 0-5 1-6 1-6 1-6 1-6 1-4 2-7 1-5 2-5 2-7 2-5 2-5 3-6 4-5 4-6 5-5 6-5 11-6 14-5 12-1 13 0 14 0 11 2 14 2 11 3 10 2 16 4 10 3 15 4 9 3 15 5 14 5 9 3 14 5 14 5 14 5 11 4 13 5 13 5 14 5 14 6 14 5 14 5 14 6 14 6 10 3 14 6 14 6 15 6 14 6 14 5 15 6 14 6 15 6 15 6"/>
<path transform="scale(.1)" fill="none" stroke="#88ce1e" stroke-width="9.0" d="M2805 3143l1-9 2-7 1-6 2-9 2-6 2-6 2-9 2-6 2-5 3-8 3-8 3-6 3-6 3-6 4-7 4-7 4-6 5-6 6-6 8-8 8-6 7-5 12-7 14-6 11-3 12-3 14-2 15-1 14 0 13 0 12 1 15 1 14 2 13 2 13 3 13 2 14 3 17 4 12 3 12 3 18 5 11 3 18 5 11 3"/>
<path d="M234.73 291.26h0.01M286.34 317.22h0.01M244.02 295.93h0.01M297.79 311.47h0.01M253.79 300.85h0.01M308.64 306.03h0.01M264.07 306.02h0.01M318.94 300.87h0.01M274.91 311.47h0.01M328.72 295.96h0.01M286.34 317.22h0.01M338.03 291.29h0.01" stroke="#222" stroke-width="1" stroke-linecap="round"/>
<path transform="scale(.1)" fill="none" stroke="#949494" stroke-width="6.0" d="M2340 2735l524-186 523 186M2336 2640l528-177 527 177M2333 2545l531-167 531 167M2329 2449l535-157 535 158M2325 2354l539-147 539 148M2321 2259l543-138 542 139M2317 2164l547-128 546 128M2340 2735l-23-571M2864 2549l0-513M2445 2697l-18-558M2969 2586l4-524M2550 2660l-14-547M3073 2623l10-536M2655 2623l-10-536M3178 2660l14-547M2759 2586l-4-524M3283 2698l18-559M2864 2549l0-513M3387 2735l23-571"/>
<path transform="scale(.1)" fill="none" stroke="#949494" stroke-width="6.0" d="M2347 2913l-7-178-23-571M3380 2913l7-178 23-571M2864 2710l0-161"/>
<path d="M234.02 273.47h0.01M233.64 263.96h0.01M233.26 254.45h0.01M232.88 244.95h0.01M232.5 235.44h0.01M232.13 225.93h0.01M231.75 216.43h0.01" stroke="#222" stroke-width="1" stroke-linecap="round"/>
<g transform="scale(.1)"><path fill="#30db09" d="M2839 2312l25-4 25 12-25 3zM2861 2320l25-4 25 12-25 3zM2883 2337l25-4 25 12-24 3zM2906 2345l24-4 26 12-25 3zM2928 2353l25-3 26 12-25 2zM2975 2378l25-3 27 12-25 2zM2999 2386l24-3 28 12-25 2zM3023 2394l24-2 28 12-25 2zM3047 2402l24-2 28 13-24 1zM2532 2425l29-17 24 7-29 17zM2529 2443l29-17 24 6-29 17zM2547 2466l29-19 25 6-29 18zM3175 2453l23-1 31 13-24 0zM3201 2461l23 1 31 12-23-1zM2544 2485l29-20 25 6-29 19zM3227 2470l23 1 32 12-23-1zM3254 2479l23 1 32 13-23-2zM3281 2488l23 2 32 12-23-2zM2563 2507l29-19 26 5-30 19zM2559 2527l30-20 26 5-30 20zM2556 2548l30-22 26 5-30 21zM2576 2571l30-22 27 5-31 22z"/><path fill="#33db09" d="M2817 2314l25-5 25 11-25 5zM2839 2321l25-4 25 12-25 4zM2861 2329l25-4 25 12-25 3zM2883 2346l25-4 26 12-25 4zM2906 2354l25-4 26 12-25 3zM2929 2362l25-4 26 12-25 3zM2952 2370l25-3 26 11-24 3zM2536 2408l28-17 24 7-28 16zM2557 2412l29-16 24 7-29 15zM3025 2403l24-3 28 12-24 2zM3049 2411l24-3 29 12-25 2zM2554 2429l29-17 24 7-29 16zM3074 2419l24-2 29 12-25 1zM3098 2427l25-1 29 12-24 1zM2551 2447l28-17 25 6-29 17zM3124 2435l24-1 29 13-24 0zM3149 2444l24-1 30 13-24 0zM2569 2469l30-18 25 6-29 18zM2566 2488l30-19 25 6-30 18zM2583 2530l30-20 26 5-30 20zM2579 2550l31-21 26 5-30 21z"/><path fill="#2ddb09" d="M2883 2328l24-4 26 12-25 3zM2905 2336l25-3 25 12-24 2zM2951 2361l24-3 27 12-25 2zM2974 2369l24-2 27 12-24 2zM2511 2422l28-18 24 7-28 17zM3071 2411l24-2 29 13-24 1zM3096 2419l24-1 28 13-23 0zM2507 2440l29-18 24 6-29 18zM3121 2428l23-1 29 13-23 0zM2525 2462l29-18 25 6-30 18zM2540 2504l30-20 25 6-30 19zM2536 2524l30-21 26 6-30 20zM2552 2569l31-23 26 5-31 22z"/><path fill="#36de09" d="M2795 2317l26-6 24 11-25 5zM2817 2324l25-5 25 11-25 5zM2839 2331l25-4 25 11-25 4zM2861 2349l25-5 26 11-25 5zM2884 2356l25-4 26 11-25 4zM2906 2364l26-5 26 12-25 4zM2930 2371l25-4 26 12-25 3zM2953 2379l25-4 27 12-25 3zM2561 2395l28-16 24 8-28 15zM2977 2387l24-4 28 12-25 3zM3000 2395l25-3 28 11-25 3zM2582 2399l28-15 24 7-28 15zM2579 2416l28-16 25 7-29 15zM2576 2433l28-16 25 6-28 16zM2595 2455l29-17 25 6-29 17zM3153 2452l24-1 30 12-24 0zM2592 2473l29-18 26 6-30 18zM3179 2460l23-1 31 13-23 0zM3205 2469l24-1 31 13-24 0zM2589 2491l29-18 26 6-29 18zM3232 2477l23 0 32 13-23-1zM3259 2486l23 1 32 12-23-1zM2606 2533l30-20 27 5-30 20zM2603 2553l30-21 27 5-30 21zM2600 2574l31-22 27 5-31 21z"/><path fill="#39de09" d="M2773 2321l25-7 25 11-26 6zM2795 2328l25-7 25 11-26 6zM2816 2335l26-6 25 11-25 5zM2839 2342l25-6 25 11-25 5zM2585 2383l28-14 24 7-28 14zM2601 2420l28-15 25 7-28 15zM3026 2412l25-4 28 12-24 3zM3051 2419l25-3 28 12-24 3zM2598 2437l29-16 25 7-29 16zM3076 2427l24-2 30 12-25 2zM3101 2435l25-2 29 12-24 2zM3127 2444l24-2 30 12-24 1zM2612 2495l30-19 26 6-30 18zM2609 2513l30-19 26 6-30 19z"/><path fill="#2ad809" d="M2927 2344l25-3 26 13-25 2zM2950 2352l24-2 26 12-24 2zM2973 2360l24-1 26 12-24 2zM3021 2386l24-2 27 12-24 2zM3045 2394l24-1 27 12-23 1zM3069 2403l23-1 29 12-24 1zM2486 2436l28-18 24 6-29 18zM2503 2459l29-19 24 6-29 18zM3171 2445l23 1 31 12-24 0zM3197 2454l23 1 30 13-22-1zM2499 2478l30-19 24 5-29 20zM3223 2463l23 2 31 12-23-1zM3249 2473l23 1 31 13-22-2zM2517 2501l30-20 25 5-30 20zM2513 2522l30-22 25 6-29 20zM2532 2545l31-22 25 5-30 22zM2528 2566l31-22 26 5-31 22z"/><path fill="#42e106" d="M2750 2325l26-7 25 10-26 7zM2772 2332l26-7 24 10-25 7zM2794 2339l26-7 25 10-26 7zM2626 2408l28-14 25 7-28 14zM2623 2424l29-15 25 7-29 15zM2633 2517l30-19 26 6-30 18zM2630 2536l30-20 27 6-30 19z"/><path fill="#33de09" d="M2861 2339l25-5 26 12-26 4zM2573 2451l29-17 24 6-28 17zM2586 2510l30-19 25 6-29 19z"/><path fill="#48e106" d="M2727 2331l27-9 24 10-26 8zM2749 2337l26-8 25 10-26 8zM2704 2337l27-9 24 9-26 9zM2771 2344l26-8 25 10-26 7zM2657 2353l27-12 25 9-28 11zM2793 2350l26-7 25 10-26 7zM2815 2357l26-7 26 10-26 7zM2655 2367l27-12 25 8-28 12zM2838 2364l26-7 26 10-26 7zM2861 2370l26-6 26 10-26 7zM2643 2445l29-15 25 7-28 15zM2641 2462l29-16 25 7-28 16zM2638 2480l29-17 26 6-29 17zM3209 2476l24-1 32 12-24 1zM3236 2485l24-1 32 12-23 0z"/><path fill="#27d809" d="M2996 2369l24-1 27 12-24 1zM3019 2378l24-1 27 12-24 1zM3093 2411l24 0 28 13-23 0zM3118 2420l23 0 29 13-23 0zM3143 2429l23 1 29 12-23 0zM2482 2456l29-20 24 6-30 19zM2495 2498l30-20 24 5-29 20zM3276 2482l22 2 32 13-22-3zM3303 2491l22 3 32 13-22-3zM2509 2542l31-21 25 4-30 22z"/><path fill="#3fe106" d="M2816 2346l26-7 25 11-26 6zM2838 2352l26-6 26 11-26 6zM2861 2360l26-6 25 11-25 5zM2609 2372l28-13 24 7-28 13zM2884 2367l25-6 27 11-26 5zM2621 2441l28-16 25 7-28 16zM2627 2556l31-21 27 6-31 20z"/><path fill="#4be406" d="M2681 2344l27-10 24 9-27 10zM2726 2343l26-9 25 10-27 8zM2748 2349l26-8 25 9-26 9zM2679 2358l27-11 24 9-27 11zM2907 2384l26-5 27 10-26 6zM2651 2397l27-13 25 7-28 13zM2931 2391l26-5 27 11-26 5zM2955 2399l25-5 28 11-25 4zM2648 2413l28-15 25 8-28 14zM2979 2406l25-5 28 11-25 5zM3004 2413l25-4 28 11-25 4zM3028 2421l25-4 29 11-25 4zM3053 2428l25-3 29 11-25 3zM3079 2436l24-3 30 12-25 2zM3104 2444l25-3 30 12-25 2zM3130 2452l24-2 31 11-25 2zM3156 2460l24-2 31 12-24 1zM2649 2579l31-21 28 5-31 21z"/><path fill="#4ee406" d="M2703 2350l26-10 25 9-27 10zM2770 2356l26-9 25 10-26 8zM2724 2356l27-10 25 10-27 9zM2701 2364l27-11 25 9-27 10zM2792 2362l27-8 25 10-26 8zM2677 2372l27-11 25 8-27 11zM2675 2387l27-13 25 9-27 12zM2654 2539l30-19 28 5-30 19zM2652 2558l30-20 28 6-31 20z"/><path fill="#24d80c" d="M3043 2386l23 0 28 12-24 1zM3066 2395l24 0 28 13-24 0zM2460 2452l29-19 24 6-29 19zM3168 2438l23 1 29 13-22-1zM3193 2447l23 2 30 13-23-2zM2491 2519l30-22 25 6-30 21zM2505 2564l31-23 25 5-30 22z"/><path fill="#2dd809" d="M2997 2377l24-2 28 13-24 1zM3146 2436l23 0 30 13-23 0zM2521 2481l30-19 24 6-29 19z"/><path fill="#45e106" d="M2633 2362l28-12 24 8-27 12zM2631 2377l28-13 24 8-28 12zM2628 2392l28-14 25 8-28 14zM2636 2498l29-18 26 6-29 18z"/><path fill="#51e406" d="M2747 2362l26-9 25 9-26 9zM2815 2368l26-7 26 10-26 7zM2699 2378l27-12 25 9-27 11zM2838 2375l26-7 26 10-26 7zM2673 2402l28-13 25 8-28 12zM2671 2417l28-14 25 8-28 13zM2668 2433l29-14 25 7-28 14zM2666 2449l29-15 26 7-29 15zM2664 2466l29-16 26 7-29 16zM2662 2484l29-17 26 6-29 17zM2659 2501l30-17 26 6-29 17zM2657 2520l30-19 27 6-30 19z"/><path fill="#24d50c" d="M3091 2404l23 0 28 13-23 0zM2456 2472l29-20 24 5-29 20zM3219 2457l22 1 31 14-23-3zM2473 2495l30-20 24 5-30 20zM2487 2540l30-22 25 5-30 22z"/><path fill="#3fde06" d="M2907 2374l25-5 27 11-25 5zM2607 2387l27-14 25 8-28 14zM2618 2458l29-16 25 6-29 17z"/><path fill="#54e406" d="M2723 2369l27-10 25 9-27 10zM2769 2368l26-9 26 10-27 8zM2861 2382l26-7 26 10-26 6zM2697 2392l28-12 25 8-28 12zM2884 2388l26-6 27 10-26 6z"/><path fill="#21d50c" d="M3115 2413l23 1 28 13-22-1zM3139 2422l23 1 29 13-23-1zM2435 2469l29-20 23 5-29 20zM3245 2466l22 2 31 13-22-2zM2451 2493l30-22 24 6-30 20zM3271 2476l22 2 31 14-22-4zM3297 2485l22 4 32 13-22-4zM2469 2516l30-22 24 6-30 21zM2482 2562l31-23 25 4-30 23z"/><path fill="#3cde06" d="M2930 2381l26-5 26 12-25 4zM2954 2389l25-5 27 12-25 4zM2604 2403l28-14 24 7-28 15zM2978 2396l25-4 27 12-25 3zM3002 2404l25-4 28 12-25 3zM2615 2476l29-17 26 6-29 17zM2624 2576l31-21 28 5-31 21z"/><path fill="#4be106" d="M2653 2382l27-13 25 8-28 12zM2884 2377l26-6 26 11-25 6zM2646 2429l28-15 25 7-28 15zM3183 2468l24-1 31 12-24 1z"/><path fill="#57e706" d="M2745 2375l27-10 26 9-27 10zM2792 2374l26-8 26 9-27 8zM2721 2383l28-11 25 9-27 10zM2814 2380l27-8 26 10-27 8zM2908 2395l26-6 27 10-26 6zM2695 2407l28-13 26 8-28 12zM2932 2402l26-6 27 11-26 5zM2956 2409l26-6 28 11-26 5zM2693 2422l28-14 26 8-28 13z"/><path fill="#5ae706" d="M2768 2381l27-10 25 9-26 10zM2744 2389l27-11 26 9-27 10zM2837 2387l27-8 26 10-26 7zM2720 2397l27-12 26 9-28 11zM2980 2416l26-5 28 11-25 4zM3005 2423l26-5 28 11-25 5zM2692 2437l28-14 26 8-29 14zM3030 2430l26-4 28 11-25 4zM2690 2454l28-15 26 7-28 14zM2677 2561l30-19 28 5-30 20zM2674 2581l31-20 28 5-31 20z"/><path fill="#1ed50c" d="M3164 2432l23 1 29 13-22-2zM3189 2441l23 2 29 13-22-2zM3215 2450l22 3 30 13-22-3zM2430 2490l29-22 24 6-29 21zM2447 2514l30-22 24 5-30 21zM3324 2495l22 4 32 13-21-4zM2464 2538l30-23 25 5-30 22zM2460 2560l30-24 25 5-30 23z"/><path fill="#5de706" d="M2791 2387l27-10 25 10-26 9zM2861 2393l26-8 27 10-26 8zM2718 2412l28-13 26 8-28 12zM3056 2438l25-4 29 11-25 4zM3081 2445l25-3 30 11-25 3zM3107 2453l25-3 30 11-25 3zM2688 2470l28-15 27 6-29 16zM3133 2461l25-3 31 11-25 3zM2685 2487l30-16 26 6-29 17zM2683 2505l30-17 27 6-30 17zM2681 2523l30-18 27 6-30 18zM2679 2542l30-19 28 6-31 18z"/><path fill="#60e706" d="M2767 2394l27-10 26 9-27 10zM2814 2393l27-9 26 9-27 9zM2743 2402l27-11 26 9-28 11zM2885 2400l26-8 27 10-26 7zM2908 2406l27-7 27 10-26 7zM2716 2427l28-14 27 8-28 13zM3160 2468l24-2 31 11-24 3zM3187 2476l24-2 31 12-24 2zM3214 2484l24-1 32 11-24 2z"/><path fill="#63ea06" d="M2790 2400l27-10 26 9-27 10zM2837 2399l27-9 27 10-27 8zM2766 2408l27-11 26 8-27 11zM2741 2417l28-12 26 8-28 12zM2933 2413l26-7 27 10-26 7zM2713 2458l29-15 26 8-28 14z"/><path fill="#1bd20c" d="M3240 2460l22 3 31 13-22-3zM2409 2487l29-22 24 5-30 22zM3266 2470l22 3 31 13-22-3zM2425 2511l30-22 24 5-30 22zM2442 2535l30-23 25 5-30 23z"/><path fill="#66ea06" d="M2861 2405l26-8 27 9-26 8zM2813 2406l27-10 27 9-27 9zM2957 2420l26-7 28 11-26 6zM2740 2431l28-12 26 8-28 12zM2982 2426l26-5 28 10-26 6zM2711 2474l29-15 27 7-29 15zM2710 2491l29-16 27 7-29 16z"/><path fill="#12cf0f" d="M2383 2506l29-23 24 5-30 23zM2394 2553l30-24 24 4-30 24z"/><path fill="#69ea06" d="M2789 2413l27-10 27 8-27 11zM2885 2411l26-8 28 10-27 8zM2765 2422l27-12 27 8-28 12zM3007 2433l26-5 28 10-25 6zM2738 2447l29-14 26 8-28 13zM2708 2509l29-17 28 6-30 17zM2706 2527l30-18 27 6-30 17zM2704 2545l30-19 28 6-30 19zM2702 2564l30-19 29 5-31 20zM2700 2584l31-20 28 5-31 20z"/><path fill="#6cea06" d="M2837 2411l27-9 27 9-27 9zM2909 2418l26-8 28 10-26 7zM3032 2440l26-5 29 11-25 5zM3058 2448l25-5 30 11-25 4zM2737 2462l28-14 27 7-28 14z"/><path fill="#18d20c" d="M3292 2480l22 3 31 14-21-4zM2404 2509l30-23 23 5-30 22zM3319 2490l21 4 32 13-21-4zM2420 2533l30-23 24 4-30 23zM2437 2557l31-23 24 4-30 23z"/><path fill="#27d80c" d="M2477 2475l30-20 24 6-30 19z"/><path fill="#0ccf0f" d="M2356 2526l30-24 24 5-30 23zM2372 2551l30-24 24 4-30 24z"/><path fill="#6fed03" d="M2813 2419l27-11 27 9-27 10zM2861 2417l27-9 27 10-27 8zM2788 2427l28-11 27 8-28 11zM2933 2424l27-7 28 10-27 7zM3084 2455l25-5 30 11-25 4zM3110 2462l25-4 31 11-25 4zM2735 2478l29-15 27 8-28 14z"/><path fill="#06c91b" d="M2330 2547l30-25 23 4-30 25z"/><path fill="#0fcf0f" d="M2377 2528l30-23 24 4-30 23z"/><path fill="#72ed03" d="M2837 2424l27-10 27 9-27 10zM2885 2423l27-8 27 9-26 9zM2958 2431l26-7 29 10-26 6zM2762 2451l28-13 27 8-28 13zM3137 2470l25-4 30 11-24 3zM3163 2477l25-3 32 11-25 3zM2734 2495l29-16 28 7-30 16zM2732 2512l30-16 28 6-30 17z"/><path fill="#15d20c" d="M3345 2500l22 5 32 13-21-5zM2415 2555l31-24 24 5-30 23z"/><path fill="#09cc0f" d="M2351 2549l30-25 23 4-30 25z"/><path fill="#60ea06" d="M2715 2442l28-14 26 8-28 13z"/><path fill="#15cf0c" d="M2399 2531l30-24 24 5-30 23z"/><path fill="#6ced03" d="M2763 2436l28-12 27 8-28 12z"/><path fill="#75ed03" d="M2812 2432l28-11 27 9-28 11zM2787 2441l28-12 27 8-28 12zM2983 2437l26-6 29 10-26 6zM2761 2467l29-14 27 7-29 14zM3191 2485l24-3 32 12-24 2zM2731 2530l30-17 28 6-30 17z"/><path fill="#78ed03" d="M2909 2429l27-8 28 10-27 8zM2861 2430l27-10 27 9-27 10zM3009 2444l26-6 29 10-26 6zM2729 2548l30-18 29 6-31 18zM2727 2567l31-19 28 6-30 19z"/><path fill="#7bf003" d="M2836 2438l28-11 27 9-27 10zM2934 2436l27-8 28 9-26 8zM2811 2446l28-11 28 8-28 11zM3034 2451l26-6 30 10-26 6zM2759 2499l29-15 28 7-30 15z"/><path fill="#7ef003" d="M2885 2436l27-9 28 9-27 9zM2959 2442l27-8 29 10-27 7zM3060 2458l26-6 30 11-26 5zM2786 2471l28-13 28 7-29 14zM2757 2516l30-16 28 6-30 16z"/><path fill="#81f003" d="M2861 2443l27-10 28 9-27 10zM2910 2442l27-9 28 9-27 9zM2836 2452l28-12 28 9-28 11zM2985 2448l26-7 29 10-26 7zM2811 2461l28-13 28 8-28 13zM3086 2465l26-5 31 10-26 5zM3113 2472l26-5 30 11-25 4zM2785 2487l28-14 28 7-29 14zM2756 2534l30-18 28 7-30 17z"/><path fill="#78f003" d="M2786 2456l29-13 27 8-28 13zM2760 2483l29-15 27 7-29 15zM2726 2587l30-20 29 5-30 20z"/><path fill="#87f303" d="M2886 2449l27-10 28 9-27 9zM2935 2448l27-9 29 10-27 8zM3010 2455l27-7 29 10-26 7zM2861 2457l27-11 29 8-28 11zM2836 2466l28-12 28 8-28 12zM2810 2476l29-13 28 7-29 13zM3167 2486l25-3 32 11-25 3zM2784 2503l29-15 28 7-29 15zM2753 2570l31-19 29 6-31 19zM2752 2590l31-20 29 5-31 20z"/><path fill="#8af303" d="M2960 2454l27-8 29 9-26 8zM3036 2461l27-6 29 10-26 6zM2783 2520l29-16 29 7-30 15z"/><path fill="#8df303" d="M2911 2454l27-9 28 9-27 9zM3063 2468l26-6 30 10-26 6zM2810 2491l28-14 29 8-29 13zM2782 2537l29-17 29 7-30 16z"/><path fill="#90f303" d="M2886 2462l27-11 29 9-28 10zM2835 2481l29-13 28 7-28 13z"/><path fill="#90f603" d="M2986 2460l27-8 29 10-26 7zM2936 2460l27-9 29 9-27 9zM2861 2471l28-12 28 8-28 12zM3089 2475l26-6 31 11-26 5zM2809 2507l29-15 29 8-29 14zM2781 2555l30-18 29 7-30 17z"/><path fill="#93f603" d="M3012 2466l27-7 30 9-27 8zM3116 2482l26-5 31 10-26 5zM2780 2573l30-18 29 6-30 18z"/><path fill="#96f603" d="M2911 2468l28-11 29 9-28 10zM2962 2466l27-9 29 9-27 9zM2886 2476l28-12 29 9-28 11zM2861 2485l28-12 29 8-29 12zM2835 2496l29-14 28 8-28 13zM2808 2524l30-16 29 7-30 15zM2778 2592l31-19 30 6-31 19z"/><path fill="#84f303" d="M3140 2479l25-4 32 11-26 4zM2755 2552l30-18 28 6-30 17z"/><path fill="#99f603" d="M3038 2473l27-8 30 10-26 7zM3143 2489l26-5 32 11-26 4zM2808 2541l29-17 29 7-29 16z"/><path fill="#9cf903" d="M2937 2473l27-10 30 9-28 10zM2988 2472l27-9 29 10-27 8zM3065 2479l26-7 31 10-26 7zM2835 2512l29-15 29 7-29 14z"/><path fill="#9ff900" d="M2912 2481l28-11 29 8-28 11zM2886 2490l29-12 29 8-29 12zM2861 2500l28-13 29 8-28 13z"/><path fill="#a2f900" d="M3014 2478l27-8 30 9-27 8zM2963 2479l27-10 30 9-27 9zM3092 2486l26-7 31 10-26 6zM2834 2528l30-16 29 7-29 15zM2806 2577l31-19 29 6-30 18z"/><path fill="#a5fc00" d="M2938 2486l28-10 29 8-28 11zM2834 2545l30-17 29 7-30 16z"/><path fill="#a8fc00" d="M3041 2484l26-8 31 10-27 7zM2989 2484l28-9 30 9-28 9zM2912 2495l29-12 29 8-28 12zM2887 2505l28-13 30 8-29 12z"/><path fill="#a5f900" d="M3119 2492l26-6 32 10-26 6zM2861 2516l29-14 29 7-29 14zM2805 2595l31-19 30 6-30 19z"/><path fill="#aefc00" d="M3068 2490l26-7 31 10-26 7zM2964 2492l28-11 30 9-28 10zM3016 2490l27-9 31 9-28 9z"/><path fill="#b1fc00" d="M2939 2500l28-11 30 8-28 11zM2913 2510l29-13 29 8-28 12zM2887 2520l29-14 30 8-29 13zM2833 2580l30-18 31 6-31 18z"/><path fill="#b1ff00" d="M3095 2497l27-7 31 9-26 7zM2861 2548l29-15 30 6-29 16z"/><path fill="#b4ff00" d="M2991 2497l27-10 31 9-28 10zM2833 2598l30-18 31 5-31 19z"/><path fill="#b7ff00" d="M3043 2496l27-9 31 10-27 8zM2887 2536l29-15 31 8-30 14zM2860 2565l30-16 31 6-30 17z"/><path fill="#baff00" d="M2965 2505l28-11 31 8-28 11zM3070 2502l27-8 32 9-27 8zM3018 2503l27-10 31 9-27 9zM2940 2514l28-12 30 8-28 12zM2914 2525l28-14 31 8-29 13z"/><path fill="#bdff00" d="M2992 2510l28-10 31 8-28 11zM2888 2552l29-15 31 7-30 15zM2860 2583l31-17 31 6-31 17z"/><path fill="#c0fc00" d="M3045 2508l28-9 31 9-27 9zM2967 2519l28-12 31 8-29 12zM2941 2529l28-13 31 8-29 12zM2888 2569l30-16 31 6-30 16z"/><path fill="#abfc00" d="M2861 2532l29-15 30 7-30 15zM2834 2562l30-17 29 6-30 17z"/><path fill="#c3fc00" d="M3020 2516l28-11 31 9-28 10z"/><path fill="#c6fc00" d="M2994 2524l28-11 32 8-29 11zM2968 2534l29-13 31 8-29 12zM2942 2544l29-13 31 7-29 13zM2915 2556l29-15 31 7-29 15z"/><path fill="#9ff903" d="M2807 2558l30-17 29 6-30 17z"/><path fill="#c0ff00" d="M2914 2540l29-14 31 7-29 14z"/></g>
<path transform="scale(.1)" fill="none" stroke="#000" stroke-opacity="0.32" stroke-width="4.0" d="M2333 2546l21 2 21 2 21 2 22 2 22 2 23 3 22 2 23 2 23 2 24 3 24 2 24 3 24 2 25 3 25 3 26 2 26 3 26 3 26 3 27 3 28 3 27 3M2333 2546l26-21 27-20 26-19 26-18 25-16 26-16 25-15 25-14 25-13 24-12 24-10 24-10 24-9 24-9 23-7 23-6 23-6 23-4 22-4 22-3 22-2 22-1M2359 2525l21 2 22 3 21 2 22 2 22 3 23 2 22 3 23 2 24 3 23 2 24 3 24 3 25 3 25 3 25 3 25 3 26 3 26 3 27 3 27 3 27 4 28 3M2354 2548l26-21 27-19 26-19 26-18 26-16 25-16 25-14 25-14 25-12 25-12 24-11 24-9 24-9 24-8 23-7 23-6 23-5 23-4 22-4 22-2 22-2 22-1M2386 2505l21 3 21 2 22 3 22 2 22 3 22 3 23 2 23 3 23 3 24 3 24 3 24 3 25 3 25 3 25 4 26 3 26 3 26 4 26 3 27 4 28 4 28 3M2375 2550l27-20 26-20 26-18 26-18 26-16 26-15 25-14 25-14 25-12 24-11 25-11 24-9 24-8 23-8 24-7 23-5 23-5 22-4 23-3 22-2 22-2 22-1M2412 2486l21 3 21 3 22 3 22 2 22 3 23 3 23 3 23 4 23 3 24 3 24 3 24 4 25 3 25 3 25 4 26 4 26 3 26 4 26 4 28 4 27 4 28 4M2396 2552l27-20 27-19 26-18 26-18 26-16 26-15 25-13 25-13 25-12 24-11 25-10 24-10 24-8 24-7 23-6 23-6 23-4 23-4 22-3 22-2 22-1 22 0M2438 2468l21 3 21 3 22 3 22 4 22 3 23 3 23 3 23 4 24 3 23 4 24 3 25 4 24 4 25 4 26 3 25 4 26 4 27 4 26 5 27 4 28 4 27 4M2418 2554l27-20 27-19 26-18 26-16 26-16 26-15 25-13 25-13 25-12 25-11 24-9 24-9 24-8 24-7 23-6 23-5 23-4 23-4 22-2 23-2 21-1 22 0M2463 2452l22 3 21 3 22 3 22 4 22 3 23 4 23 4 23 3 24 4 23 4 24 4 25 4 25 4 25 4 25 4 26 4 26 4 26 5 27 4 27 5 27 5 28 4M2440 2556l27-19 27-19 26-18 26-16 26-16 26-14 26-13 25-13 25-11 24-11 25-9 24-9 24-7 24-7 23-5 23-5 23-4 23-3 22-2 22-2 22 0 22 0M2489 2436l21 3 22 4 22 3 22 4 22 4 23 4 23 4 23 4 23 4 24 4 24 4 25 4 25 5 25 4 25 4 26 5 26 5 26 4 27 5 27 5 27 5 28 5M2463 2559l27-20 26-18 27-18 26-16 26-15 26-14 25-13 25-12 25-12 25-10 25-9 24-8 24-7 23-7 24-5 23-4 23-4 22-3 23-2 22-1 22 0 21 1M2514 2421l21 4 22 4 22 4 22 4 23 4 22 4 23 4 24 4 23 4 24 5 24 4 24 5 25 5 25 4 26 5 25 5 26 5 27 5 26 5 27 5 28 6 28 5M2485 2561l27-19 27-19 27-17 26-16 26-14 26-14 25-13 25-12 25-11 25-10 25-8 24-8 24-7 23-6 24-5 23-4 23-4 23-2 22-2 22 0 22 0 21 1M2539 2407l21 4 22 4 22 5 22 4 23 4 22 5 23 4 24 5 23 4 24 5 24 5 25 5 25 5 25 5 25 5 26 5 26 5 26 6 27 5 27 6 27 5 28 6M2508 2563l27-19 27-18 27-16 26-16 26-15 26-13 26-13 25-11 25-11 25-9 24-9 24-7 24-7 24-6 23-5 23-3 23-3 23-3 22-1 22 0 22 0 22 1M2564 2394l21 5 22 4 22 5 22 4 23 5 22 4 23 5 24 5 23 5 24 5 24 5 25 5 25 6 25 5 25 5 26 6 26 6 26 5 27 6 27 6 27 6 28 6M2531 2565l28-18 26-18 27-16 27-16 26-14 25-13 26-13 25-11 25-10 25-9 25-8 24-8 24-6 24-5 23-5 23-3 23-3 22-2 23-1 22 0 22 1 21 2M2588 2382l22 5 21 5 22 5 23 4 22 5 23 5 23 5 24 6 23 5 24 5 24 6 25 5 25 6 25 5 25 6 26 6 26 6 26 6 27 6 27 6 27 7 28 6M2555 2568l27-19 27-17 27-16 26-15 26-14 26-13 26-12 25-11 25-10 25-9 25-8 24-7 24-6 23-5 24-4 23-3 23-2 22-2 23-1 22 1 21 1 22 2M2612 2372l22 4 22 5 22 6 22 5 23 5 23 5 23 6 23 5 24 6 24 5 24 6 24 6 25 6 25 6 25 6 26 6 26 6 26 7 27 6 27 7 27 6 28 7M2579 2570l27-18 27-17 27-16 26-15 26-13 26-13 26-12 25-10 25-10 25-8 25-8 24-7 24-5 24-5 23-4 23-3 23-2 22-1 23 0 22 0 21 2 22 2M2636 2362l22 5 22 5 22 5 22 6 23 5 23 6 23 6 23 6 24 5 24 6 24 6 24 7 25 6 25 6 26 6 25 7 26 7 27 6 26 7 27 7 27 7 28 7M2603 2573l27-18 27-17 27-15 27-15 26-13 26-13 25-11 26-10 25-10 25-8 24-7 24-6 24-6 24-4 23-4 24-2 22-2 23-1 22 0 22 1 22 2 21 2M2660 2353l22 5 22 6 22 5 22 6 23 6 23 6 23 6 23 6 24 6 24 6 24 7 24 6 25 7 25 6 26 7 25 7 26 7 26 7 27 7 27 7 27 8 28 7M2627 2575l28-17 27-17 27-15 26-14 27-13 26-12 25-11 26-10 25-9 25-8 24-7 24-6 24-5 24-4 23-4 23-2 23-1 22-1 23 1 22 1 21 2 22 3M2684 2344l22 6 21 6 23 6 22 6 23 6 22 6 23 7 24 6 24 7 23 6 25 7 24 7 25 7 25 7 25 7 26 7 26 7 26 8 27 7 26 8 28 7 27 8M2652 2578l28-17 27-17 27-15 26-13 27-13 26-12 25-11 26-9 25-9 25-8 24-6 24-6 24-5 24-3 23-3 23-2 23-1 22 0 23 0 21 2 22 2 21 3M2707 2337l22 6 22 6 22 7 22 6 23 7 23 6 23 7 23 6 24 7 24 7 24 7 24 7 25 7 25 8 25 7 26 8 26 7 26 8 27 8 27 8 27 8 27 8M2677 2581l28-17 27-16 27-15 27-14 26-12 26-12 26-10 25-9 25-9 25-7 24-6 25-6 24-4 23-3 23-3 24-1 22-1 23 0 22 1 22 2 21 3 21 3M2730 2331l22 6 22 7 22 6 22 7 23 7 23 7 23 7 23 7 24 7 24 7 24 7 25 8 24 7 25 8 26 8 25 7 26 8 26 8 27 9 26 8 27 8 28 9M2703 2583l27-16 28-16 27-14 26-14 27-12 26-11 25-10 26-9 25-8 25-7 24-6 24-5 24-4 24-3 23-2 23-2 23 0 22 1 22 1 22 2 21 3 22 4M2753 2325l22 7 22 7 22 7 22 7 23 7 23 7 23 7 23 8 24 7 24 8 24 7 24 8 25 8 25 8 25 8 26 8 26 8 26 9 26 8 27 9 27 9 27 9M2729 2586l27-16 28-16 27-14 26-13 27-12 26-10 25-10 26-9 25-7 25-7 24-6 24-4 24-4 24-3 23-2 23-1 23 0 22 1 22 2 22 3 21 3 21 4M2776 2321l22 7 21 7 23 7 22 7 23 8 22 7 24 8 23 7 23 8 24 8 24 8 25 8 24 8 25 9 26 8 25 9 26 8 26 9 26 9 27 9 27 9 27 9M2755 2589l27-16 28-15 27-14 27-13 26-11 26-11 26-9 25-8 25-8 25-6 24-5 25-5 23-3 24-2 23-2 23-1 23 1 22 1 22 2 22 3 21 4 21 4M2798 2317l22 7 22 8 22 7 22 8 23 8 23 7 23 8 23 8 24 8 24 8 24 9 24 8 25 9 25 8 25 9 25 9 26 9 26 9 26 9 27 10 27 9 27 10M2781 2592l28-16 27-15 27-13 27-12 27-12 26-10 25-9 26-8 25-7 25-6 24-5 24-4 24-3 24-2 23-1 23 0 22 0 22 2 22 2 22 4 21 4 21 4M2820 2314l22 8 22 8 22 7 23 8 22 8 23 8 23 9 23 8 24 8 24 9 24 8 24 9 25 9 24 9 26 9 25 9 26 10 26 9 26 10 26 9 27 10 27 10M2808 2595l28-16 27-14 28-13 26-12 27-11 26-10 25-9 26-7 25-7 25-6 24-4 24-4 24-3 23-1 24-1 22 0 23 1 22 2 22 3 21 3 22 5 20 5M2842 2312l22 8 22 8 22 8 22 8 23 9 23 8 23 9 23 8 24 9 23 9 24 9 25 9 24 9 25 9 25 10 25 9 26 10 26 10 26 10 27 10 26 10 27 10M2836 2598l27-15 28-14 27-13 27-12 26-10 26-10 26-8 25-8 25-6 25-5 24-5 24-3 24-2 24-2 23 0 22 0 23 2 22 2 22 3 21 4 21 5 21 5M2864 2311l22 8 22 8 22 9 22 8 23 9 22 9 23 9 24 8 23 10 24 9 24 9 24 9 25 10 24 9 25 10 26 10 25 10 26 10 26 10 26 11 27 10 27 11M2863 2601l28-15 28-14 27-12 26-12 27-10 26-9 26-8 25-7 25-6 25-5 24-4 24-3 24-2 23-1 23 0 23 1 22 2 22 2 22 4 21 4 21 5 21 6"/>
<circle cx="233.3" cy="254.5" r="1.25" fill="#b01010"/>
<circle cx="286.6" cy="230.3" r="1.25" fill="#b01010"/>
<circle cx="286.6" cy="236.4" r="1.25" fill="#b01010"/>
<circle cx="286.6" cy="259.7" r="1.25" fill="#b01010"/>
<circle cx="339.8" cy="251.8" r="1.1" fill="#f4d8d8" stroke="#d08080" stroke-width="0.4"/>
<g font-size="5.1" stroke="#111" stroke-width="0.14"><text transform="matrix(0.95 0 0 1 232.69 274.87)" text-anchor="end">40</text><text transform="matrix(0.95 0 0 1 232.31 265.36)" text-anchor="end">50</text><text transform="matrix(0.95 0 0 1 231.93 255.86)" text-anchor="end">60</text><text transform="matrix(0.95 0 0 1 231.55 246.35)" text-anchor="end">70</text><text transform="matrix(0.95 0 0 1 231.17 236.85)" text-anchor="end">80</text><text transform="matrix(0.95 0 0 1 230.79 227.34)" text-anchor="end">90</text><text transform="matrix(0.95 0 0 1 230.41 217.83)" text-anchor="end">100</text><text transform="matrix(0.95 0 0 1 230.15 295.17)" text-anchor="middle" font-size="5.3">60</text><text transform="matrix(0.95 0 0 1 242.02 301.85)" text-anchor="middle" font-size="5.3">54</text><text transform="matrix(0.95 0 0 1 251.79 306.76)" text-anchor="middle" font-size="5.3">48</text><text transform="matrix(0.95 0 0 1 262.07 311.93)" text-anchor="middle" font-size="5.3">42</text><text transform="matrix(0.95 0 0 1 272.9 317.38)" text-anchor="middle" font-size="5.3">36</text><text transform="matrix(0.95 0 0 1 282.43 321.53)" text-anchor="middle" font-size="5.3">30</text><text transform="matrix(0.95 0 0 1 291.11 321.33)" text-anchor="middle" font-size="5.3">30</text><text transform="matrix(0.95 0 0 1 297.22 317.19)" text-anchor="middle" font-size="5.3">36</text><text transform="matrix(0.95 0 0 1 308.07 311.75)" text-anchor="middle" font-size="5.3">42</text><text transform="matrix(0.95 0 0 1 318.37 306.58)" text-anchor="middle" font-size="5.3">48</text><text transform="matrix(0.95 0 0 1 328.15 301.68)" text-anchor="middle" font-size="5.3">54</text><text transform="matrix(0.95 0 0 1 340.99 296.41)" text-anchor="middle" font-size="5.3">60</text></g>
<text transform="matrix(0.95 0 0 1 212.3 323.1)" font-size="5.6" textLength="66.38" lengthAdjust="spacingAndGlyphs" stroke="#111" stroke-width="0.2">B: Solvent-solid ratio (% <tspan font-style="italic">v/v</tspan>)</text>
<text transform="matrix(0.95 0 0 1 308.2 322.8)" font-size="5.6" textLength="39.64" lengthAdjust="spacingAndGlyphs" stroke="#111" stroke-width="0.2">D: Time (minute)</text>
<text transform="matrix(0.95 0 0 1 215.83 253.5) rotate(-90)" font-size="5.6" text-anchor="middle" stroke="#111" stroke-width="0.1"><tspan x="0" y="0" textLength="69.49" lengthAdjust="spacingAndGlyphs">DPP IV enzyme inhibitory activity</tspan><tspan x="0" y="5.0" textLength="27.12" lengthAdjust="spacingAndGlyphs">(% inhibition)</tspan></text>
<text transform="matrix(0.95 0 0 1 202.7 185.7)" font-size="10.8" font-weight="bold" stroke="#111" stroke-width="0">(k)</text></g>
<g><polygon points="425.22,292.28 476.5,271.27 527.72,292.31 476.43,319.14" fill="#686868" stroke="#444" stroke-width="0.4"/>
<path transform="scale(.1)" fill="none" stroke="#1d869b" stroke-width="9.0" d="M4309 2952l3-7 3-5 3-5 4-7 3-7 2-4 3-7 3-6 2-5 3-6 3-7"/>
<path transform="scale(.1)" fill="none" stroke="#1da266" stroke-width="9.0" d="M4372 2985l4-7 4-6 3-5 3-6 4-7 4-7 3-5 3-5 4-7 3-7 3-5 3-5 3-7 3-6 3-5 3-6 3-7 2-4 2-6 3-6 3-5 2-5 2-7 2-5"/>
<path transform="scale(.1)" fill="none" stroke="#1da266" stroke-width="9.0" d="M5265 2918l2 2 2 3 1 1 2 2"/>
<path transform="scale(.1)" fill="none" stroke="#25b027" stroke-width="9.0" d="M4443 3023l5-6 4-6 4-6 5-6 4-7 5-6 4-7 5-7 5-6 4-7 4-5 3-5 4-6 4-7 4-6 4-7 4-6 3-5 3-5 4-6 4-7 4-6 2-5 3-5 3-6 4-6 3-6 2-5 3-5 3-6 3-6 2-4 2-6 3-6 2-5 1-5 3-6 2-5 1-4 2-7"/>
<path transform="scale(.1)" fill="none" stroke="#25b027" stroke-width="9.0" d="M5103 2852l4 5 4 5 5 5 5 6 5 6 5 6 5 6 5 5 5 6 6 6 5 6 6 6 5 6 6 6 5 6 6 6 6 6 6 6 6 6"/>
<path transform="scale(.1)" fill="none" stroke="#3cb923" stroke-width="9.0" d="M4527 3067l6-7 6-6 7-8 8-7 6-7 6-6 6-6 6-7 6-6 6-6 8-7 7-8 6-5 5-6 6-6 6-6 8-7 7-7 6-5 6-6 6-5 8-8 7-6 6-5 6-5 9-8 6-4 6-5 10-8 6-4 11-7 7-5 11-6 11-6 13-5 14-5 11-2 13-2 14 0 12 1 13 2 12 3 12 3 11 5 13 5 11 6 9 4 12 7 10 6 8 5 11 7 8 4 10 7 8 5 7 5 10 7 7 5 11 8 7 5 7 5 11 8 7 5 7 6 10 8 8 5 7 6 10 8 8 5 7 6"/>
<path transform="scale(.1)" fill="none" stroke="#7ccb1f" stroke-width="9.0" d="M4629 3121l12-9 9-5 12-9 9-5 13-7 13-8 14-7 14-7 15-6 14-6 12-4 14-4 16-4 13-2 14-2 13-1 11-1 17 0 12 1 12 1 14 2 14 2 15 4 16 4 11 3 17 6 11 4 16 6"/>
<path d="M425.22 292.28h0.01M476.43 319.14h0.01M434.44 297.12h0.01M487.79 313.2h0.01M444.13 302.2h0.01M498.56 307.57h0.01M454.33 307.55h0.01M508.78 302.22h0.01M465.08 313.19h0.01M518.49 297.14h0.01M476.43 319.14h0.01M527.72 292.31h0.01" stroke="#222" stroke-width="1" stroke-linecap="round"/>
<path transform="scale(.1)" fill="none" stroke="#949494" stroke-width="6.0" d="M4245 2739l520-193 519 193M4241 2640l524-182 523 183M4238 2542l527-173 527 173M4234 2444l531-163 531 163M4230 2345l535-152 534 152M4226 2247l539-143 538 143M4223 2148l542-132 542 133M4245 2739l-22-591M4765 2546l0-530M4349 2700l-18-578M4869 2585l4-543M4453 2662l-13-567M4973 2623l9-554M4557 2623l-9-554M5077 2662l13-567M4661 2585l-4-543M5180 2700l18-578M4765 2546l0-530M5284 2739l23-590"/>
<path transform="scale(.1)" fill="none" stroke="#949494" stroke-width="6.0" d="M4252 2923l-7-184-22-591M5277 2923l7-184 23-590M4765 2713l0-167"/>
<path d="M424.51 273.87h0.01M424.14 264.03h0.01M423.76 254.19h0.01M423.39 244.35h0.01M423.01 234.52h0.01M422.63 224.68h0.01M422.26 214.84h0.01" stroke="#222" stroke-width="1" stroke-linecap="round"/>
<g transform="scale(.1)"><path fill="#24d50c" d="M4740 2326l25-12 24 9-24 11zM4762 2331l24-11 25 9-24 10zM4740 2339l25-11 25 8-25 11zM4784 2336l24-10 25 10-24 9zM4762 2344l25-11 25 9-25 10zM4806 2342l24-9 25 11-24 8zM4740 2353l25-12 25 8-25 11zM4828 2349l24-9 26 12-25 7zM4718 2362l25-13 25 8-25 12zM4850 2356l24-8 26 12-24 7zM4873 2364l24-7 26 12-24 6zM4717 2375l26-12 25 7-26 12zM4897 2384l24-6 27 13-24 6zM4694 2398l26-13 25 6-26 12zM4946 2414l24-4 28 14-24 4zM4972 2436l25-4 28 15-24 2zM4621 2458l27-16 26 3-28 15zM4594 2483l28-16 26 2-28 16zM5025 2468l24-2 29 16-24 1zM4567 2510l29-18 25 1-28 17zM5080 2501l24 1 30 17-23-1zM4539 2537l29-19 26 0-29 18z"/><path fill="#21d50c" d="M4719 2335l25-12 24 7-25 12zM4697 2345l25-13 24 7-25 12zM4718 2349l25-13 25 8-25 11zM4696 2358l25-13 25 7-25 13zM4695 2372l26-13 25 6-26 13zM4673 2382l26-14 24 6-25 14zM4896 2372l24-6 26 13-24 5zM4919 2381l24-5 26 13-24 5zM4695 2385l25-13 25 6-25 13zM4672 2396l26-14 25 5-26 14zM4920 2393l25-5 26 13-24 5zM4944 2402l24-4 27 14-24 4zM4671 2409l26-14 25 5-26 13zM4648 2420l26-15 25 5-26 14zM4970 2424l24-3 28 14-24 3zM4646 2433l27-15 25 4-27 15zM4622 2445l27-16 26 4-28 15zM4997 2446l24-3 29 16-24 1zM4596 2471l28-17 25 3-27 16zM5022 2457l24-2 29 16-24 1zM4570 2497l28-17 25 1-28 17zM5051 2479l24-1 29 17-24 0zM4542 2524l29-18 25 0-29 18zM5107 2514l23 1 31 18-24-2zM4513 2552l29-19 26-1-30 19zM4483 2581l30-20 26-3-30 20z"/><path fill="#1ed50c" d="M4675 2356l25-14 24 6-25 13zM4674 2369l25-14 25 6-26 13zM4651 2380l26-14 24 5-25 14zM4650 2394l26-15 25 5-26 14zM4942 2390l24-4 27 14-24 4zM4649 2407l26-15 25 5-26 14zM4625 2419l27-16 25 4-27 15zM4968 2412l24-3 27 15-24 2zM4624 2432l27-15 25 3-27 15zM4994 2434l24-2 29 15-24 2zM5019 2445l24-1 28 16-23 1zM4598 2458l28-17 25 3-28 16zM4572 2485l28-18 25 2-28 17zM5047 2468l24-1 29 17-23 0zM4544 2512l29-19 25 1-29 18zM5076 2491l24 0 30 17-24-1zM4516 2540l29-19 25-1-29 19zM5133 2527l24 2 31 19-24-3z"/><path fill="#1bd20c" d="M4652 2367l26-15 24 6-25 14zM4628 2393l26-16 25 4-26 15zM4627 2406l26-16 25 5-27 14zM4989 2411l24-3 27 16-23 2zM4602 2432l27-16 24 3-26 16zM5016 2434l24-2 28 16-23 1zM4600 2445l27-16 25 3-27 15zM4574 2472l28-18 25 2-28 17zM5044 2457l24-1 28 17-23 0zM4547 2499l28-18 25 1-28 17zM5073 2480l23 0 30 18-24-1z"/><path fill="#24d80c" d="M4784 2349l24-10 26 10-25 9zM4762 2357l25-11 25 9-25 10zM4806 2355l25-9 25 10-24 9zM4740 2366l25-12 25 8-25 11zM4828 2362l25-9 26 11-25 8zM4851 2369l24-8 27 12-25 7zM4874 2376l24-7 27 13-25 6zM4717 2388l26-12 25 7-26 11zM4898 2397l25-6 27 12-24 6zM4922 2405l24-5 28 13-25 5zM4670 2421l26-14 26 6-27 13zM4645 2446l27-15 25 4-27 14zM4619 2470l28-16 25 3-27 16zM5111 2524l24 2 31 17-24-2zM4510 2564l30-19 26-1-31 18zM4480 2593l30-21 26-2-31 20z"/><path fill="#18d20c" d="M4630 2379l26-16 24 5-26 15zM4605 2405l27-16 24 4-26 15zM4604 2419l26-17 25 4-27 16zM5013 2422l24-2 28 17-24 1zM5041 2446l23-1 29 16-24 1zM4576 2459l27-17 25 2-27 16zM4549 2487l28-19 25 1-28 18zM5069 2469l24 0 29 18-24-1zM5098 2493l24 1 30 18-24-2zM4519 2528l29-20 25 0-29 18zM5129 2517l23 2 31 19-24-3zM4490 2557l29-21 26-1-30 19zM4460 2586l30-21 25-3-30 21z"/><path fill="#15d20c" d="M4607 2392l26-17 24 4-26 16zM4580 2433l27-18 24 3-27 16zM5038 2434l23-1 28 17-23 0zM4578 2446l27-18 25 3-27 16zM5066 2458l23 0 29 17-23 0zM4552 2474l27-19 25 1-28 18zM5095 2482l23 1 29 18-23-2zM4522 2515l28-19 25-1-28 19zM5124 2506l24 2 30 19-23-3zM4493 2544l29-20 25-2-29 20zM5155 2531l24 3 31 19-24-4zM4464 2574l29-21 25-3-29 21z"/><path fill="#27d80c" d="M4784 2362l25-10 25 10-24 9zM4762 2370l25-11 25 9-25 10zM4739 2379l26-12 25 8-25 11zM4875 2389l25-7 26 12-24 6zM4693 2411l26-14 26 6-26 13zM4948 2426l24-4 28 14-24 3zM5000 2457l24-3 29 16-24 1zM4592 2496l29-17 25 2-28 16zM5054 2490l24-1 30 16-24 0z"/><path fill="#12cf0f" d="M4584 2405l26-17 24 3-26 17zM4557 2447l27-18 24 2-27 17zM5062 2446l23 0 29 18-23-1zM4554 2460l28-18 24 2-28 17zM4527 2489l28-19 25 0-28 19zM4496 2531l29-20 25-1-29 19zM5151 2520l23 3 30 20-23-4zM4467 2561l30-21 25-2-30 20z"/><path fill="#27d809" d="M4806 2368l25-9 26 10-25 9zM4829 2374l25-8 26 11-25 7zM4784 2375l25-10 26 10-25 9zM4852 2381l25-7 26 11-25 7zM4762 2383l25-11 26 9-25 10zM4807 2381l25-9 26 10-25 8zM4739 2392l26-12 25 8-25 10zM4830 2387l25-9 26 11-25 8zM4784 2388l26-10 26 9-26 9zM4716 2401l26-13 26 7-26 12zM4853 2394l25-8 26 11-24 7zM4876 2401l25-7 27 12-25 6zM4900 2409l25-6 27 12-25 5zM4716 2413l26-12 26 7-26 11zM4924 2417l24-5 28 13-24 4zM4692 2423l27-13 26 6-27 12zM4669 2434l27-14 25 5-27 13zM4644 2458l27-15 26 4-28 14zM4975 2447l24-3 29 14-24 3zM4617 2483l28-16 26 2-28 16zM5028 2478l25-1 29 16-24 0zM4565 2522l29-18 26 1-29 17zM5084 2512l24 0 31 17-24-1zM4536 2549l30-19 26 0-30 17z"/><path fill="#0fcf0f" d="M4561 2420l26-18 24 2-26 17zM4559 2433l27-18 23 2-26 18zM4530 2476l28-20 24 1-28 19zM5091 2471l23 1 29 18-23-2zM4500 2518l28-20 25-1-29 20zM5120 2496l23 1 30 19-23-2zM4437 2592l30-22 25-3-30 21z"/><path fill="#09cc0f" d="M4538 2435l26-19 24 1-27 18zM4508 2478l28-20 24 0-28 20zM5112 2473l23 2 29 19-23-2zM4506 2492l27-20 24 0-27 19zM4478 2522l28-21 24-1-28 20zM5142 2499l22 2 30 20-23-3zM4474 2535l29-21 24-1-29 20zM5172 2525l23 3 30 20-22-4zM4445 2566l29-22 25-2-30 21zM4410 2611l31-23 24-4-30 22z"/><path fill="#15cf0c" d="M4582 2419l27-17 24 3-27 16zM4433 2605l31-23 25-3-31 21z"/><path fill="#06cc15" d="M4514 2451l27-20 23 0-27 19zM4481 2509l28-21 24-1-28 20zM4449 2553l29-22 24-2-29 21z"/><path fill="#1bd50c" d="M4966 2400l23-3 28 15-24 3zM4992 2423l24-3 28 16-24 2zM5102 2504l24 1 30 18-23-2zM4487 2569l29-21 26-1-30 19zM4456 2599l31-22 25-3-31 21z"/><path fill="#06c627" d="M4490 2467l27-20 24-1-28 20zM4456 2526l28-22 24-1-28 21zM5163 2503l22 3 30 20-22-4zM4423 2572l29-23 24-3-29 22z"/><path fill="#0ccc0f" d="M4535 2449l27-20 24 2-27 18z"/><path fill="#2ad809" d="M4762 2396l25-11 26 8-25 10zM4807 2393l26-9 26 10-25 8zM4739 2404l26-12 26 8-26 11zM4831 2399l25-8 26 10-25 8zM4785 2400l25-10 27 9-26 9zM4854 2406l25-8 27 11-25 7zM4762 2408l26-11 26 8-26 10zM4878 2413l25-7 27 12-25 6zM4739 2417l26-12 26 7-26 11zM4902 2420l24-6 28 13-25 5zM4715 2426l27-13 26 7-27 11zM4926 2429l24-5 28 13-24 4zM4692 2436l26-14 26 6-27 13zM4668 2446l27-14 26 5-28 13zM4950 2437l25-4 28 14-25 3zM4642 2470l28-15 26 4-28 14zM4977 2458l25-3 29 14-25 2zM5003 2468l24-3 29 16-24 1zM4590 2508l29-17 26 2-29 16zM5058 2500l24 0 30 16-24-1zM4562 2534l30-18 26 0-30 17zM4507 2576l30-19 26-2-31 19z"/><path fill="#03c336" d="M4466 2485l28-22 23-1-28 21zM5189 2518l22 4 30 22-22-5z"/><path fill="#06cc12" d="M4511 2464l27-19 24 0-27 19zM4415 2598l30-23 24-4-30 23z"/><path fill="#03c04b" d="M4442 2503l28-23 23-1-28 21zM4405 2564l29-23 24-4-29 23z"/><path fill="#06c921" d="M4487 2481l28-21 23 0-27 20z"/><path fill="#0ccf0f" d="M4533 2462l27-19 24 1-27 18zM5087 2460l23 0 29 19-23-2zM4503 2505l28-20 24 0-28 19zM5116 2485l23 1 29 19-22-2zM5146 2510l23 2 30 20-23-3zM4471 2548l29-21 24-2-29 21zM5177 2535l23 4 31 20-23-4zM4441 2579l30-22 24-3-29 22z"/><path fill="#00bd5d" d="M4417 2522l28-23 23-3-28 23z"/><path fill="#2dd809" d="M4808 2405l25-9 27 10-26 8zM4667 2459l27-15 26 5-27 13zM4952 2449l25-4 29 13-25 3zM4616 2495l28-16 26 2-28 15zM5031 2489l25-1 30 15-25 1zM4533 2560l30-18 27-1-31 18z"/><path fill="#03c633" d="M4463 2499l28-22 23-1-28 21z"/><path fill="#00b772" d="M4393 2542l28-24 23-4-29 24z"/><path fill="#03c045" d="M4438 2517l28-23 24-2-29 22zM5215 2535l22 4 30 22-22-5z"/><path fill="#2ddb09" d="M4831 2411l26-8 27 10-26 8zM4785 2412l26-10 26 9-26 9zM4855 2418l25-8 27 11-25 7zM4762 2420l26-11 26 8-26 10zM4808 2417l26-9 27 10-26 8zM4879 2424l25-6 28 11-26 6zM4738 2429l27-12 26 7-26 11zM4715 2438l26-13 27 7-27 11zM4903 2432l25-6 28 12-25 5zM4691 2448l27-13 26 5-27 13zM4928 2440l25-5 28 13-25 4zM4641 2482l28-15 26 4-28 14zM5005 2479l25-3 30 15-25 2zM4588 2520l29-17 26 1-29 16zM5088 2522l25 0 31 17-25-1zM4503 2588l31-20 26-2-31 19z"/><path fill="#06c91b" d="M4484 2495l28-21 24-1-28 21zM5168 2514l22 3 30 20-22-4zM5199 2540l22 4 31 21-22-5z"/><path fill="#00b184" d="M4368 2562l28-25 23-4-29 24z"/><path fill="#00bd57" d="M4414 2536l28-23 23-3-28 23zM5241 2552l22 5 30 23-22-6zM4375 2598l30-24 23-5-29 24z"/><path fill="#06c62d" d="M4459 2513l28-22 24-2-28 21z"/><path fill="#00a89c" d="M4343 2584l28-26 23-5-29 25zM4302 2650l30-27 22-7-30 27z"/><path fill="#00b76c" d="M4389 2556l28-24 23-4-29 24z"/><path fill="#03c33f" d="M4435 2531l28-23 23-2-28 22z"/><path fill="#30db09" d="M4832 2423l26-8 27 10-26 7zM4785 2424l26-10 27 9-26 9zM4762 2432l26-11 27 8-27 10zM4856 2429l26-7 27 10-25 7zM4809 2429l26-9 27 9-26 9zM4738 2441l27-12 26 7-26 11zM4880 2436l26-7 28 12-26 5zM4714 2450l27-13 27 6-27 12zM4905 2443l25-6 28 13-25 4zM4690 2460l27-13 27 5-28 12zM4929 2451l26-5 28 13-25 4zM4665 2471l28-15 26 5-27 13zM4955 2460l25-4 29 13-25 3zM4980 2469l25-3 29 14-25 2zM4639 2494l28-15 27 3-28 14zM4614 2506l28-16 27 3-29 15zM5035 2499l25-1 30 15-25 1zM5061 2510l25 0 31 16-25-1zM4586 2531l29-17 27 1-30 17zM4560 2545l29-17 27 0-30 17zM4530 2572l31-19 26-1-30 18z"/><path fill="#009ca8" d="M4318 2606l28-27 23-5-29 26z"/><path fill="#06c918" d="M5137 2488l23 2 29 20-22-3z"/><path fill="#00b181" d="M4363 2577l29-25 23-5-29 25z"/><path fill="#00bd51" d="M4410 2550l28-23 23-3-28 22z"/><path fill="#008db4" d="M4292 2629l29-27 22-7-29 27z"/><path fill="#00ab96" d="M4338 2598l29-26 22-5-29 25z"/><path fill="#00ba66" d="M4384 2570l29-24 23-4-29 24z"/><path fill="#007ec0" d="M4266 2653l29-28 22-7-29 27z"/><path fill="#03c339" d="M4431 2545l28-23 24-2-29 21zM5220 2546l22 5 31 21-22-5zM4397 2591l29-23 24-4-29 23z"/><path fill="#33db09" d="M4785 2436l27-10 27 9-26 9zM4833 2435l26-9 27 10-26 8zM4762 2444l26-11 27 8-26 10zM4857 2441l26-8 28 11-26 6zM4809 2441l27-9 27 9-26 8zM4738 2452l27-11 27 6-27 11zM4882 2447l25-6 28 11-25 6zM4713 2462l28-13 27 6-28 12zM4906 2454l26-5 28 11-25 5zM4689 2472l28-14 26 5-27 13zM4931 2462l26-5 29 13-26 4zM4664 2482l28-14 27 4-28 14zM4957 2470l25-4 29 14-25 3zM4982 2479l26-3 29 14-25 2zM5008 2489l25-2 30 15-24 1zM4612 2518l29-16 27 2-29 15zM5065 2520l25 0 31 16-25-1zM4557 2557l30-18 27 0-30 17z"/><path fill="#009fa5" d="M4312 2621l29-27 23-6-29 26z"/><path fill="#12cf0c" d="M4525 2502l28-19 24 0-28 18z"/><path fill="#00b478" d="M4359 2591l29-25 23-5-29 25z"/><path fill="#006fcc" d="M4240 2678l30-29 21-8-29 28z"/><path fill="#0093b1" d="M4287 2644l29-28 22-6-29 27z"/><path fill="#06c91e" d="M4452 2540l29-22 24-2-29 21zM4419 2585l30-23 24-3-30 22z"/><path fill="#00ae90" d="M4333 2613l29-26 23-6-29 26z"/><path fill="#00ba5d" d="M4380 2584l29-24 23-4-29 23z"/><path fill="#0084bd" d="M4260 2668l30-28 22-8-30 28z"/><path fill="#03c630" d="M4427 2558l29-22 24-3-29 22zM4392 2605l30-24 24-4-30 23z"/><path fill="#06c62a" d="M5194 2529l22 4 30 22-22-5z"/><path fill="#36de09" d="M4786 2448l26-10 28 8-27 9zM4834 2446l26-8 28 9-27 8zM4762 2455l27-10 27 7-27 10zM4858 2452l26-8 28 11-26 6zM4810 2452l26-9 28 9-26 8zM4737 2464l28-12 27 7-27 11zM4883 2458l26-6 28 11-25 5zM4713 2473l27-12 28 5-28 12zM4688 2483l28-13 27 4-28 13zM4663 2494l28-14 27 3-28 14zM4638 2506l28-16 27 3-29 15zM4985 2490l26-3 30 14-26 2zM5011 2499l26-2 30 15-25 1zM5038 2509l25-1 31 15-25 1zM4610 2529l29-16 27 2-29 15zM4584 2543l29-17 27 1-30 16zM4527 2583l31-19 27-1-31 18z"/><path fill="#00a5a2" d="M4307 2636l30-27 22-7-29 27z"/><path fill="#00b472" d="M4354 2605l29-25 24-5-30 25z"/><path fill="#03c042" d="M4401 2578l29-24 24-3-29 22zM4366 2626l30-25 24-5-30 24z"/><path fill="#0096ae" d="M4281 2659l30-28 22-7-30 27z"/><path fill="#00ae87" d="M4328 2627l30-26 23-6-30 26z"/><path fill="#39de09" d="M4786 2459l27-10 27 8-26 9zM4834 2457l27-8 28 9-26 8zM4908 2465l26-6 29 12-26 5zM4933 2473l26-5 29 12-25 4zM4959 2481l26-4 29 13-25 3zM4636 2517l29-15 27 2-29 15zM4555 2568l30-18 27 0-31 17z"/><path fill="#00b769" d="M4349 2619l30-25 23-5-30 24z"/><path fill="#3fde06" d="M4762 2467l27-11 27 7-27 10zM4662 2505l28-14 28 4-29 13z"/><path fill="#3fe106" d="M4859 2463l27-8 28 11-26 6zM4737 2475l28-11 27 6-27 11zM4687 2494l28-13 28 4-29 13zM4582 2554l30-17 27 0-31 17z"/><path fill="#42e106" d="M4810 2463l27-9 28 9-26 8zM4884 2469l27-7 28 11-26 6zM4712 2484l28-12 28 5-28 12zM5042 2519l25-1 31 15-25 0z"/><path fill="#00b17e" d="M4323 2641l30-26 23-6-30 26z"/><path fill="#00c04e" d="M4371 2612l29-25 24-5-30 24z"/><path fill="#48e106" d="M4786 2470l27-10 28 8-27 9zM4835 2468l27-8 28 9-26 8zM4936 2483l25-5 30 13-26 3zM4962 2491l25-4 30 13-25 3zM4988 2500l26-3 30 14-26 1z"/><path fill="#00ba60" d="M4344 2633l30-25 24-6-31 25z"/><path fill="#45e106" d="M4910 2476l26-6 29 12-26 4zM5015 2509l25-2 31 14-26 1zM4608 2541l30-17 27 2-30 15z"/><path fill="#4be406" d="M4762 2478l27-11 28 7-27 10zM4634 2528l30-15 27 2-29 15zM4552 2579l31-18 27-1-31 18z"/><path fill="#4ee406" d="M4860 2473l27-7 29 10-27 7zM4737 2486l28-11 27 6-27 10zM4660 2516l29-14 28 3-29 14z"/><path fill="#51e406" d="M4811 2474l27-9 28 9-27 8zM4712 2495l28-12 28 5-29 12zM4686 2506l29-14 27 4-28 13zM4579 2565l31-17 27 0-31 16z"/><path fill="#54e406" d="M4886 2479l26-6 30 11-27 5z"/><path fill="#57e706" d="M4786 2481l28-10 28 8-27 9zM4912 2486l26-6 30 12-27 4zM4606 2551l30-16 28 1-31 16z"/><path fill="#5ae706" d="M4836 2479l27-8 29 9-27 7zM4938 2493l26-4 30 12-26 3zM4964 2501l26-4 30 13-25 3zM4991 2509l26-2 30 13-25 2zM5018 2519l25-2 32 14-26 1z"/><path fill="#06c924" d="M4388 2618l30-24 24-5-30 24z"/><path fill="#5de706" d="M4762 2489l27-11 29 6-28 10zM4633 2539l29-15 28 2-30 14z"/><path fill="#60e706" d="M4862 2484l26-7 30 9-27 7zM4736 2497l29-12 28 6-28 11zM4659 2527l29-14 28 3-29 13z"/><path fill="#63ea06" d="M4812 2485l27-9 29 8-28 8z"/><path fill="#66ea06" d="M4887 2490l27-7 30 11-27 5zM4577 2576l31-18 27 0-31 17z"/><path fill="#69ea06" d="M4787 2492l27-10 29 7-28 9zM4837 2489l27-8 29 9-27 7zM4913 2496l27-5 30 11-26 4z"/><path fill="#60ea06" d="M4711 2506l28-12 29 5-29 11zM4685 2516l29-13 28 4-29 12z"/><path fill="#6fed03" d="M4762 2499l28-11 28 7-28 10zM4967 2511l26-4 31 13-26 2zM4994 2519l26-3 31 14-26 1zM4631 2549l30-15 28 2-30 14z"/><path fill="#72ed03" d="M4863 2494l27-7 29 9-27 7zM4812 2495l28-9 29 8-28 8zM4736 2508l29-12 28 5-29 11zM4710 2517l29-13 28 5-28 12zM4658 2538l29-15 28 3-29 14z"/><path fill="#6cea06" d="M4940 2503l26-4 31 11-27 4zM4604 2562l30-16 28 1-30 15z"/><path fill="#78ed03" d="M4889 2500l27-7 30 11-27 5z"/><path fill="#7bf003" d="M4787 2502l28-10 29 7-28 9zM4838 2499l27-8 30 9-28 7z"/><path fill="#7ef003" d="M4915 2506l27-6 31 11-27 5z"/><path fill="#81f003" d="M4762 2509l28-10 29 6-29 10zM4942 2513l27-5 31 12-27 3zM4602 2572l31-16 28 1-31 15z"/><path fill="#84f303" d="M4864 2504l27-7 30 9-27 6zM4736 2518l29-12 28 5-29 11zM4629 2560l31-16 28 2-31 14z"/><path fill="#87f303" d="M4813 2505l28-9 29 8-28 8zM4710 2527l29-12 28 4-29 12zM4683 2537l30-13 28 3-29 13zM4656 2548l30-14 29 2-30 14z"/><path fill="#75ed03" d="M4684 2527l29-14 29 4-30 13z"/><path fill="#8df303" d="M4891 2509l27-6 30 10-27 5zM4787 2512l29-10 29 7-28 9z"/><path fill="#90f603" d="M4839 2509l28-8 30 9-28 7zM4917 2515l27-5 31 11-27 4z"/><path fill="#84f003" d="M4969 2520l27-3 31 12-26 3z"/><path fill="#93f603" d="M4761 2519l29-10 29 6-28 10z"/><path fill="#99f603" d="M4865 2514l28-7 30 9-27 6zM4813 2515l29-9 29 8-28 8zM4735 2528l29-12 30 5-30 11zM4627 2570l31-16 29 2-31 14z"/><path fill="#96f603" d="M4944 2522l27-4 32 11-27 3z"/><path fill="#a2f900" d="M4892 2519l28-6 30 9-27 6zM4788 2522l28-10 30 7-29 8z"/><path fill="#a5f900" d="M4840 2519l28-8 30 8-28 7z"/><path fill="#9cf903" d="M4709 2537l29-12 29 4-29 11zM4682 2547l30-13 29 3-30 12zM4655 2558l30-14 29 2-30 13z"/><path fill="#a8fc00" d="M4919 2524l28-5 31 11-27 4zM4761 2529l29-10 30 5-29 10z"/><path fill="#aefc00" d="M4867 2523l28-7 30 9-28 6zM4814 2525l29-9 30 7-29 8zM4735 2538l29-12 30 5-30 10z"/><path fill="#b7ff00" d="M4788 2531l29-10 30 7-29 9zM4894 2528l28-6 31 9-28 6z"/><path fill="#baff00" d="M4841 2528l28-8 31 8-28 7z"/><path fill="#b1fc00" d="M4708 2547l30-13 29 4-30 12z"/><path fill="#bdff00" d="M4761 2539l30-11 30 5-30 10z"/><path fill="#c0fc00" d="M4815 2534l29-9 30 7-29 8zM4868 2532l28-7 31 9-28 6z"/><path fill="#b1ff00" d="M4681 2557l30-14 29 3-30 13zM4653 2568l31-15 29 2-31 14z"/><path fill="#c0ff00" d="M4735 2547l29-12 30 5-30 11z"/><path fill="#c6fc00" d="M4788 2540l30-9 30 6-29 9z"/><path fill="#c9fc00" d="M4842 2537l29-8 31 8-29 7z"/><path fill="#c3fc00" d="M4707 2556l31-12 29 3-30 12zM4680 2566l31-13 29 2-31 13z"/><path fill="#ccfc00" d="M4761 2548l30-11 30 5-29 10z"/><path fill="#d2fc00" d="M4815 2543l30-9 31 7-30 8z"/><path fill="#cffc00" d="M4734 2556l30-11 31 4-31 10z"/><path fill="#d8f900" d="M4789 2549l29-9 31 5-30 9z"/><path fill="#d2f900" d="M4707 2565l30-12 30 3-30 12z"/><path fill="#dbf900" d="M4761 2557l30-11 31 5-30 10z"/><path fill="#e1f900" d="M4734 2565l30-12 31 4-31 11z"/></g>
<path transform="scale(.1)" fill="none" stroke="#000" stroke-opacity="0.32" stroke-width="4.0" d="M4243 2676l20-9 20-10 21-9 21-8 22-8 22-8 22-7 22-7 23-7 23-6 23-5 24-5 24-5 25-4 25-3 25-3 25-3 26-2 27-1 27-1 27 0 27 0M4243 2676l26-24 25-24 26-24 25-22 25-21 25-21 25-20 25-19 24-18 24-17 24-17 23-15 24-15 23-14 23-14 23-13 22-12 23-11 22-10 22-10 21-9 22-9M4269 2652l20-9 21-9 21-8 21-8 21-8 22-6 22-7 23-6 23-6 23-5 23-5 24-4 24-4 25-3 25-3 25-2 26-2 26-1 26 0 27 0 27 0 28 2M4263 2667l26-24 26-24 26-22 25-22 25-20 25-20 25-19 25-19 24-17 24-17 24-15 24-16 23-14 23-13 23-13 23-12 23-11 22-11 22-10 22-9 22-8 21-8M4294 2628l21-9 21-8 21-7 21-7 22-7 22-6 22-6 22-5 23-5 24-5 23-4 24-3 24-3 25-2 25-2 25-2 26 0 26-1 27 1 26 1 28 1 27 2M4283 2657l27-23 26-23 25-21 26-21 25-20 25-19 25-19 25-17 24-17 24-16 24-15 24-14 24-14 23-13 23-12 23-11 22-11 23-9 22-10 22-8 22-8 21-7M4320 2604l21-7 20-7 21-7 22-7 22-5 22-6 22-5 23-5 23-4 23-3 24-3 24-3 24-2 25-2 25-1 25 0 26 0 26 0 26 1 27 2 27 3 28 3M4304 2648l27-22 26-22 25-21 26-20 26-20 25-18 25-18 24-16 25-16 24-16 24-14 24-14 23-12 24-13 23-11 23-10 22-10 23-9 22-9 22-8 22-7 21-6M4345 2582l21-7 21-6 21-6 22-6 21-5 23-5 22-4 23-4 23-3 23-3 24-2 24-2 24-2 25 0 25-1 26 1 25 1 26 1 27 2 27 3 27 3 28 4M4325 2640l27-22 26-21 26-21 26-19 25-18 25-18 25-17 25-16 25-15 24-15 24-14 24-12 23-13 24-11 23-10 23-10 22-9 23-9 22-8 22-7 22-6 21-6M4370 2561l21-6 21-6 22-6 21-4 22-5 22-4 23-3 23-4 23-2 23-2 24-2 24-1 24 0 25 0 25 0 26 2 25 1 27 3 26 2 27 4 27 4 28 5M4347 2632l26-22 27-20 26-19 25-19 26-18 25-17 25-16 25-15 25-15 24-14 24-13 24-12 24-11 23-11 23-10 23-9 23-8 22-8 22-7 22-6 22-6 22-5M4395 2540l21-5 21-5 22-5 21-4 22-4 23-3 22-3 23-2 23-2 24-1 24-1 24 0 24 0 25 1 25 1 26 2 25 3 26 3 27 4 27 4 27 5 27 6M4369 2624l26-20 27-20 26-19 26-18 25-17 26-16 25-16 25-14 24-14 25-13 24-12 24-11 23-11 24-10 23-9 23-9 22-7 23-7 22-6 22-6 22-5 21-4M4420 2520l21-4 21-5 22-4 21-3 22-3 23-3 22-2 23-1 24-1 23-1 24 0 24 1 25 1 24 2 26 2 25 3 26 3 26 4 26 5 27 5 27 6 28 6M4391 2617l26-20 27-19 26-18 26-17 26-16 25-16 25-15 25-13 25-13 24-13 25-11 24-11 23-10 24-9 23-8 23-8 22-7 23-6 22-6 22-4 22-5 21-3M4445 2501l21-4 21-3 21-3 22-3 22-2 23-2 22-1 23-1 24 0 23 0 24 1 24 1 25 2 25 2 25 3 25 4 26 4 26 5 27 5 26 7 27 6 28 8M4413 2610l27-19 26-18 27-18 26-16 26-16 25-14 25-14 25-13 25-12 24-12 25-11 24-9 23-10 24-8 23-8 23-7 23-6 22-5 22-5 22-4 22-4 21-2M4469 2483l21-3 21-3 22-2 22-2 22-2 22-1 23 0 23 0 23 0 24 1 24 2 24 2 25 3 24 3 26 4 25 4 26 5 26 6 26 6 27 7 27 8 28 8M4436 2603l27-18 26-17 27-17 26-15 26-15 25-14 26-13 25-12 24-12 25-11 24-9 24-10 24-8 23-8 23-7 23-6 23-5 22-5 22-4 22-3 22-3 21-2M4493 2466l21-3 21-2 22-2 22-1 22-1 23 0 22 0 23 1 24 1 23 2 24 3 25 3 24 3 25 4 25 5 26 5 25 6 26 6 27 7 27 8 27 9 27 9M4459 2597l27-17 27-17 26-15 26-15 26-14 26-13 25-13 25-11 25-11 24-10 25-9 24-8 23-8 24-7 23-6 23-5 23-5 22-4 22-3 22-3 22-2 21-1M4517 2449l21-1 21-2 22-1 22-1 22 0 23 1 23 1 23 1 23 3 24 2 24 3 24 4 24 4 25 5 25 6 26 6 26 6 26 8 26 7 27 9 27 9 27 10M4482 2592l27-17 27-16 27-14 26-14 26-14 26-12 25-12 25-10 25-10 24-9 25-9 24-7 23-7 24-6 23-6 23-4 22-4 23-4 22-2 22-2 21-1 22-1M4540 2434l22-2 21 0 22-1 22 1 22 0 23 2 23 1 23 3 23 2 24 4 24 4 24 4 24 5 25 6 25 6 26 7 26 7 26 9 26 8 26 10 27 10 28 10M4506 2587l27-16 27-15 27-14 26-13 26-13 26-11 25-11 25-10 25-9 25-8 24-8 24-7 24-6 23-5 23-5 23-4 23-3 22-3 22-1 22-2 21 0 22 0M4564 2419l21-1 22 0 21 1 22 0 23 2 22 2 23 2 23 3 24 4 23 4 24 5 25 5 24 6 25 6 25 7 25 8 26 8 26 9 26 10 27 10 27 11 27 11M4530 2582l27-15 27-14 27-13 26-13 26-11 26-11 26-10 25-9 25-8 24-8 24-7 24-6 24-5 24-5 23-4 23-3 22-2 22-2 22-1 22 0 22 0 21 1M4587 2405l21 0 22 0 22 1 22 2 22 2 23 3 23 3 23 4 23 4 24 5 24 6 24 6 25 6 24 8 25 7 26 9 25 9 26 10 27 10 26 11 27 12 27 12M4555 2578l27-14 27-13 27-13 26-11 26-11 26-10 25-9 26-9 24-7 25-7 24-6 24-5 24-5 23-3 23-4 23-2 23-2 22-1 22 0 22 0 21 1 21 2M4610 2391l21 1 22 1 22 2 22 3 22 2 23 4 23 4 23 4 23 5 24 6 24 6 24 7 25 7 24 8 25 9 26 9 25 10 26 11 26 11 27 12 27 12 27 13M4580 2575l27-14 27-12 27-12 26-11 26-10 26-9 26-8 25-8 25-6 24-6 24-5 24-5 24-4 23-3 23-2 23-1 23-1 22-1 22 1 22 1 21 2 21 2M4633 2378l21 2 22 2 22 3 22 3 22 3 23 4 23 5 23 5 23 6 24 7 24 7 24 7 25 8 24 9 25 10 26 10 25 10 26 11 26 12 26 13 27 13 27 14M4605 2572l27-13 27-12 27-10 27-10 26-9 26-9 25-7 25-7 25-6 25-5 24-4 24-4 23-3 24-2 23-2 23 0 22-1 22 1 22 1 22 2 21 2 21 3M4655 2366l22 3 21 2 22 4 22 4 23 4 22 5 23 5 24 6 23 7 24 7 23 8 25 8 24 9 25 9 25 11 25 10 25 12 26 12 26 13 27 13 26 14 27 15M4630 2569l28-12 27-10 27-10 26-9 26-9 26-7 26-7 25-6 25-5 24-4 25-4 24-3 23-2 23-1 23-1 23 0 22 1 23 1 21 2 22 3 21 3 21 4M4678 2355l21 3 22 4 22 4 22 4 22 5 23 6 23 6 23 7 23 7 24 8 24 8 24 9 24 10 25 10 25 11 25 12 26 12 25 13 26 13 26 15 27 14 27 16M4656 2567l28-11 27-10 27-9 26-8 27-7 25-7 26-6 25-5 25-4 24-4 25-2 24-2 23-2 23 0 23 0 23 0 22 2 22 2 22 3 21 3 22 4 20 4M4700 2345l21 3 22 4 22 5 22 5 22 6 23 7 23 6 23 8 23 8 24 9 24 9 24 10 24 10 25 11 25 12 25 12 25 13 26 14 26 14 26 15 26 15 27 17M4683 2566l27-10 28-9 26-9 27-7 26-7 26-5 25-5 26-5 24-3 25-3 24-2 24-1 23 0 24 0 22 1 23 1 22 3 22 2 22 4 21 4 21 5 21 5M4722 2335l21 4 22 5 22 5 22 6 22 7 23 7 23 8 23 8 23 9 24 9 24 10 24 10 24 12 25 11 25 13 25 13 25 14 25 14 26 15 26 16 27 16 26 17M4710 2565l27-9 27-8 27-8 27-6 26-6 26-5 25-4 25-3 25-3 25-2 24-1 23 0 24 0 23 1 23 2 22 2 23 3 21 4 22 4 21 5 21 5 21 6M4743 2326l22 5 22 5 22 6 22 7 22 7 23 8 23 8 23 9 23 10 24 10 23 11 24 11 25 12 24 12 25 14 25 13 25 15 26 15 25 16 26 16 27 17 26 18M4737 2565l27-9 28-7 26-6 27-6 26-5 26-4 25-3 25-3 25-1 25-1 24-1 23 1 24 1 23 2 23 2 22 3 22 4 22 4 21 5 22 6 21 6 20 7M4765 2317l21 6 22 6 22 7 22 7 23 8 22 9 23 9 23 10 23 10 24 11 24 11 24 12 24 13 24 13 25 14 25 14 25 16 25 15 26 17 26 17 26 18 26 19M4764 2565l28-7 27-7 27-5 27-5 26-4 25-3 26-3 25-1 25-1 24 0 24 0 24 1 23 2 23 3 23 3 22 4 22 5 22 5 21 6 21 6 21 7 20 8"/>
<circle cx="476.3" cy="235.9" r="1.25" fill="#b01010"/>
<circle cx="424.5" cy="271.8" r="1.1" fill="#f4d8d8" stroke="#d08080" stroke-width="0.4"/>
<circle cx="476.3" cy="257.3" r="1.1" fill="#f4d8d8" stroke="#d08080" stroke-width="0.4"/>
<circle cx="529.1" cy="258" r="1.1" fill="#f4d8d8" stroke="#d08080" stroke-width="0.4"/>
<g font-size="5.1" stroke="#111" stroke-width="0.14"><text transform="matrix(0.95 0 0 1.04 423.19 275.32)" text-anchor="end">40</text><text transform="matrix(0.95 0 0 1.04 422.81 265.48)" text-anchor="end">50</text><text transform="matrix(0.95 0 0 1.04 422.44 255.64)" text-anchor="end">60</text><text transform="matrix(0.95 0 0 1.04 422.06 245.81)" text-anchor="end">70</text><text transform="matrix(0.95 0 0 1.04 421.68 235.97)" text-anchor="end">80</text><text transform="matrix(0.95 0 0 1.04 421.31 226.13)" text-anchor="end">90</text><text transform="matrix(0.95 0 0 1.04 420.93 216.29)" text-anchor="end">100</text><text transform="matrix(0.95 0 0 1.04 420.68 296.33)" text-anchor="middle" font-size="5.3">60</text><text transform="matrix(0.95 0 0 1.04 432.45 303.24)" text-anchor="middle" font-size="5.3">50</text><text transform="matrix(0.95 0 0 1.04 442.14 308.32)" text-anchor="middle" font-size="5.3">40</text><text transform="matrix(0.95 0 0 1.04 452.35 313.67)" text-anchor="middle" font-size="5.3">30</text><text transform="matrix(0.95 0 0 1.04 463.1 319.31)" text-anchor="middle" font-size="5.3">20</text><text transform="matrix(0.95 0 0 1.04 472.55 323.6)" text-anchor="middle" font-size="5.3">10</text><text transform="matrix(0.95 0 0 1.04 481.16 323.4)" text-anchor="middle" font-size="5.3">30</text><text transform="matrix(0.95 0 0 1.04 487.22 319.11)" text-anchor="middle" font-size="5.3">36</text><text transform="matrix(0.95 0 0 1.04 497.99 313.48)" text-anchor="middle" font-size="5.3">42</text><text transform="matrix(0.95 0 0 1.04 508.21 308.14)" text-anchor="middle" font-size="5.3">48</text><text transform="matrix(0.95 0 0 1.04 517.92 303.06)" text-anchor="middle" font-size="5.3">54</text><text transform="matrix(0.95 0 0 1.04 530.66 297.61)" text-anchor="middle" font-size="5.3">60</text></g>
<text transform="matrix(0.95 0 0 1.04 406.2 323.9)" font-size="5.6" textLength="45.86" lengthAdjust="spacingAndGlyphs" stroke="#111" stroke-width="0.2">C: Temperature (°C)</text>
<text transform="matrix(0.95 0 0 1.04 500.8 324.5)" font-size="5.6" textLength="39.42" lengthAdjust="spacingAndGlyphs" stroke="#111" stroke-width="0.2">D: Time (minute)</text>
<text transform="matrix(0.95 0 0 1.04 407.31 252) rotate(-90)" font-size="5.6" text-anchor="middle" stroke="#111" stroke-width="0.1"><tspan x="0" y="0" textLength="70.04" lengthAdjust="spacingAndGlyphs">DPP IV enzyme inhibitory activity</tspan><tspan x="0" y="5.0" textLength="26.21" lengthAdjust="spacingAndGlyphs">(% inhibition)</tspan></text>
<text transform="matrix(0.95 0 0 1.04 393.6 185.7)" font-size="10.8" font-weight="bold" stroke="#111" stroke-width="0">(l)</text></g>
</svg></body></html>
